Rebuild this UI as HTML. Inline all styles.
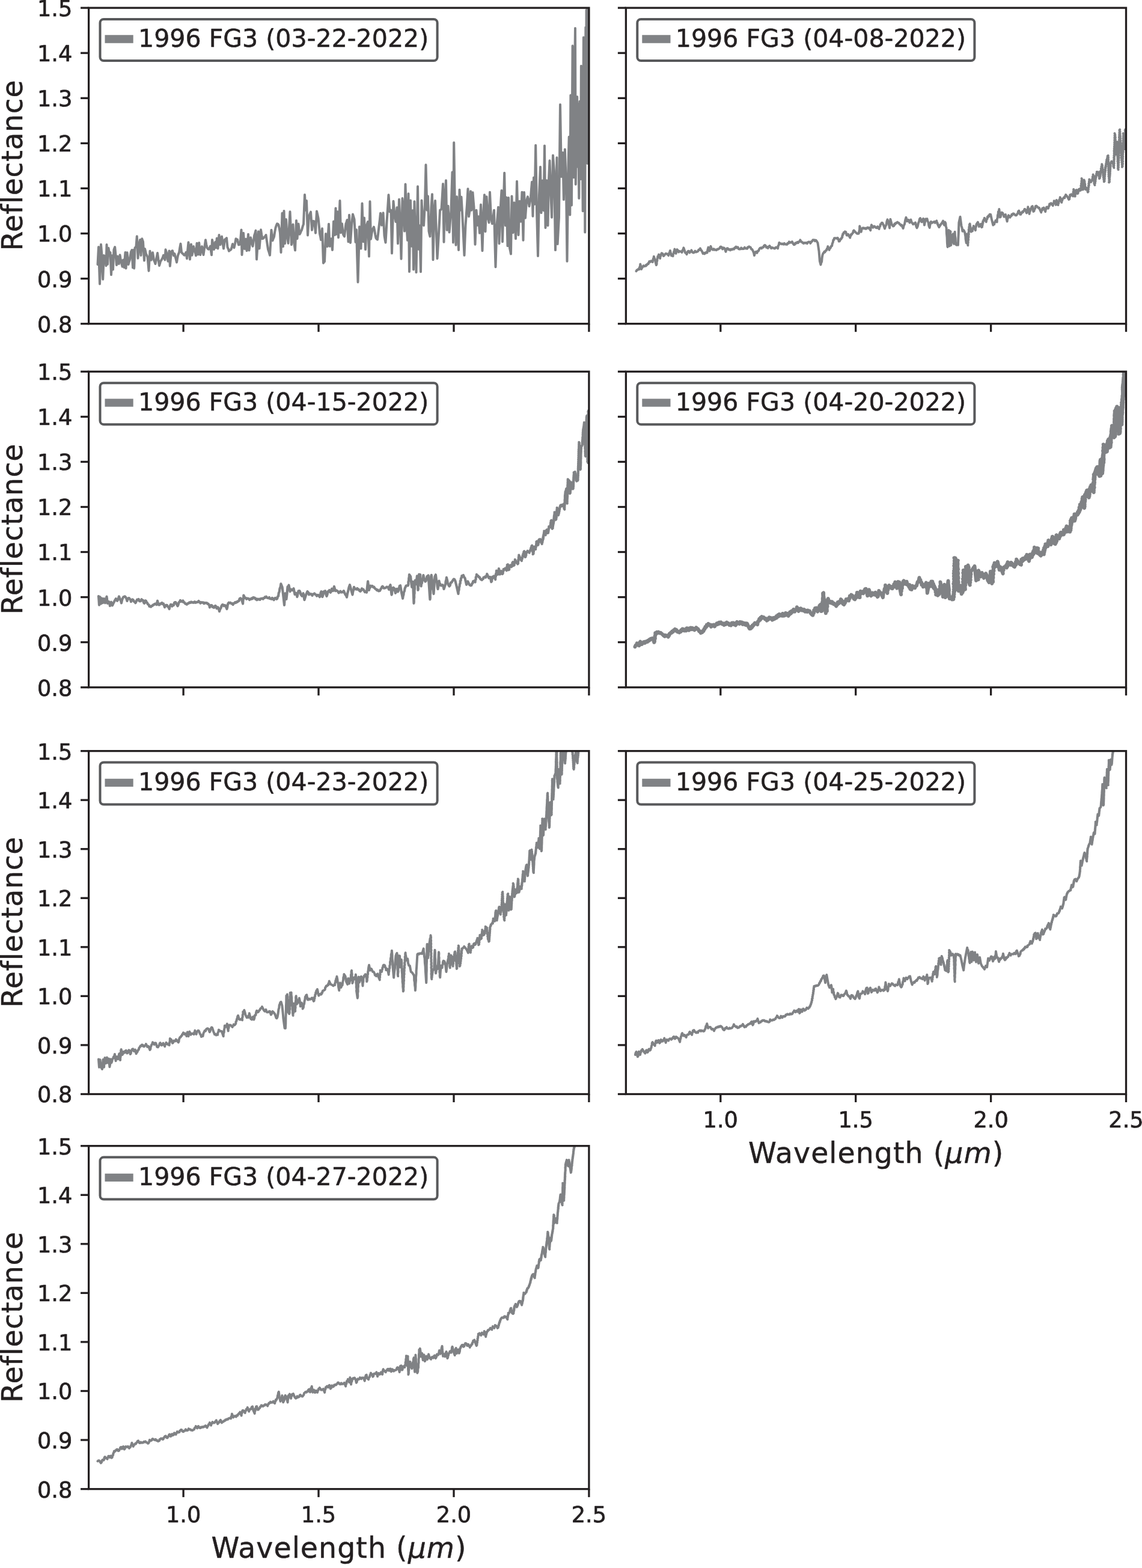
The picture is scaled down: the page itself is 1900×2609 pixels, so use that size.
<!DOCTYPE html>
<html lang="en"><head><meta charset="utf-8">
<title>1996 FG3 reflectance spectra</title>
<style>
html,body{margin:0;padding:0;background:#fff;}
body{width:1900px;height:2609px;overflow:hidden;}
svg{display:block;}
text{font-family:"DejaVu Sans","Liberation Sans",sans-serif;fill:#231f20;stroke:#231f20;stroke-width:0.7px;stroke-linejoin:round;font-variant-ligatures:none;}
.tk{font-size:36.7px;}
.lg{font-size:41.1px;stroke-width:0.5px;}
.lb{font-size:47.4px;stroke-width:0.45px;letter-spacing:0.63px;}
.xl{letter-spacing:1.05px;}
.it{font-style:italic;}
.sp{fill:none;stroke:#231f20;stroke-width:3.3;stroke-linecap:square;}
.ti{fill:none;stroke:#231f20;stroke-width:3.3;stroke-linecap:butt;}
.cv{fill:none;stroke:#808285;stroke-width:4.0;stroke-linejoin:round;stroke-linecap:round;}
.lgb{fill:#fff;stroke:#58595b;stroke-width:4;}
.lgl{stroke:#808285;stroke-width:13.3;stroke-linecap:butt;}
</style></head><body>
<svg width="1900" height="2609" viewBox="0 0 1900 2609">
<rect x="0" y="0" width="1900" height="2609" fill="#fff"/>
<defs>
<clipPath id="c0"><rect x="147.6" y="13.1" width="832.3" height="525.6"/></clipPath>
<clipPath id="c1"><rect x="1041.4" y="13.1" width="832.1" height="525.6"/></clipPath>
<clipPath id="c2"><rect x="147.6" y="618.3" width="832.3" height="525.4"/></clipPath>
<clipPath id="c3"><rect x="1041.4" y="618.3" width="832.1" height="525.4"/></clipPath>
<clipPath id="c4"><rect x="147.6" y="1249.6" width="832.3" height="570.9"/></clipPath>
<clipPath id="c5"><rect x="1041.4" y="1249.6" width="832.1" height="570.9"/></clipPath>
<clipPath id="c6"><rect x="147.6" y="1906.7" width="832.3" height="570.9"/></clipPath>
</defs>
<g>
<polyline class="cv" style="stroke-width:4.0" clip-path="url(#c0)" points="162.5,440 164,411 165,442.1 166,472.4 167,439.9 168,406.8 169.5,425.2 171.2,464.7 172.8,425.1 173.9,426 175,427.7 176.5,442.3 177.5,407.1 179,439.8 180.5,412.7 182,422.3 183.5,420.1 185,457.2 186.5,425.2 188,448.6 189.5,415.2 191.2,411.1 192.8,427.8 194,441.1 195.5,426.5 196.6,432.3 197.8,439 199.5,424.2 200.5,430.1 201.5,434.9 202.5,439.6 203.5,443.6 205,432.6 206.5,444.9 207.5,432.7 208.5,419.9 209.5,446.5 210.5,433 211.5,420.3 212.5,429.8 213.5,440.1 214.6,436.1 215.8,432.7 216.9,425.4 218,418.9 219.5,416 221,445.3 222,416 223.2,446.4 224.5,412.3 225.5,411.5 226.5,409.8 227.8,393.2 229.5,429.7 231,410.1 232,404.2 233,399 234.5,424.9 236.2,397.2 238,402.2 239,418.4 240,433.6 241,413.9 242,417.8 243,422.7 244.2,424.8 245.5,427.7 246.5,438.8 247.5,450.7 248.5,433.7 249.5,417.7 250.5,424.9 251.5,432.8 252.8,426 254,420.3 255,426 256,432.7 257.2,435.3 258.5,439 259.7,432.7 260.8,427.3 262,421 263.5,431.9 265,441.9 266,438.7 267,434.7 268.2,433.3 269.5,431.1 270.8,428.4 272,424.7 273.2,429.1 274.5,432.4 275.5,415.3 276.8,419.8 278,425.2 279.5,434.7 280.5,426.4 281.5,417.4 282.8,442.7 283.9,430.5 285,418.9 286,417.6 287,417.2 288,420.9 289,425.3 290.5,422.2 291.7,427.3 292.8,431.5 294,436.5 295,430.4 296,425.2 297,422.3 298,420.2 299.2,412.6 300.5,405.6 302,419.7 303.2,421.5 304.5,422.3 305.8,424 307,424.7 308.2,422.8 309.5,419.8 311,430.3 312.2,416.4 313.5,403.3 314.8,417 316,431.6 317,418.4 318,406.5 319.5,424.7 320.8,417.8 322,409.9 323.3,415.3 324.7,419.7 326,425.3 327.5,404.8 328.5,414.6 329.5,423.5 331.2,404 332.2,413.6 333.2,424 334.6,416.7 336,410.1 337.2,416.6 338.5,424 339.7,415.4 340.8,407.7 342,399.3 343.2,406.3 344.5,412.4 345.8,414.1 347,414.8 348.5,412.8 350,409.7 351,417.5 352,424.3 353,399 354.5,406.7 356,415.1 357.1,408.6 358.2,402.8 359.5,412.2 360.8,396.5 362.5,413.5 363.5,402.7 364.5,391.1 365.5,399.6 366.5,407.3 367.8,400.9 369,393.5 370.5,404 372,413.6 373,406.4 374,398.6 375.5,397.8 377,396.1 378.5,411.4 379.8,414.1 381,417.8 382.2,416.4 383.3,416.1 384.5,414.9 385.8,410.8 387,406 388.2,409.6 389.5,412.2 391,405.3 392.5,397.2 393.8,398.4 395,398.5 396,403.4 397,407.3 398.2,407.2 399.5,405.9 400.5,394.6 401.5,382.4 402.5,424 403.8,405.4 405,387.7 406,400.4 407,414 408,405.4 409,397.7 410.5,417.2 411.8,404 413,389.8 414.5,416.6 415.8,405.4 417,395.2 418.2,399.7 419.3,405.3 420.5,409.7 421.8,401.5 423,392.2 424.2,388.3 425.5,383.6 427,431.5 428.5,408 430,385.3 431.5,413.6 432.8,398.5 434,382.3 435.2,390.3 436.5,397.3 438,396.6 439.5,394.8 441,393.3 442.5,391 443.7,399.4 444.8,406.9 446,415.1 447.5,419.4 449,424.7 450.2,403.3 451.5,382.7 452.5,391.1 453.5,400.3 454.8,396.7 456,393.9 457.2,386 458.5,379 459.8,375.1 461,372.3 462.2,372.6 463.5,374.1 464.8,380.3 466,387.8 467.5,419.9 468.5,387.7 469.5,354.7 471,410.3 472.5,351.1 474,405.2 475,384.8 476,365.1 477.5,389.8 478.5,397.8 479.5,404.8 481,379 482.5,352.3 483.8,380.2 485,407.2 486.2,390.9 487.5,373.6 489,402.8 490,409.1 491,416.6 492,391.4 493,367.1 494.5,397.2 495.5,385.2 496.5,372.4 497.5,381.5 498.5,389.8 499.7,387.7 500.8,384.8 502,382.7 503.5,377.2 505,372.8 506,347.9 507,324 508.5,349.7 510,334 511,362.2 512,391.5 513,375.4 514,360.2 515.5,356.1 517,352.7 518,367.3 519,382.8 520,374.8 521,367.8 522,367.9 523,369 524,377.8 525,387.7 526,369.2 527,351.4 528.2,356.7 529.5,362.8 530.8,375.4 532,389.1 533,393.5 534,399.1 535,389.2 536,380.2 537,408.5 538,437.8 539,436.1 540,435.3 541,411.6 542,389.1 543.2,399.1 544.5,410.3 545.8,391 547,372.7 548.5,409.7 549.8,404 551,397.3 552,407.1 553,415.9 554,392.8 555,368.5 556,380.3 557,391.1 558.5,346.4 559.5,389.7 560.5,371.6 561.5,352.2 563,395.2 564.2,364.1 565.5,334 567,387.2 568,380.3 569,372.2 570,381.4 571,389.8 572,392 573,393.5 574.2,383.3 575.5,372.3 576.5,369.6 577.5,366 578.5,384.5 579.5,402.2 581,357.8 582,380.4 583,403.9 584,389.2 585,375.3 586,365.3 587,356.6 588.2,360.5 589.5,365.1 590.5,383.4 591.5,402.8 593,382.3 594.2,426.3 595.5,469.4 596.8,423.7 598,377.3 599.2,396 600.5,413.6 601.5,376.6 602.5,338.5 603.5,370.8 604.5,402.1 606,362.6 607,388.5 608,415.1 609,394.7 610,375.1 611,371.7 612,369 613,397.3 614,426.6 615.5,335.3 617,397.8 618.2,389.9 619.5,382.7 620.8,379.9 622,377.7 623.2,383.6 624.3,390.3 625.5,396 626.8,397.8 628,398.6 629.2,388.4 630.5,377.3 631.8,366.4 633,354.7 634,365.2 635,374.8 636.2,365 637.5,354.3 638.5,373.7 639.5,392.2 640.5,398.3 641.5,403.6 642.5,387.2 643.5,369.7 645,347.5 646.5,324.2 647.5,338.6 648.5,352.3 649.5,351.5 650.5,349.7 652,421.4 653.2,377.7 654.5,334.7 655.5,345.9 656.5,357.7 657.5,362.8 658.5,369 659.5,356.7 660.5,345.2 662,405.3 663,368.9 664,331.8 665,353.8 666,374.7 667.5,430.8 668.5,380.1 669.5,330.1 670.5,339.7 671.5,350.1 673,384.6 674.5,306.6 675.5,340.5 676.5,375.2 678,399.8 679.5,322.2 681,451.9 682,393.1 683,333.6 684,372.2 685,409.8 686.5,350.3 688,448.5 689.5,335.3 691,394.9 692.5,453.1 693.8,381.2 695,310.3 696.5,414.8 698,375.2 699,413.2 700,452.2 701.5,333.4 703,365.1 704,369.8 705,375.2 706,357.3 707,340.2 708.5,274.2 709.5,312.6 710.5,349.8 712,326.6 713.5,384.7 714.5,389.6 715.5,393.4 716.5,369.7 717.5,344.8 719,323.2 720.5,432.3 721.5,391.6 722.5,349.7 724,333.9 725.5,374.6 726.5,403.1 727.5,430.2 728.5,414.3 729.5,397.3 730.8,374 732,349.8 733.2,349.1 734.5,347.3 735.8,327 737,306 738.5,402.7 740,334.8 741,318 742,300.2 743.5,382.8 744.5,362.3 745.5,342.8 746.5,364.2 747.5,386.5 749,367.9 750.5,350.3 751.5,317.8 752.5,286.6 754,403.4 755.2,237.3 757,349.9 758.5,407.8 760,327.2 761.5,372.1 763,416 764.5,315.8 766,349.7 767.5,327.7 768.5,344.8 769.5,362.7 771,393.4 772.5,424.8 773.5,399.5 774.5,375.3 775.8,357.3 777,340.3 778.5,314.2 780,360.2 781.5,349.8 783,318.2 784.5,349.8 785.5,335.4 786.5,320.2 787.5,333.1 788.5,344.7 789.5,376.3 790.5,406.7 791.5,378.8 792.5,349.7 793.5,362.8 794.5,374.8 796,360.2 797,373.6 798,387.8 799,363.7 800,340.6 801.2,378.5 802.5,417.2 803.5,383.3 804.5,350.2 806,324.2 807.5,385.3 808.5,355.8 809.5,327.2 810.5,344.4 811.5,362.8 812.5,365.9 813.5,370.4 815,319.8 816,341.5 817,362.3 818,367.8 819,372.3 820.5,361.4 822,349.8 823.2,397.6 824.5,444.3 825.5,410 826.5,374.7 827.8,360.4 829,344.7 830.5,405.3 831.5,377.3 832.5,350.2 833.5,333.2 834.5,317.1 836,402.2 837.5,350.3 839.2,287.8 841,375.2 842.5,328.5 843.5,369.3 844.5,409.1 846,328.9 847,370.4 848,412.8 849,417.2 850,422.6 851.5,326.6 852.5,357.5 853.5,387.1 854.5,362.7 855.5,337.3 856.8,367.8 858,397.1 859,350 860,301.8 861.2,347 862.5,391 863.5,363.3 864.5,334.8 865.5,352 866.5,368.6 867.5,344.6 868.5,319.7 869.5,360.3 870.5,399.7 872,319.9 873,340.8 874,362.8 875,348.5 876,335.4 877,330.7 878,327.4 879.2,334.7 880.5,343.2 881.8,335.1 883,327.7 884,314.9 885,302.8 886.5,359.7 888,295.4 889.5,339.8 891.2,241.8 893,349.6 894,388.4 895,426 896,375.9 897,324.7 898,301.7 899,277.8 900.5,354.1 901.5,326.5 902.5,300.4 903.5,324.7 904.5,350.2 906,242.6 907.5,379 908.5,339 909.5,300.3 910.5,337.2 911.5,375.2 913,299.6 914.5,267.3 915.5,295.8 916.5,325.3 918,361.7 919,310.7 920,258.6 921,272.2 922,284.6 923,350.9 924,416.1 925.2,339.7 926.5,262.2 927.6,406.1 928.8,383.3 930,361.3 931,267 932,173.9 933,233.3 934,293.9 935.2,273.6 936.3,254.1 937.9,332.1 938.9,291.1 939.9,248.6 940.9,276.6 941.9,303.3 943.5,434.7 944.5,356 945.5,278 946.7,227.8 948.3,357.5 949.4,158.4 951,341.6 952.6,76.2 953.8,218.6 954.6,295.3 955.4,178.9 957,46.9 957.8,306.8 959,198.2 960.2,160.9 961,277.4 961.7,172.9 963.3,330 964.5,168.8 965.3,257.7 966.1,297.9 966.9,109.7 967.7,268.1 968.5,198 969.7,351.3 970.9,62.2 971.5,238.4 972.1,297.5 972.7,139.2 973.3,386.6 973.8,178.9 974.4,45.4 975,258.1 975.6,16.7 976.2,182.8 976.8,11.6 977.4,272.1 978,-12.1 978.6,99.5 979.2,-20.2"/>
<line class="ti" x1="134.1" y1="538.7" x2="147.6" y2="538.7"/>
<text class="tk" text-anchor="end" x="120.4" y="552.6">0.8</text>
<line class="ti" x1="134.1" y1="463.6" x2="147.6" y2="463.6"/>
<text class="tk" text-anchor="end" x="120.4" y="477.5">0.9</text>
<line class="ti" x1="134.1" y1="388.5" x2="147.6" y2="388.5"/>
<text class="tk" text-anchor="end" x="120.4" y="402.4">1.0</text>
<line class="ti" x1="134.1" y1="313.4" x2="147.6" y2="313.4"/>
<text class="tk" text-anchor="end" x="120.4" y="327.3">1.1</text>
<line class="ti" x1="134.1" y1="238.4" x2="147.6" y2="238.4"/>
<text class="tk" text-anchor="end" x="120.4" y="252.3">1.2</text>
<line class="ti" x1="134.1" y1="163.3" x2="147.6" y2="163.3"/>
<text class="tk" text-anchor="end" x="120.4" y="177.2">1.3</text>
<line class="ti" x1="134.1" y1="88.2" x2="147.6" y2="88.2"/>
<text class="tk" text-anchor="end" x="120.4" y="102.1">1.4</text>
<line class="ti" x1="134.1" y1="13.1" x2="147.6" y2="13.1"/>
<text class="tk" text-anchor="end" x="120.4" y="27">1.5</text>
<line class="ti" x1="305.1" y1="538.7" x2="305.1" y2="552.2"/>
<line class="ti" x1="530" y1="538.7" x2="530" y2="552.2"/>
<line class="ti" x1="755" y1="538.7" x2="755" y2="552.2"/>
<line class="ti" x1="979.9" y1="538.7" x2="979.9" y2="552.2"/>
<rect class="sp" x="147.6" y="13.1" width="832.3" height="525.6"/>
<rect class="lgb" x="166.5" y="32" width="561.1" height="69" rx="6" ry="6"/>
<line class="lgl" x1="174.5" y1="65" x2="221.7" y2="65"/>
<text class="lg" x="230" y="77.6">1996 FG3 (03-22-2022)</text>
<text class="lb" text-anchor="middle" transform="translate(37,275.2) rotate(-90)">Reflectance</text>
</g>
<g>
<polyline class="cv" style="stroke-width:4.0" clip-path="url(#c1)" points="1058.5,451.2 1059.5,449.5 1061.1,449 1062.1,447.5 1063.7,448.1 1064.1,444.7 1065,443.1 1065.3,439.4 1067.2,447.9 1067.5,445.9 1068.5,445.5 1068.8,443.4 1070.2,443.6 1070.8,442 1072.4,443 1073.3,442.5 1074.6,442.6 1074.9,440.8 1076.2,441 1077,439.2 1078.7,439.2 1079,437.4 1080,437 1080.2,435 1082,435.6 1082.9,434.3 1085.8,436 1085.8,433.4 1086.7,432.4 1086.9,430.2 1087.8,429.2 1087.8,426.7 1090.2,434.2 1091.9,441 1092.6,439.2 1092.6,435.9 1093.3,434.1 1093.5,431 1094.1,429 1094.4,426.5 1095.5,425.9 1095.9,423.5 1098.2,429.9 1098.3,427.2 1099.1,426.3 1099.2,423.7 1100.3,423 1100.8,421.4 1102.3,421.9 1103.9,425.9 1104.9,425.4 1105.5,423.7 1106.6,423.3 1107.5,421.9 1109.1,422.3 1110.4,422.9 1112.2,425.1 1112.9,421.9 1114.1,420.1 1114.9,417 1117.1,425.4 1118.2,425 1119.6,426.1 1119.9,422.8 1120.8,421.6 1121.2,418.9 1122,417.4 1122.4,414.6 1124.6,421.8 1125.5,417.5 1126.6,415.2 1127.7,416.3 1129.1,419.5 1130.2,418 1131.5,418.3 1132.9,418.4 1134.6,420 1135.4,416.6 1136.5,415.5 1137.4,412.4 1140.1,420.5 1141.2,420.7 1142.5,423.2 1143.8,419.3 1145,417.8 1146.2,418 1147.5,420.5 1148.4,418.5 1149.6,418.6 1150.4,416.4 1152,419.8 1153.5,420.5 1155,420 1156.5,417.6 1158,419.4 1159.5,418.8 1161,418.3 1162.5,415.5 1163.8,415.8 1165,413.4 1166.2,416 1167.5,417.2 1169.6,422 1170.6,420.9 1172.1,422.4 1173.2,420.5 1174.5,420.9 1175.4,419.7 1176.6,420.5 1177.5,415 1178.5,411.6 1180.5,417.7 1181.6,415 1182.4,409.8 1183.8,413.5 1185,414.9 1186.3,415.7 1187.5,414.2 1189,415.8 1190.5,415.6 1192,416.3 1193.5,414.5 1195,414.7 1196.5,413.4 1197.6,412.9 1198.4,410.7 1199.6,410.5 1200.7,411.3 1202.1,414.5 1203.2,412.3 1204.5,412.4 1206,414.2 1207.5,418.8 1208.5,414.7 1209.5,413.3 1210.8,413.2 1212,415.4 1213.5,414.7 1215,416.3 1216.5,414.6 1218,415.4 1219.5,414 1221.1,414.6 1222.2,412.3 1223.3,412.7 1224.5,410.5 1225.9,412.4 1227.6,411.3 1228.7,414 1230.1,414.6 1231.5,414.4 1233.1,412.4 1234.5,414.2 1236,413.7 1237.5,414 1239,411.7 1240.5,413.4 1242,413.4 1243.1,413.7 1243.9,411.5 1245.1,411.7 1246.2,410.3 1247.5,411 1248.7,411.5 1250,414.5 1251.5,415 1253,418.2 1254,420.4 1255,425 1256,421 1257,419.2 1258.2,418.8 1259.5,420.8 1260.7,417.8 1262,417.5 1263.2,414.4 1264.5,412.8 1265.7,412.2 1267,413.4 1268.4,411.6 1270.1,411.6 1271.2,408.7 1272.5,407.9 1273.7,408.7 1275,411.8 1276.2,411 1277.6,412.8 1278.4,410.6 1279.5,410.7 1280.4,409 1283.2,413.2 1284.3,411.8 1286.2,412.5 1288.4,413.5 1289.6,413.2 1290.4,411.8 1291.7,411.9 1292.7,411.4 1294.1,413.3 1294.7,409.2 1295.7,407.5 1296.4,403.7 1297.8,405.6 1299,405.2 1300.5,406.2 1301.9,405.5 1303.6,406.6 1304.9,404.8 1306.6,406.6 1307.9,406.5 1309.3,406.9 1310.4,404.7 1311.8,404.9 1312.9,402.4 1314.3,403.8 1315.4,403.2 1316.8,403.6 1317.9,402.1 1319.6,405.4 1321,407.2 1322.3,406.8 1323.4,404.3 1325,404.7 1326.4,402.9 1327.8,404.1 1328.9,402.3 1330.3,402 1331.4,399.3 1332.7,402.1 1334,402.4 1334.9,403.7 1336.1,403.7 1336.8,405 1338.6,403.9 1339.7,404.4 1341.6,403.8 1342.8,405.2 1344.6,402.7 1345.8,402.6 1347.4,402.7 1348.4,404.8 1349.8,402.2 1351,401.7 1352.4,399.2 1353.4,399.3 1354.8,399.3 1355.9,401.1 1357.2,399.5 1358.5,400.8 1360.5,404.2 1362.6,418.3 1363.9,434.5 1365.5,440.4 1366.2,437 1367.1,435.7 1367.7,428.8 1368.5,424.2 1369.5,421.5 1370.6,420.8 1371.4,418.8 1372.6,419.4 1373.6,416.9 1375.1,416.7 1375.7,413.9 1376.9,413.1 1377.3,409.9 1379.6,415.9 1380.4,412.9 1381.6,412.8 1382.7,409.8 1384.1,409.1 1384.8,405.1 1385.7,403.3 1386.4,399.3 1387.5,399.1 1388,396.3 1389.1,396.2 1391.2,396.3 1393.2,397.1 1393.7,395.9 1395.3,399.5 1395.7,401.6 1396.9,401.3 1397,399.4 1398.2,399.1 1398.6,397.5 1399.8,397.4 1400.2,395.7 1401.3,395.1 1401.3,392.5 1402.1,391.4 1402.2,389.1 1403.6,388.8 1403.8,386.7 1405.2,386.6 1405.8,385.4 1407.2,385.8 1408.7,391.4 1410.4,391.5 1411.2,389.9 1414.3,395.6 1414.5,393 1415.5,392.4 1415.9,390.1 1417.3,389.9 1418.3,388.1 1419.3,387.2 1419.7,384.3 1420.6,383.4 1422.9,385.9 1425.7,388.5 1427.3,388.9 1428.7,388.5 1429.3,385.7 1430.1,382.1 1430.3,376.2 1432.7,385.8 1433.7,381.4 1435.1,379.4 1436.2,379.1 1437.6,380.3 1438.7,379.5 1440.6,380.8 1441.4,379.5 1442.6,379.7 1443.4,378.5 1444.9,379.7 1445.8,378.8 1448.3,383.3 1448.6,379.5 1449.4,377.6 1449.9,374.2 1452.6,378.6 1453.6,376.8 1455.1,376.6 1457.3,378.9 1458.8,379.3 1460,377.1 1462.6,381 1463.2,377.7 1464.3,376.6 1464.9,373.1 1466.1,372.9 1466.9,370.8 1468.1,370.8 1469.9,374.4 1472,380.4 1473.2,376.4 1474.5,374.3 1475.4,368.7 1476.5,365.4 1478.4,370.9 1480.1,379.4 1480.4,373.7 1481.1,370.6 1481.4,364.7 1483.6,373.3 1485.9,376.4 1487.4,375.7 1488.4,372.3 1489.6,372.9 1490.5,371 1491.6,371.1 1493,369.6 1494.5,370.8 1495.5,370.9 1496.5,372.9 1497.6,373.2 1498.8,375.1 1500,374.4 1502.6,380 1503.7,375.4 1505,372.9 1506.2,366 1507.5,361.8 1509.4,368.1 1511.5,365.9 1513.4,370.4 1514.6,369.4 1515.4,365.5 1516.7,369.9 1518,371.3 1519.2,373.2 1520.5,371.9 1521.7,372.4 1523,370.4 1524.3,376.4 1525.5,379.3 1526.8,376.4 1528,370.9 1529.1,368.8 1529.9,364.6 1531.1,363.1 1532.2,365.2 1533.5,369.3 1536.1,363.9 1536.6,368.3 1537.4,369.8 1537.9,374.6 1540,364.2 1541.2,365.1 1542.5,364.1 1543.4,368.4 1544.5,369.9 1545.4,375.7 1546.6,378.9 1547.2,375 1548.9,368.8 1549.6,370.7 1551.2,370.7 1553.4,369.1 1555,368.8 1555.7,370.7 1558.3,367.4 1558.4,370 1559.5,370.6 1559.7,373.1 1560.8,373.5 1560.9,375.6 1562,376 1562.2,378.1 1565.3,373.3 1567.3,370.8 1569,367.6 1570,372.3 1571,374.4 1572.3,369.5 1573.3,371.7 1573.7,376.7 1574.6,379.4 1574.9,388.3 1575.6,395.1 1575.9,404.1 1576.5,410.9 1576.6,407.1 1577.2,401.6 1577.1,398 1577.6,392.5 1577.6,388.7 1578.3,383 1578,386.8 1578.5,388.5 1578.1,392.3 1578.8,393.8 1578.5,397.4 1579.1,399.1 1578.8,402.7 1579.5,404.1 1579,408.1 1579.8,409.4 1579.5,406.8 1580.2,401.9 1579.9,399.3 1580.6,394.6 1580.3,391.8 1581,387.1 1580.7,384.5 1581.5,385.4 1581.1,388.8 1581.6,390.6 1581.3,393.8 1582,395.1 1581.6,398.5 1582.2,400.1 1581.9,403.4 1582.6,404.6 1582.2,408.1 1583.4,399.4 1583.9,392.9 1585.6,389.4 1585.7,394.8 1586.4,397.2 1586.5,403 1587.1,405.8 1587.6,396.7 1588.6,385.8 1588.9,392.4 1589.6,396.1 1589.9,403 1590.6,406.9 1591.5,407.7 1592.5,405.4 1593.9,407.7 1594.8,387.7 1595.4,370.4 1597.5,360.8 1599.5,375.8 1600.5,378.8 1601.4,384.7 1602.5,382.6 1603.6,383.4 1605.2,386.8 1606.4,393.7 1606.6,397.7 1607.7,404.2 1607.4,401.2 1608.3,400.4 1607.9,397.5 1608.6,396.3 1608.3,393.5 1609.1,392.4 1608.6,389.4 1609.4,394 1609.2,396.7 1609.9,401.2 1609.9,404.1 1610.4,408.3 1610.2,405.3 1610.7,403.6 1610.4,400.5 1611.2,399.2 1610.8,396 1611.5,394.5 1611.2,391.5 1611.8,390 1611.5,386.8 1612.1,385.3 1611.7,381.9 1612.5,380.8 1612.3,377.7 1613,376.5 1613,373.6 1613.7,372.4 1613.9,375 1614.7,378.9 1614.6,381.1 1615.8,385.6 1616.3,384.1 1617.9,384.4 1617.8,382 1618.7,381.1 1618.8,379 1619.9,378.3 1619.8,376 1622.9,383.1 1623.1,379 1623.9,377.1 1624.4,373.4 1626.9,369.6 1628.9,376.9 1630,376.3 1630.5,373.5 1631.6,372.9 1633.2,378.1 1634.1,377.5 1633.8,374.9 1634.8,374.2 1634.4,371.5 1635.5,370.9 1635.2,368.3 1636.4,367.7 1636.5,365.5 1637.8,365 1637.8,362.7 1640.8,369.1 1641.2,365.6 1642.4,364.4 1642.9,360.8 1644.1,361.1 1644.4,359.1 1645.8,359.4 1646.5,356.7 1648.1,356.7 1649.8,364.4 1652.3,374.5 1652.9,372.5 1654.2,373.2 1654.7,370.2 1655.7,369.5 1656.4,367.1 1658.7,369.4 1658.8,364.5 1659.7,362.6 1659.9,358.1 1660.7,355.8 1660.9,352.2 1662,351.2 1662.3,348.1 1663.4,356.3 1663.8,361.6 1664.8,360.7 1665.2,357 1666.1,355.5 1666.8,353.6 1668.2,354.5 1670.4,360.7 1671.8,360.1 1672.9,357 1675.6,368.4 1676.2,364.1 1677.3,362.3 1677.9,358.2 1680.6,361.6 1681.3,359.6 1682.8,359.3 1683.2,356.8 1684.6,357.2 1685.4,355.5 1686.7,355.6 1689.3,358.2 1691,358.2 1692.5,355.9 1693.5,354.8 1694.1,351.7 1695.2,350.7 1697.3,356.8 1698.5,356.8 1698.9,354.1 1700.1,354.2 1700.9,352.2 1702.1,352.8 1702.9,350.9 1703.9,350.3 1704.5,348 1705.7,348.3 1707.9,354.4 1708.8,353.3 1709.1,349.4 1710,348.2 1710.3,344.3 1712.6,355.9 1713.2,351.9 1714.3,350.7 1714.9,347.1 1715.9,346.3 1716.6,343.7 1717.7,343.2 1719.3,351.9 1720.5,350.9 1721,347.8 1722.2,347 1722.8,343.2 1724.1,342.5 1726.3,344.4 1727.9,346.2 1728.9,345.9 1732.2,353.3 1732.7,350.4 1733.9,350 1734.3,346.6 1736,347.5 1736.7,345.6 1739.2,352.1 1739.7,348.8 1740.8,347.5 1741.3,344.4 1744.1,346.6 1744.6,343.6 1745.8,342.6 1746.2,339.2 1747.9,339.7 1748.8,338.2 1751.7,342.1 1752.2,338.7 1753.3,337.4 1753.7,334.2 1756.8,340.8 1756.8,337.4 1757.8,336.4 1757.7,333 1760.4,341.2 1760.2,338.3 1761.4,338 1761.3,335.4 1762.3,334.7 1762.3,332.1 1763.6,331.3 1763.7,328.2 1766.3,336.8 1766.4,334.2 1767.4,333.4 1767.5,331 1768.8,330.5 1769.5,329 1771.3,329.3 1771.5,326.9 1772.9,326.2 1773.1,323.9 1776.2,327.8 1778.2,331.9 1779.3,331.2 1779.3,328.3 1780.2,327.2 1780.2,324.3 1781.6,324.8 1782.4,323.3 1785.2,326.5 1785,323.6 1785.9,322.5 1785.6,319.3 1786.4,318 1786.2,315 1787.4,319.5 1787.4,322 1788.7,326.6 1788.6,324.1 1789.4,323 1789.2,320.4 1790.1,319.5 1789.7,316.7 1791,316.1 1792.8,322.2 1793.7,321.1 1793.6,318.4 1794.9,317.9 1794.7,315.1 1795.9,314.3 1797.5,316.9 1798.6,316 1798.2,313.2 1798.9,311.9 1798.4,308.9 1799.4,308.1 1799,305.2 1799.8,304 1799.4,301.2 1800.2,300 1799.6,296.9 1800.7,301.3 1800.5,303.4 1801.2,307.2 1801.1,309.6 1801.9,313.6 1801.6,315.6 1802.4,314.4 1802,311.6 1803.2,310.7 1802.5,307.5 1803.5,306.4 1803.1,303.4 1804,302.3 1803.6,299.4 1804.6,302.5 1804.3,303.9 1805.3,306.9 1804.9,308.3 1805.9,311.3 1805.3,312.4 1806.2,315.3 1806.6,313.2 1808.4,313.1 1809.8,319.7 1810.6,318.7 1810,316 1810.9,315 1810.5,312.5 1811.3,311.4 1811,309 1811.9,308.1 1811.3,305.4 1812.1,304.4 1811.9,302.1 1812.5,300.8 1812.3,298.5 1815.3,302.8 1815.6,300.7 1817.3,300.4 1817.2,297.9 1818.1,297 1817.8,294.1 1818.9,293.6 1818.6,290.6 1819.5,293.9 1819.3,295.5 1820.1,298.6 1819.7,300 1820.8,303.3 1820.3,304.6 1821.4,308 1820.8,305.4 1822,304.7 1821.6,302.4 1822.6,301.5 1822.1,299.1 1822.9,298.1 1822.6,295.8 1823.6,294.9 1823.2,292.3 1824.4,291.8 1824.1,289.2 1825.1,288.5 1824.8,286 1827.9,286.5 1827.6,288.2 1828.5,290.9 1828.3,292.6 1829.3,295.5 1829,297 1829.9,296.1 1829.6,294 1830.7,293.2 1830.1,290.9 1830.9,289.9 1830.5,287.7 1831.7,287 1831,284.6 1832.3,283.8 1831.8,280.7 1832.7,279.7 1832.5,276.9 1833.5,276.2 1833.2,273.3 1834,275.7 1833.4,276.9 1834.3,279.1 1833.9,280.4 1834.9,282.7 1834.3,283.8 1835,285.9 1834.7,287.3 1835.8,289.8 1835.2,291 1836,293.3 1835.7,294.8 1836.6,297.2 1836.3,298.6 1837.2,301 1836.8,302.3 1837.6,301.2 1837,298.6 1837.9,297.8 1837.2,295.1 1838,294.1 1837.6,291.8 1838.4,290.7 1837.9,288.3 1838.6,287.2 1838.4,285 1839.2,284 1838.5,281.3 1839.4,280.4 1838.9,278.1 1840,277.4 1839.6,275.2 1840.4,274.1 1840.2,272.2 1841,271.1 1840.7,269.1 1841.4,267.9 1841.1,265.9 1842.4,265.2 1842.1,263.1 1842.9,262 1842.6,259.8 1843.7,258.9 1843.4,260.3 1844,262.3 1843.3,263.5 1844,265.6 1843.4,266.7 1844.2,268.9 1843.6,270.1 1844.4,272.3 1843.8,273.5 1844.7,275.8 1844.1,276.9 1844.8,279.1 1844.2,280.2 1844.8,282.3 1844.1,283.4 1845.1,285.7 1844.3,286.7 1845.2,289 1844.4,290.1 1845.4,292.4 1844.5,293.4 1845.5,295.7 1845,296.9 1845.7,299.1 1845.2,300.3 1845.7,302.3 1845,303.4 1846,302.5 1845.3,300.1 1846.1,299.1 1845.5,296.8 1846.2,295.7 1845.7,293.5 1846.6,292.6 1846,290.3 1846.9,289.4 1846.2,287 1847,285.9 1846.5,283.8 1847.2,282.7 1846.7,280.5 1847.4,279.4 1847,277.3 1847.8,276.2 1847.1,273.8 1847.7,272.7 1847.9,271 1849,270.2 1849.1,268.4 1851.9,270.3 1851.7,272 1852.7,274.8 1852.3,276.3 1853.4,279.1 1852.6,276.5 1853.5,275.5 1852.8,272.9 1853.7,271.9 1853.1,269.5 1853.6,268.1 1853.2,265.8 1853.9,264.7 1853.2,262 1854,260.9 1853.4,258.5 1854.3,257.5 1853.6,254.9 1854.1,253.6 1853.5,251 1854.3,250 1853.7,247.5 1854.6,246.6 1853.9,244 1854.6,242.8 1854.2,240.4 1854.6,239.1 1854.2,236.7 1855,235.7 1854.3,233 1855.1,232 1854.3,229.3 1855.2,228.3 1854.5,225.8 1855.3,224.7 1854.5,222 1855.4,224.8 1855,226.2 1855.8,228.8 1855.1,230 1855.8,232.5 1855.5,234 1856.2,236.5 1855.5,237.7 1856.5,240.5 1855.9,241.7 1856.5,244.2 1856.1,245.6 1856.7,248 1856.2,249.4 1857.1,252.1 1856.4,253.3 1857.4,256.1 1856.6,257.1 1857.6,256.2 1857,254 1857.6,252.8 1857.1,250.5 1857.8,249.4 1857.3,247.2 1858.1,246.1 1857.6,243.8 1858.2,242.7 1857.9,240.6 1858.6,239.5 1858,237.2 1858.9,236.2 1858.4,237.5 1858.9,239.9 1858.5,241.4 1859.1,243.8 1858.6,245.2 1859.3,247.7 1858.8,249 1859.4,251.5 1858.9,252.8 1859.5,255.3 1859,256.7 1859.7,259.2 1859.2,260.6 1859.9,263.1 1859.4,264.5 1860,266.9 1859.4,268.2 1860.1,270.7 1859.8,272.2 1860.3,274.6 1859.9,276 1860.5,278.5 1859.9,279.7 1860.6,282.3 1860.1,279.7 1860.9,278.5 1860.4,275.9 1861,274.6 1860.4,271.7 1861.2,270.7 1860.6,267.9 1861.4,266.8 1860.9,264.1 1861.6,262.9 1861,260.2 1861.7,259 1861.1,256.2 1861.7,254.8 1861.2,252.2 1861.9,251 1861.3,248.2 1862,247 1861.6,244.4 1862.1,242.9 1861.8,240.5 1862.2,239 1861.8,236.4 1862.5,235.3 1862,232.6 1862.7,231.3 1861.9,228.3 1862.7,227.2 1862.2,224.5 1862.8,223.3 1862.4,220.6 1863.1,219.4 1862.4,216.6 1863.2,215.5 1862.6,216.6 1863.5,219.2 1863,220.5 1863.6,222.8 1863.3,224.4 1864,226.8 1863.4,228 1864.1,230.4 1863.5,231.6 1864.3,234.2 1863.8,235.4 1864.9,238.2 1864.1,239.3 1865.1,241.9 1864.3,242.9 1865.1,245.5 1864.6,246.8 1865.5,249.5 1865,250.8 1865.6,253.1 1865.3,254.7 1866,257.1 1865.5,258.4 1866.5,261.1 1865.7,262.3 1866.6,264.8 1866,266.1 1866.9,268.8 1866.3,270 1867.1,272.5 1866.7,274 1867.6,276.6 1866.9,277.8 1867.6,276.5 1867,273.6 1868,272.8 1867.2,269.7 1868.1,268.8 1867.3,265.8 1868,264.6 1867.7,262 1868.2,260.6 1867.6,257.9 1868.2,256.5 1867.7,253.8 1868.7,253 1868,250 1868.8,249 1868,245.9 1868.8,244.8 1868.4,242.2 1868.9,240.8 1868.5,238.2 1869.2,237.1 1868.6,234.1 1869.3,233 1868.6,230.1 1869.3,228.9 1868.9,226.2 1869.6,225.1 1868.8,222 1869.7,225.7 1869.2,227.4 1870.1,231.3 1869.5,232.9 1870.5,236.9 1870.1,238.7 1870.8,242.4 1870.4,244.2 1871.3,248 1870.7,244.2 1871.4,242.6 1870.8,238.4 1871.6,237.1 1871.1,233.1 1871.7,231.4 1871.3,227.7 1872,226 1871.6,222.3 1872.3,220.8 1871.7,216.7 1872.5,215.3 1871.9,216.5 1872.8,219.7 1872.5,221.4 1873.2,224.5 1873,226.3 1873.7,229.3 1873.4,231.2"/>
<line class="ti" x1="1027.9" y1="538.7" x2="1041.4" y2="538.7"/>
<line class="ti" x1="1027.9" y1="463.6" x2="1041.4" y2="463.6"/>
<line class="ti" x1="1027.9" y1="388.5" x2="1041.4" y2="388.5"/>
<line class="ti" x1="1027.9" y1="313.4" x2="1041.4" y2="313.4"/>
<line class="ti" x1="1027.9" y1="238.4" x2="1041.4" y2="238.4"/>
<line class="ti" x1="1027.9" y1="163.3" x2="1041.4" y2="163.3"/>
<line class="ti" x1="1027.9" y1="88.2" x2="1041.4" y2="88.2"/>
<line class="ti" x1="1027.9" y1="13.1" x2="1041.4" y2="13.1"/>
<line class="ti" x1="1198.8" y1="538.7" x2="1198.8" y2="552.2"/>
<line class="ti" x1="1423.7" y1="538.7" x2="1423.7" y2="552.2"/>
<line class="ti" x1="1648.6" y1="538.7" x2="1648.6" y2="552.2"/>
<line class="ti" x1="1873.5" y1="538.7" x2="1873.5" y2="552.2"/>
<rect class="sp" x="1041.4" y="13.1" width="832.1" height="525.6"/>
<rect class="lgb" x="1060.3" y="32" width="561.1" height="69" rx="6" ry="6"/>
<line class="lgl" x1="1068.3" y1="65" x2="1115.5" y2="65"/>
<text class="lg" x="1123.8" y="77.6">1996 FG3 (04-08-2022)</text>
</g>
<g>
<polyline class="cv" style="stroke-width:4.2" clip-path="url(#c2)" points="164,992 164.5,998.6 165,1006.7 166.5,993.4 167.2,999.7 168.1,1004.5 169.5,995.6 171,1003.2 172.9,996.1 174.1,998.8 175,1003.3 176.3,997.1 177.5,992.7 179,1004 181,1001.1 182.1,1003.4 182.9,1008.1 185,1001.7 186,1005.5 187,1007.4 188.9,1003.2 191.1,999.1 192.9,996.2 195,999.8 196.5,997.3 198,992.4 200,997.8 201,999.5 202,1003.4 203,998.6 204,995.8 205.3,993.4 206.5,993.1 207.7,992.3 209.1,993.7 210.2,995.7 211.5,999.9 212.5,996.5 213.5,995.3 214.7,995.1 216.1,996.9 217,997.8 218,1001.2 219.3,998 220.5,997.3 221.8,998.3 222.9,1001 224.3,1001 225.4,1003.2 228.1,997.7 229.2,998.1 230.6,996.9 231.7,1000.1 233.1,1000.5 234.2,999.9 235.6,997.3 236.7,999 238.1,998.9 238.9,1002.4 240.1,1003.8 241.9,999.3 243.1,1000.1 243.9,1002.8 245.1,1003.1 245.9,1005.4 247.4,1006.1 248.5,1009 249.8,1008.7 251,1009.8 252.3,1008.1 253.4,1008.2 254.8,1006.4 256,1006.5 257.3,1004.9 258.4,1005.1 259.6,1004.4 260.4,1006.2 262,999.7 263,1004 264,1006.5 265.2,1006.5 266.6,1004.4 268,1004.7 269.5,1003 270.7,1005.1 272,1004.4 274,1010.4 275.2,1007.8 276.6,1006.8 277.7,1006.8 279.1,1009.5 280.2,1009.9 281.6,1013.3 282.7,1008.4 284,1005.9 285.2,1006.1 286.5,1008.7 287.7,1006.5 289,1007 290,1003 291,1002 292.2,1002 293.5,1004.5 295.5,1008.4 296.5,1006.5 297.5,1002.4 298.8,1001.7 300,998.9 301.3,1000.8 302.4,1000.6 303.6,1001.2 304.4,999.4 305.8,1002.2 307,1002.6 308.3,1004.6 309.4,1004.8 310.8,1005.7 312,1004.1 313.5,1004.1 315,1002.3 316.5,1002.9 318,1001.5 319.5,1002.7 321,1002.1 322.5,1002.9 324,1001.3 325.5,1002.8 327.1,1001.9 328.7,1001.9 330.6,1000.1 331.4,1001.8 332.6,1001.9 333.4,1003.7 335.1,1002.1 336.4,1002.7 338.1,1002.4 339.4,1004.3 341,1002.9 342.5,1003.4 344,1003.2 345.5,1005 346.5,1004.7 347.4,1006.1 348.3,1007.3 348.9,1010.6 350.3,1007.4 351.4,1007 352.5,1007.3 353.5,1010 354.8,1009.6 356,1011.1 357.3,1008.5 358.5,1008 359.5,1009.3 360.5,1012.4 361.5,1010.5 362.5,1010.4 363.8,1012.7 365,1017.3 366.2,1013.7 367.5,1011.7 368.7,1008 370,1006.1 371.2,1006.4 372.5,1008.3 373.7,1007.1 375.1,1007.5 377.4,1013.3 378.2,1010.7 378.7,1006.7 379.6,1004 380.6,1002.7 382.1,1003.4 383.3,1002.7 385.2,1004.4 386.2,1004.2 387.6,1006.1 388.6,1003.8 390.1,1003.6 391.1,1002.1 392.6,1002.9 393.6,1001.4 395.1,1001.6 396.1,1000 397.6,999.9 398.6,996.3 400.1,995.3 401.9,996.9 404.1,1004.5 404.4,999.2 405.1,995.9 405.3,990.5 407.6,994.9 408.7,994.8 410.1,996.7 411.2,995.5 412.5,995.8 413.7,996.2 415.1,998.1 416.2,996.6 417.6,997 418.7,995.5 420.1,996.2 421.2,994.1 422.6,994.5 423.7,994.6 425.1,997 426.2,996.2 427.5,998.3 428.8,996.6 430,997.4 431.2,996.7 432.5,997.8 433.7,996.2 435,996.2 436.2,995.6 437.6,996.7 438.7,995.1 440.2,995 440.8,993.4 442.1,993.8 442.9,992.7 444.2,994.5 445.5,995 446.8,995.3 448,994.1 449.3,996.2 450.4,996.3 451.9,996.8 452.8,994.9 455.7,998.2 456.7,995.7 458.1,995 460.3,996.8 461.4,995.7 462,992.7 463.1,991.9 463.7,986.9 464.8,984.4 465.4,979.5 466.6,976.7 467.4,971.4 469.6,977 471.4,992 473,1006.8 473.7,996 474.5,987.4 476.4,996.9 477.5,987.7 478.5,976.4 479.5,976.2 480.5,973.7 482.6,984.3 483.4,981.2 484.6,980.6 486.4,982.2 487.6,982 488.5,979.2 490.5,989.1 491.5,986.7 492.5,986.8 493.6,988.8 494.4,993.1 496.6,983.3 498.3,983.1 499.5,985.2 500.5,989.3 502.4,991.7 503.5,990.3 504.5,987.2 506.5,998.1 509.2,989.3 511.5,984.2 512.8,985.6 514,989.4 515.3,987.7 516.4,988.7 518,988.4 519.5,990.9 520.7,988.7 522,988.3 523.2,987.5 524.6,989.3 525.7,989.5 527,991.7 528.2,990.1 529.6,990 531.9,993.3 532.9,990.8 533.6,986.3 534.6,984.3 536.4,993 537.5,989.9 538.4,984.4 539.8,985 541,983.3 542.3,988.8 543.5,992 544.5,989.3 545.5,984.2 546.7,984.1 548,982 549,985 550,985.8 551.1,983.8 552,979.6 554.1,983.1 554.5,979.7 555.4,978.9 555.9,975.8 558,983.3 559.2,982.2 560.6,982.9 561.9,983.8 563.5,986.5 564.4,985.1 565.6,985.4 566.4,983.8 568,985.6 569.5,984.9 570.8,985.4 571.9,983.1 574.6,989.5 575.7,990.3 577,993.7 578,987.8 579,984.1 580.5,977.5 582,973.2 584.4,982.1 586.5,989.5 587.3,984.3 588.2,981.6 588.9,976.8 590.3,979.5 591.5,980.2 593.1,980.6 594.4,978.9 595.8,981 596.9,980.7 598.3,983.2 599.5,983.9 600.8,982.6 602,979.3 603.3,980.9 604.4,980.7 607.1,985.2 608.5,984.1 610,985.7 612.1,967.3 614,981.9 614.7,978.6 615.8,977.8 616.4,974.5 618,975.7 619.5,975 621.1,977.2 622.4,976.7 624,979.5 625.5,980.1 627.1,982.1 628.4,981.4 629.7,983.5 631,983.2 632.2,982.7 633.5,979.9 634.5,979 635.5,976.3 636.6,975.7 638.9,978.8 641.4,978.3 643.1,976.7 644.4,976.7 645.8,977.6 647,980.9 648.2,975.8 649.5,973.2 651.5,989.6 652.1,988.1 652.1,984.3 652.8,982.8 653,979.7 653.7,978 654.6,977.7 656.2,979.2 657.9,986.9 659,984.6 660,979.8 661,983.5 662,984.5 662.8,983 663.2,979.4 664.1,978 664.8,974.9 666.1,974.3 668,985.7 670.1,995.8 670.6,992.1 671.4,989.7 671.8,985.6 672.9,983.5 673.6,979 674.6,976.9 675.6,974.5 677.2,974.2 678.9,974.3 679.4,972.2 679.4,968.1 680.1,966 680.2,962.2 680.8,959.7 680.9,956 683.1,959.1 683.9,967 685.2,976.8 686,971.1 687,968 688.5,1003.8 688.8,1001.3 688.7,996.8 689.2,994.1 689.1,989.6 689.6,987 689.5,982.6 690,979.9 689.9,975.5 690.4,972.8 690.2,968.2 690.7,965.7 692.4,971.9 693.9,958.3 694.4,965.6 695.1,974.8 695.4,981.8 695.9,980.2 695.6,976.7 696.2,974.9 696,971.4 696.7,969.7 696.5,966.4 697,964.4 696.9,961 697.5,959.4 697.2,955.7 699.2,956.1 699.6,964.6 700.6,975.4 701,971.7 701.9,970.4 702.4,966.8 703.6,963.4 704.4,957.1 705.5,962.8 706.5,965.5 707.5,967.6 708.5,967 710.4,959.1 712.6,957.5 714.1,978.2 715.4,997.4 715.8,994.8 715.7,989.7 716.2,987 716.1,982.5 716.6,979.6 716.4,974.7 716.9,972 716.8,967.2 717.2,964.2 717.1,959.5 717.7,956.9 719.5,969.5 720.5,980 721.5,988.1 723.5,959.2 724.9,956.3 725.9,964.4 727.1,969.2 727.7,975.6 728.5,980.1 729.5,974.6 730.5,966.6 731.4,970.5 732.6,971.9 733.3,974.1 734.8,974.3 736.4,973.2 737.5,975.5 738.5,980 740.5,974.1 741.2,972.2 741.6,967.5 742.4,965 742.9,960.9 744.2,966.1 744.7,969.4 746.2,973.5 747.6,975.5 748.8,973.9 749.9,969.3 751.3,969.2 752.5,967 754.8,963.6 756.2,964.1 757.5,966.7 760,976.9 762.5,988 762.8,983.7 763.6,981.6 763.8,977.4 764.6,975.5 764.8,972 765.7,970.6 765.8,966.7 766.7,965.6 766.9,962.2 768,961.4 768.3,958.1 769.8,958.5 770.9,956.9 772.3,960.6 773.5,961.7 776.1,972.8 776.8,970.7 777.8,970.1 778.3,967.3 781.1,973.1 782.9,974.3 784.3,974 785.5,970.7 786.5,970.4 787.1,967.2 788.1,966.9 789.1,966.4 790.6,968.5 790.8,965.2 791.7,963.9 791.7,960.3 792.7,959.1 792.9,955.9 794.3,958.1 795.4,958 796.8,960.6 797.9,960.4 799.3,963.5 800.5,964.4 801.9,965 802.9,963.4 804,963.1 804.5,960.8 805.7,960.5 806.6,959.7 808.1,960.8 808.7,958.5 809.8,957.5 810.3,955 813.2,961.7 814.1,960 815.7,960 817.3,968.3 818.2,967.1 818.4,964 819.2,962.7 819.4,959.6 820.9,959.7 821.9,958.4 824.2,964.3 824.2,960.6 825,958.7 825,954.9 825.8,953.3 825.9,949.7 828.2,955.9 828.1,953 829.1,952.4 829,949.5 829.8,948.4 829.9,946 831.2,951.7 831.7,955.7 832.9,954.7 833.2,951.8 834.1,950.3 835.8,955.1 836.7,954 836.8,951.1 837.7,949.8 837.7,947 839.5,947.4 840.3,945.8 842.8,949.2 842.6,946.8 843.4,945.7 843.2,943.3 844,942.3 843.8,939.9 844.9,939.3 844.9,941.7 846.2,945.9 846.2,948.4 847.3,947.5 846.9,944.8 847.9,943.8 847.8,941.4 848.8,940.5 850.6,943.3 851.8,942.5 851.4,939.8 852.6,939 852.4,936.5 853.2,935.3 854.8,941 855.7,940.1 855.3,937.5 856.4,936.7 856.2,934.4 857.1,933.4 856.8,931 859.6,936.5 861.3,938.5 862.1,937.3 861.8,934.7 862.5,933.5 862.3,930.9 863.1,929.8 862.8,927.2 863.4,925.8 863.3,923.5 864.8,927.2 865.3,929.8 867.9,933 867.7,930.5 868.9,929.8 868.7,927.5 869.8,926.6 869.5,924.2 870.7,923.6 870.4,921.3 871.5,920.4 871.4,918.3 872.2,917.2 872.4,920.2 873.6,924.3 873.7,927 874.6,926.3 874.3,924.1 875.4,923.6 875,921.3 875.9,920.5 875.7,918.5 877.2,918.1 877.7,916.7 880.7,919.7 880.7,917.6 882,916.9 882.2,915 883.4,914.2 883.2,911.9 884.4,911 884.3,908.8 885.2,907.7 885.1,909.5 885.9,912.1 885.4,913.5 886.4,916.3 886.2,918 887,920.6 886.7,922.2 887.6,921.2 887.2,919.1 888,918 887.8,916.1 888.5,914.9 888.2,912.9 888.9,911.7 888.7,909.7 891.2,914 890.9,911.7 891.7,910.6 891.5,908.6 892.4,907.6 892.1,905.3 892.7,904.1 892.3,901.7 893.2,900.7 893.3,902.5 894.6,905.4 894.6,907.2 895.6,906.2 895.4,904.3 896.2,903.2 895.9,901.3 896.6,900.2 896.4,898.2 897.4,897.3 899.3,897.4 900.4,900.2 900.4,902.2 901.7,905.1 901.5,903.3 902.5,902.3 902.1,900.4 903.1,899.3 902.8,897.4 903.9,896.6 903.3,894.5 904.3,893.7 903.8,891.8 904.6,890.9 904.4,889.2 905.3,888.2 904.9,886.4 905.5,885.3 905.3,883.6 906.4,886 906.7,887.8 907.7,890.2 907.6,888.4 908.5,887.3 908.1,885.3 909.1,884.4 908.9,882.5 909.7,881.4 910,883.2 911.3,885.8 911.2,887.2 912.2,886.4 911.6,884.5 912.7,883.5 912.2,881.7 913,880.6 912.7,878.9 913.6,877.9 913.2,876.1 915.8,877.2 915.3,875.4 916.2,874.3 915.8,872.6 916.4,871.3 916.1,869.6 917,868.6 916.6,866.8 917.4,865.7 917,867 917.7,868.9 917.5,870.2 918.3,872.1 917.9,873.5 918.7,875.4 918.1,876.6 919.1,878.5 918.7,879.8 919.7,878.8 919.3,877.1 920,875.9 919.7,874.2 920.5,873.1 920.2,871.4 921.1,870.4 920.7,868.6 921.5,867.6 921,865.8 921.8,864.9 921.3,863.1 922.1,862.2 921.6,860.4 922.6,859.5 921.9,857.7 922.7,856.7 922.4,855.1 923.1,854 922.6,852.3 923.6,854.3 923.2,855.5 924,857.3 923.7,858.6 924.5,860.5 924.1,861.6 925,863.6 924.6,864.8 925.4,863.7 925,862 925.8,860.9 925.3,859.1 925.9,858 925.6,856.3 926.2,855.1 925.9,853.4 926.5,852.2 926.1,850.5 926.8,849.4 926.4,847.7 927.1,846.6 926.7,844.8 927.5,846.7 927.2,848 928,849.8 927.7,851.1 928.6,853 928.3,854.3 929,856.1 928.7,857.3 929.4,856.2 929.1,854.5 930.1,853.5 929.7,851.7 930.6,850.7 930.1,848.8 931.1,847.8 930.8,846.2 931.6,845.1 931.4,843.5 932.6,842.7 932.2,841 933.4,840.3 934.6,842.3 935.9,841.3 936,839.8 937.4,838.9 937,840.1 937.8,841.7 937.8,843 938.6,844.7 938.4,845.9 939.3,847.6 938.8,846 939.4,844.9 938.9,843.3 939.5,842.1 939.1,840.5 939.8,839.4 939.1,837.7 940,836.6 939.5,835 940,833.9 939.5,832.2 940.2,831.1 939.8,829.6 940.2,828.3 939.8,826.7 940.3,825.6 939.9,824 940.7,822.9 940.3,821.3 940.8,820.1 940.5,818.6 941.5,817.6 941.4,816.2 942.1,815.1 942,813.7 942.7,812.6 942.4,813.8 942.9,815.4 942.5,816.6 942.9,818.1 942.5,819.4 943,820.9 942.7,822.1 943.2,823.7 942.7,824.9 943.3,826.5 942.9,827.7 943.3,829.2 942.9,830.4 943.6,832.1 943.1,833.2 943.7,834.8 943.3,836 943.7,837.6 943.3,836 943.8,834.8 943.4,833.3 943.8,832 943.5,830.5 944,829.3 943.5,827.7 944.2,826.6 943.6,825 944.2,823.8 943.8,822.2 944.5,821.1 944,819.5 944.5,818.3 944.1,816.7 944.5,815.5 944.2,814 944.8,812.8 944.2,811.2 944.7,810 944.2,808.4 944.8,807.2 944.4,805.7 945.1,804.5 944.5,802.9 945.2,801.8 944.6,800.1 945.2,799 944.7,797.4 947.3,800.1 946.9,801.4 947.5,802.9 946.9,804.1 947.7,805.8 947.3,807 947.8,808.6 947.5,809.8 948,811.4 947.7,812.7 948.2,814.2 947.8,815.5 948.4,817.1 948.1,818.3 948.6,819.9 948.2,821.2 948.9,820 948.5,818.5 949.1,817.3 948.8,815.8 949.6,814.7 949,813.1 949.7,812 949.4,810.4 950,809.3 949.7,807.7 950.3,806.6 949.8,805 950.6,803.9 950.2,802.4 952.3,803.8 951.8,805 952.6,806.7 952.3,807.9 953.2,809.6 952.9,810.8 953.6,812.4 953.2,813.6 953.8,812.5 953.3,810.9 954.1,809.8 953.6,808.2 954.2,807 953.8,805.4 954.2,804.2 953.9,802.7 954.4,801.5 954,799.9 954.5,798.7 954.1,797.1 954.8,796 954.2,794.4 954.8,793.2 954.4,791.6 955.1,790.5 954.7,788.9 955.2,787.7 954.7,786.1 956.7,785.1 956.5,786.4 957.4,788.2 957.1,789.5 957.8,791.3 957.5,792.6 958.5,794.4 958.1,795.7 959,797.5 958.6,798.8 959.4,800.5 961.2,799.4 961.6,797.9 961.3,796.2 961.7,794.7 961.3,792.9 962,791.6 961.4,789.8 962,788.4 961.5,786.6 962.1,785.2 961.7,783.4 962.3,782.1 961.7,780.2 962.4,778.9 961.8,777.1 962.4,775.7 962,773.9 962.5,772.5 962.1,770.8 962.6,769.4 962.2,767.6 962.9,766.2 962.2,764.3 963,763.1 962.4,761.2 963.1,759.9 962.5,758 963.1,756.7 962.6,754.9 963.1,753.4 962.6,751.7 963.4,750.4 962.7,748.5 963.4,747.1 963,745.4 963.5,744 963.1,742.2 963.6,740.8 963.1,739 963.7,737.6 963.3,735.9 963.9,737.5 963.3,738.6 964.1,740.3 963.4,741.5 964.1,743.1 963.6,744.3 964.1,746 963.7,747.2 964.5,748.9 963.9,750.1 964.4,751.6 964.1,752.9 964.5,754.5 964.1,755.7 964.8,757.4 964.4,758.6 964.8,760.2 964.3,761.4 965,763.1 964.5,764.2 965.2,765.9 964.6,767.1 965.2,768.7 964.9,770 965.4,771.6 965,772.8 965.6,774.4 965.1,775.7 965.7,777.3 965.2,778.5 965.7,780.1 965.4,781.3 966,780.1 965.5,778.5 966,777.3 965.6,775.7 966.2,774.5 965.7,772.9 966.3,771.7 965.8,770.1 966.4,768.9 965.7,767.2 966.3,766 965.9,764.4 966.5,763.2 965.9,761.5 966.6,760.4 966.2,758.8 966.6,757.5 966.2,755.9 966.7,754.7 966.3,753.1 966.9,751.9 966.4,750.3 966.9,749.1 966.4,747.4 967.1,746.3 966.6,744.7 967.2,743.5 967.3,742.2 968.5,741.4 968.6,740.1 969.3,738.9 968.6,737.1 969.4,736 968.8,734.2 969.5,733.1 969.1,731.5 969.6,730.2 969.2,728.5 969.9,727.4 969.6,725.8 970.2,724.6 969.6,722.8 970.2,721.6 969.7,719.9 970.6,718.9 969.9,717.1 970.5,715.9 970.2,714.2 971,713.1 970.8,711.5 971.4,710.3 971.2,708.7 972,707.6 971.5,705.8 972.2,704.6 971.9,703 972.4,704.7 972,706 972.6,707.8 972.1,709.1 972.7,710.9 972.2,712.1 972.7,713.8 972.4,715.1 973,717 972.4,718.1 973,719.9 972.6,721.2 973.2,723.1 972.7,724.2 973.3,726 972.8,727.3 973.3,729 972.8,730.2 973.5,732.1 972.8,733.2 973.5,735.1 973.1,736.4 973.6,738.1 973,739.3 973.8,741.2 973.3,742.4 973.8,744.2 973.2,745.4 974,747.3 973.5,748.5 974.1,750.3 973.4,751.4 974.1,753.3 973.6,754.5 974.3,756.4 973.7,757.5 974.3,759.3 974,757.6 974.3,756.3 973.9,754.5 974.6,753.4 973.9,751.5 974.7,750.4 974.1,748.6 974.7,747.4 974.1,745.5 974.8,744.5 974.3,742.6 974.9,741.5 974.3,739.6 974.7,738.3 974.4,736.6 975,735.4 974.2,733.5 975,732.4 974.5,730.6 975.2,729.5 974.5,727.6 975,726.3 974.6,724.5 975.3,723.4 974.7,721.6 975.4,720.5 974.7,718.5 975.4,717.5 974.7,715.5 975.4,714.4 975,712.6 975.5,711.4 974.8,709.5 975.7,708.5 974.9,706.5 975.6,705.4 975.2,703.7 975.8,702.6 975.5,701 976.1,699.9 975.6,698.2 976.2,697.1 975.7,695.4 976.5,694.4 976,692.7 976.6,691.6 976.1,693.2 976.6,695.5 976.2,697.2 976.8,699.4 976.2,701.1 976.9,703.4 976.5,705.1 977.1,707.3 976.4,708.9 977,711.2 976.4,712.8 977,715.1 976.5,716.8 977.2,719.1 976.7,720.8 977.1,722.9 976.7,724.6 977.2,726.8 976.8,728.5 977.4,730.8 976.7,732.4 977.6,734.8 976.8,736.3 977.6,738.7 976.9,740.2 977.7,742.6 977.2,744.3 977.6,746.4 977.1,748.1 977.8,750.4 977.1,752 977.9,754.3 977.4,756 977.8,758.2 977.3,759.8 977.8,762.1 977.3,763.7 977.9,766 977.3,767.6 978.2,770 977.6,767.5 978.1,765.6 977.5,763.1 978.2,761.3 977.5,758.7 978.3,757 977.6,754.4 978.2,752.6 977.7,750.1 978.3,748.2 977.8,745.8 978.3,743.8 977.8,741.4 978.6,739.6 977.9,737.1 978.5,735.2 978,732.8 978.6,730.9 978,728.4 978.5,726.5 977.9,724 978.7,722.2 978,719.7 978.8,717.9 978.1,715.4 978.7,713.5 978.3,711.1 978.8,709.2 978.3,706.8 978.9,704.9 978.2,702.3 978.8,700.5 978.4,698 979.1,696.3 978.4,693.7 978.9,691.8 978.4,689.3 979.2,687.6 978.4,685 979.2,683.2 978.7,684.4 979.4,686.2 978.8,687.3 979.4,689.1 978.7,690.2 979.4,692.1 978.8,693.2 979.6,695.1 979,696.2 979.7,698 979,699.1 979.8,701 979.2,702.1 979.7,703.9 979.2,705"/>
<line class="ti" x1="134.1" y1="1143.7" x2="147.6" y2="1143.7"/>
<text class="tk" text-anchor="end" x="120.4" y="1157.6">0.8</text>
<line class="ti" x1="134.1" y1="1068.6" x2="147.6" y2="1068.6"/>
<text class="tk" text-anchor="end" x="120.4" y="1082.5">0.9</text>
<line class="ti" x1="134.1" y1="993.6" x2="147.6" y2="993.6"/>
<text class="tk" text-anchor="end" x="120.4" y="1007.5">1.0</text>
<line class="ti" x1="134.1" y1="918.5" x2="147.6" y2="918.5"/>
<text class="tk" text-anchor="end" x="120.4" y="932.4">1.1</text>
<line class="ti" x1="134.1" y1="843.5" x2="147.6" y2="843.5"/>
<text class="tk" text-anchor="end" x="120.4" y="857.4">1.2</text>
<line class="ti" x1="134.1" y1="768.4" x2="147.6" y2="768.4"/>
<text class="tk" text-anchor="end" x="120.4" y="782.3">1.3</text>
<line class="ti" x1="134.1" y1="693.4" x2="147.6" y2="693.4"/>
<text class="tk" text-anchor="end" x="120.4" y="707.3">1.4</text>
<line class="ti" x1="134.1" y1="618.3" x2="147.6" y2="618.3"/>
<text class="tk" text-anchor="end" x="120.4" y="632.2">1.5</text>
<line class="ti" x1="305.1" y1="1143.7" x2="305.1" y2="1157.2"/>
<line class="ti" x1="530" y1="1143.7" x2="530" y2="1157.2"/>
<line class="ti" x1="755" y1="1143.7" x2="755" y2="1157.2"/>
<line class="ti" x1="979.9" y1="1143.7" x2="979.9" y2="1157.2"/>
<rect class="sp" x="147.6" y="618.3" width="832.3" height="525.4"/>
<rect class="lgb" x="166.5" y="637.2" width="561.1" height="69" rx="6" ry="6"/>
<line class="lgl" x1="174.5" y1="670.2" x2="221.7" y2="670.2"/>
<text class="lg" x="230" y="682.8">1996 FG3 (04-15-2022)</text>
<text class="lb" text-anchor="middle" transform="translate(37,880.3) rotate(-90)">Reflectance</text>
</g>
<g>
<polyline class="cv" style="stroke-width:6.0" clip-path="url(#c3)" points="1056.5,1076.2 1057.5,1073.8 1059,1073.6 1059.8,1070.3 1062,1073.8 1063.3,1074.3 1064.2,1072.7 1064.3,1069.1 1065.3,1067.7 1066.7,1071.9 1068.2,1071.9 1068.8,1069.9 1070.2,1070.1 1070.8,1068.3 1072.7,1069.8 1073.1,1067.8 1074.8,1068.6 1075.7,1067 1077.3,1067.8 1078,1065.9 1079.5,1066.2 1080.2,1064.2 1081.8,1064.6 1082.6,1062.7 1084.1,1062.9 1085.1,1062.2 1086.9,1064 1088.3,1068.8 1089,1067.4 1088.8,1063.2 1089.9,1062.6 1089.6,1058.4 1090.4,1057.1 1090.3,1053.2 1092.2,1054.1 1092.9,1051.9 1094.9,1052.9 1095.6,1051.6 1097.7,1053.5 1099.1,1052.9 1101.3,1054.7 1104.2,1057.7 1105.8,1058.9 1106.5,1056.9 1108.2,1058.1 1109.6,1057.4 1111.8,1059.7 1112.2,1057 1113.5,1057.1 1113.9,1054.2 1115.1,1054.3 1116,1052.5 1117.6,1052.8 1118.2,1050.5 1119.8,1051.1 1120.8,1048.6 1122.1,1048.8 1123,1046.9 1124.5,1049.6 1125.4,1048 1127.4,1051.5 1128.9,1051.2 1130.3,1052.4 1131.2,1050.4 1132.6,1051 1133.3,1048.3 1134.7,1049 1135.4,1046.5 1136.8,1049 1137.7,1047.1 1139.1,1049.4 1140.1,1047.4 1141.7,1049.2 1142.4,1045.3 1143.6,1045.6 1144.7,1045.5 1146.2,1048.7 1146.8,1045.9 1148.1,1047 1148.9,1044.7 1150.4,1047 1151.1,1044.7 1152.6,1047 1153.8,1045.6 1155.6,1048.3 1156.3,1045.7 1157.6,1046.4 1158.4,1044.2 1160.2,1046.9 1161.4,1046.5 1163.2,1050.4 1164.3,1050.1 1166,1053.2 1166.8,1051.6 1168.3,1052.1 1169.2,1049.7 1170.6,1050 1171.4,1046.6 1172.6,1046.6 1173.4,1043 1174.9,1043.5 1175.7,1039.8 1177.2,1040.9 1178.4,1037.9 1180.1,1039.1 1181.4,1039.4 1183.1,1042.9 1184.3,1040.1 1186.1,1041.3 1187.4,1039.6 1189.1,1042.3 1190,1039.5 1191.4,1039.7 1192.4,1037.4 1193.9,1038.7 1194.7,1036.6 1196.2,1037.8 1196.9,1035.5 1198.5,1037 1199.3,1035.3 1201.4,1038.3 1202.9,1037.3 1204.6,1039.9 1205.9,1037.3 1207.5,1038.7 1209,1035.5 1210.5,1038 1212,1037.2 1213.3,1040.1 1214.5,1039.9 1216,1040.7 1217.5,1036.6 1218.6,1038.6 1220,1036.5 1220.9,1039.1 1222.6,1037.3 1223.9,1040.4 1226.1,1034.8 1227.5,1037.6 1229,1036.7 1230.2,1038 1231.3,1034.8 1232.5,1036.5 1233.9,1035.4 1235.6,1038.9 1236.8,1036.5 1238.6,1039 1239.5,1037 1241.2,1040 1241.9,1037.2 1243.1,1037.6 1245.3,1042.8 1246.9,1046 1247.9,1044.5 1249.2,1045.7 1249.9,1042.7 1251.2,1044 1251.8,1040.6 1253.1,1041.2 1253.9,1038.9 1255.1,1039.2 1255.9,1036.6 1257.1,1037 1258.4,1036.6 1260.2,1039.2 1261.1,1033.8 1262.6,1033.4 1263.2,1029.7 1264.8,1031.5 1265.3,1027.6 1266.9,1029 1267.5,1026.1 1269.2,1027.8 1270.5,1027.1 1272.8,1030.1 1273.7,1029.1 1275.9,1032.5 1276.2,1029.8 1277.9,1031.2 1278.3,1028.9 1279.8,1029.8 1280,1027.2 1282,1029.3 1282.7,1028.2 1284.8,1031.5 1285.1,1028.4 1286.9,1030.7 1287.2,1027.9 1289.3,1029.3 1290.2,1027.1 1291.8,1028.1 1292.1,1024.9 1293.8,1026.5 1294.2,1023.3 1295.8,1025.2 1296.3,1022 1298.2,1024.3 1299.2,1022.8 1301.4,1024.6 1302.1,1021 1304.4,1024.5 1305.2,1022.6 1306.8,1023.7 1307.1,1020 1308.7,1021.5 1309.7,1020.9 1311.7,1024.9 1312.2,1021.2 1313.7,1022.3 1314.2,1018.6 1315.8,1020.9 1316.2,1017.3 1317.7,1018.8 1318.3,1016.2 1319.7,1017.4 1320.2,1013.9 1322.1,1017.7 1323.4,1015.3 1324.8,1015.1 1325.9,1010.2 1328.6,1016.9 1329.5,1012.9 1331.1,1012.7 1332.1,1012.3 1333.6,1015.5 1334.8,1014 1336.8,1016.1 1337.8,1014.2 1339.7,1017.7 1340.5,1015.7 1343,1017.9 1343.9,1015.5 1345.6,1017.2 1346.9,1016.6 1348.6,1020.3 1351.1,1023.1 1352.5,1023.6 1352.8,1019.8 1354,1019.8 1354.2,1015.5 1355.6,1016.1 1356,1012 1357.3,1011.9 1358.2,1011.6 1360.2,1017.6 1361.2,1014 1362.6,1014 1363.4,1007.8 1364.8,1006.3 1366.2,1017.1 1367.4,1016.7 1367.1,1009.7 1368.2,1008.4 1368.1,1002.2 1368.9,1000.6 1368.8,995.5 1369.4,993.2 1369.1,987.1 1370.1,986.4 1370.1,990.9 1371.4,999.8 1371.3,1004.3 1373.9,1020.3 1374.2,1015.2 1375.9,1016.7 1375.5,1010.5 1376.5,1009.4 1376.1,1003.5 1377.1,1002.7 1377,997.6 1377.8,996.1 1379.1,1000.1 1381.3,1002.9 1381.6,1001 1383.8,1003.6 1384.5,1001.4 1386.9,1005.1 1387.6,1003.8 1391.2,1008.5 1391.9,1005.8 1393.2,1006.1 1393.7,1002.1 1395.8,1003.9 1396.4,1001 1398.1,1002.4 1398.9,997.1 1400.1,998.3 1402.5,1004.9 1404.2,1006.1 1404.1,1002.8 1405.8,1003.7 1405.7,1000.5 1407.2,1000.7 1407.7,997.1 1409.4,998.6 1410.2,997 1412.2,999.4 1412.4,995.7 1413.7,995.8 1413.8,991.8 1415.2,991.9 1416.2,989.7 1418.4,991.3 1420.6,996.4 1422.3,997.3 1422.7,993.8 1424.3,994.9 1424.5,990.4 1425.8,990.5 1425.9,985.9 1427.3,986.4 1429.3,993.9 1430.5,994 1430.3,988 1431.6,988.3 1431.8,983.7 1433.8,986.9 1434.7,986.6 1436.2,987.4 1436.7,983.6 1438.1,984.4 1439.1,980.1 1440.6,979.8 1443.3,991.3 1444.3,990.7 1444.3,985.5 1445.6,985.6 1445.8,981.3 1449.2,991.3 1449.5,987.9 1451.5,989.6 1451.6,986.4 1453.7,989 1454.8,988 1456.3,989.9 1456.6,985.8 1458.4,988.9 1459.8,993.1 1460.9,992.3 1460.8,987.1 1462.1,987 1462.3,983.1 1464.2,986.7 1465.3,986.4 1468.9,994.1 1469.8,986.5 1471,984.5 1471.7,979.5 1473.1,979.4 1473.1,973.7 1476.4,987 1476.3,982.1 1477.5,981.5 1477.6,977.7 1478.7,976.9 1479.2,974 1481.4,976.2 1483.2,978.9 1484.7,979.3 1485.3,975.6 1486.9,976.7 1487.3,972.3 1488.7,972.5 1489.2,968.5 1492.2,978.6 1492.6,973.6 1493.9,974 1494.2,968 1495.8,970.9 1496.3,968.7 1497.7,977.2 1497.4,980.1 1499.1,989.2 1498.5,983.4 1499.8,983.6 1499.7,978.8 1500.9,978.7 1500.6,973.6 1502.1,973.1 1502.5,967.9 1503.7,966.3 1505.7,970.9 1507.3,972 1508.5,967.7 1509.8,973.1 1510.9,972.9 1512.5,976.8 1513.4,973.1 1514.3,980 1515.7,980.7 1516.7,981 1518.1,974.7 1519.2,977.9 1520.5,976.2 1522.1,978.3 1523.4,975.2 1524.9,974.7 1526.6,968.2 1528,968.4 1529.5,961.2 1530,965.2 1531.4,965.1 1531.7,968.4 1533.1,968.8 1533.3,972.9 1535,972.2 1535.8,976.4 1537.7,973.1 1538.6,975.2 1540.8,969.6 1541.2,977.2 1542.4,978.9 1542.8,986.7 1545.8,970.7 1546.4,975.9 1548.2,975.2 1549,974.2 1549.5,967.4 1550.7,968.1 1551.4,967.7 1551.1,972.4 1552.9,971.3 1552.4,976.8 1554.4,974.9 1553.8,979 1555.7,977.7 1555.7,980.7 1557.1,980.8 1556.5,985 1558,985.1 1557.2,989.5 1559.2,988.7 1560.3,990.7 1560.4,987.3 1562.4,988.7 1561.7,985.1 1563.6,986.1 1562.9,980.6 1564.4,980.8 1563.9,975.1 1565,974.1 1564.5,968.5 1567,983.7 1568.1,985.1 1568.9,992.9 1571.2,972.8 1571.5,983.1 1572.4,985.7 1572.9,994.1 1574,989.7 1575.7,991.7 1576.4,975.9 1577.6,966.4 1577.7,971.1 1578.9,981.4 1578.5,985.7 1579.8,996.1 1581.3,994.5 1583.8,997.4 1584.3,995.2 1586.3,997 1585.2,991.9 1587.2,993.3 1586.3,988.5 1587.5,988.5 1586.5,984.9 1588,984.7 1586.8,980.8 1588.1,980.4 1586.9,976.5 1588.1,976 1586.4,971.3 1588.4,971.9 1587.1,967.9 1588.1,967.1 1587,963.3 1588.2,962.7 1586.9,958.7 1588.2,958.3 1586.8,954.1 1588.8,954.6 1587.1,950.1 1588.8,950.2 1587.6,946.3 1588.7,945.7 1587.3,941.4 1589,941.6 1587.7,937.5 1588.8,936.8 1587.8,933.3 1589.3,933 1587.5,928.3 1589.2,928.5 1589.6,928.7 1591.5,933.7 1590.2,934.1 1591.3,937.9 1589.9,938.3 1591.8,943.3 1590.4,943.5 1591.7,947.6 1590.6,948.4 1591.6,952.1 1590.4,952.6 1592.1,957.3 1590.8,957.8 1592.1,961.9 1591.1,962.8 1592,966.3 1590.7,966.8 1592.7,971.9 1591,971.8 1592.2,975.8 1591.2,976.6 1592.5,980.8 1591.6,976.8 1593,976.6 1591.2,971.2 1593.1,971.7 1591.9,967.1 1592.7,966.1 1591.4,961.4 1593.1,961.7 1591.7,956.7 1593.1,956.6 1591.8,951.9 1593.4,952.2 1591.9,947 1593.2,946.8 1592.3,942.7 1593.3,941.8 1591.9,937 1593.5,937.2 1592.4,932.8 1593.8,932.7 1592.7,934 1593.5,939.3 1592.7,940.8 1594,947.3 1593,948.2 1594.2,954.6 1593,955.1 1594.5,962.1 1593.3,962.6 1594.6,969.1 1593.7,970.4 1594.9,976.7 1593.9,977.8 1594.8,983.2 1594.7,978.7 1596.3,979 1596,973.8 1597.7,974.3 1597.9,979.1 1599.8,988.3 1599.6,985 1601.6,985.7 1601.1,982.2 1602.8,982.5 1601.6,977.9 1603,977.7 1601.9,973.2 1603.2,972.9 1602,968.2 1603.3,967.8 1602,963.1 1603.7,963.2 1602.6,958.8 1603.8,958.3 1602.3,953.2 1604.3,953.9 1602.8,948.9 1604.4,954.7 1603.1,955 1604.8,961.4 1604,962.6 1605,967.4 1604.4,969.2 1605.7,974.5 1604.6,975.4 1605.9,980.7 1605.3,974.6 1606.3,973.6 1605.8,966.9 1606.7,965.6 1606.3,959.5 1607,957.4 1606.7,951.6 1607.7,950.5 1606.9,943.1 1609.1,949.7 1608.8,951.3 1610.5,951.8 1609.2,947.7 1611.3,948.3 1609.5,943.6 1611.5,944.2 1610.5,940.6 1611.8,944.5 1610.6,945 1612.3,949.6 1611.2,950.2 1612.2,953.9 1611.4,955 1612.8,959.1 1611.7,959.8 1612.8,963.5 1611.9,964.4 1613.1,968.2 1611.9,968.8 1613.7,973.4 1612.7,969.5 1614.2,969.2 1613.1,964.9 1614.7,965 1613.7,960.7 1614.9,960.1 1614.2,956.3 1615.4,955.7 1614.6,951.9 1616.9,948.8 1620.1,944 1620.5,946.3 1621.5,942 1624.1,966 1625.8,963.8 1627.7,964.3 1626.2,960.3 1628,960.3 1626.7,956.5 1628.9,957 1626.9,952.4 1629.1,953 1628,949.4 1629.8,953.6 1629.5,954.9 1631.5,959.4 1631.7,956.1 1633.3,956.3 1633.7,952.9 1636.9,961.8 1637.7,956.1 1639.1,957.7 1640.1,954.2 1641.7,957.3 1643.4,965.6 1645.5,969 1646.4,965.4 1647.4,960.6 1647.9,950.9 1650.3,970.9 1651.1,967.9 1652.1,968 1651.5,962.8 1652.4,961.5 1651.9,956.4 1652.9,955.5 1652,949.4 1653.5,949.9 1652.3,943 1654.2,944.5 1653.4,940 1655.2,940.9 1654.6,936.7 1658.1,942.1 1658,936.9 1659.6,938.9 1659.8,934.6 1662.8,948.3 1662.7,945.2 1664.5,946.6 1664.2,943.2 1668.7,954.4 1668,947.8 1669.6,948.6 1669.6,944.2 1670.8,943.4 1672.4,942.7 1674.9,944.5 1673.8,940.8 1676.2,942.3 1675.4,938.3 1677.6,940.2 1676.6,935.3 1678.7,937 1680.1,939.4 1681.8,939.9 1682.1,935.9 1683.8,937.5 1686.1,942 1688,943.2 1688.7,938.4 1690.4,939.5 1690,935 1691.7,935.4 1691.2,930.8 1695.2,936.8 1696.9,939 1699,939.8 1698.4,935.5 1699.7,935.1 1699.2,930.9 1701.6,933.3 1701.5,929.3 1703.6,931.6 1704.2,928.6 1706.4,929.9 1706.6,926 1708.5,928.1 1708.4,922.9 1712,933.6 1711,928.9 1713.1,930 1712.6,926.5 1714.4,927.2 1713.4,922.6 1717,926.9 1716.1,923.1 1718.2,923.9 1717.8,920.6 1719.9,921.4 1719,917.4 1721,918.5 1720.4,914.8 1722.4,915.8 1721,910.7 1725.6,920.3 1724.5,916 1726.5,916.6 1725.1,911.8 1727.2,912.4 1726.6,914 1728.2,919.4 1727.5,920.7 1731.6,924.6 1730.7,921 1733.3,923 1732.4,919.2 1734.1,919.8 1734.8,921.4 1736.8,922.4 1735.9,918.9 1737.5,919.1 1736.1,915 1738.2,916 1737,911.8 1739.1,912.4 1738.4,908.9 1740.6,909.6 1739.4,905.5 1743.4,908.8 1742.3,905 1744.4,905.7 1743.5,902.3 1745.3,902.6 1744.3,899.1 1748.4,906.1 1747.6,902.5 1749.9,903.7 1749.1,899.7 1751.1,900.8 1749.9,896.2 1751.8,897.1 1750.8,892.8 1752.8,894 1751.9,894.3 1754,899 1752.7,899.3 1754.1,903.2 1753,903.7 1755.7,905.2 1754.5,902 1757,903.1 1755.7,899.8 1758.2,900.3 1756.2,896.6 1758.6,897 1757.5,894 1759.5,894.1 1757.6,890.4 1762.2,896.1 1760.5,892.6 1763.4,893.2 1762.7,890.6 1764.9,890.9 1763.8,888.3 1765.7,888.4 1764.8,886 1766.9,886.3 1767.9,889.5 1769.7,889.4 1768.7,886.9 1770.7,887.1 1769.6,884.5 1771.4,884.4 1769.9,881.6 1774.7,884.7 1772.8,881.3 1775.4,881.8 1773.6,878.2 1776.3,878.9 1774.6,875.5 1776.8,879 1775.7,879.8 1778.3,883.5 1776.8,884.1 1780.2,884.7 1778.7,881.8 1781.4,881.9 1780.1,879.3 1781.7,878.8 1780,875.9 1781.9,875.7 1780.9,873.3 1782.6,872.9 1781,870.1 1783,870 1781,866.8 1783.8,867.2 1782,864.2 1784.3,864.1 1783.2,861.7 1786.3,862.1 1785.1,862.9 1787,865.9 1785.9,866.8 1787.9,866.6 1786.9,864.4 1788.8,864.1 1787,861.4 1789.3,861.4 1787.2,858.4 1789.5,858.4 1787.6,855.6 1790.3,855.9 1790.9,857.1 1792.7,856.6 1792,854.6 1794.3,854.3 1793.1,852 1795.6,851.8 1794.5,849.5 1796.8,849.2 1795.6,847.2 1797.6,846.8 1795.7,844.4 1798.4,844.4 1796.7,842.1 1798.9,841.9 1796.9,839.4 1799.9,839.8 1799,838 1801.6,838.2 1799.4,835.3 1801.5,835 1800.5,832.8 1802.4,832.4 1800.7,829.8 1802.5,829.4 1801.3,827.1 1803.1,829.6 1801.3,830.2 1803.3,832.7 1801.8,833.5 1803.8,836 1802.2,836.7 1804,839.2 1802,839.6 1804.2,842.3 1802.5,843 1804,845.3 1802.3,842.8 1804.7,842.7 1802.8,840.1 1804.7,839.7 1803.4,837.5 1804.6,836.7 1803.6,834.6 1805.2,834 1803.5,831.6 1805.6,831.3 1804,828.9 1805.3,828.2 1803.7,825.8 1806.2,825.7 1805,823.2 1807.7,822.9 1806.5,820.8 1808.7,820.4 1807.3,818.4 1809.8,818 1808.3,816 1809.8,818.1 1808.6,819 1810.4,821.3 1809.2,822.3 1810.9,824.5 1809.9,825.5 1811.6,827.8 1810,825.5 1812.5,825.2 1810.6,822.8 1812.8,822.4 1811,820 1813,819.5 1812.1,817.5 1813.6,816.8 1812,814.5 1814,814 1813.4,812.2 1815.2,811.6 1814.2,809.6 1816.2,809 1815.5,807.1 1817.6,806.5 1816,807.2 1818.5,809.8 1816.8,810.5 1818.9,812.9 1817.2,813.6 1819,815.9 1817.6,816.6 1819.7,819.1 1818.5,817.1 1819.9,816.3 1818.3,814.2 1819.9,813.5 1818.3,811.4 1820.7,811 1818.7,808.7 1820.2,808 1818.7,805.9 1820.7,805.4 1818.9,803.2 1821.1,802.8 1819.7,800.7 1820.8,799.8 1819.3,797.7 1821.4,797.2 1819.6,795 1821.5,794.5 1819.9,792.4 1821.6,791.7 1819.8,789.5 1822.4,789.2 1821.2,787.3 1823.1,786.6 1822.2,784.8 1824.1,784.2 1823,782.2 1824.9,781.5 1823.8,779.5 1826.8,779.3 1825.3,777 1828.1,776.8 1826.1,777.4 1827.8,779.4 1826.8,780.5 1828.1,782.4 1827.3,783.6 1828.9,785.6 1827.1,786.4 1828.8,788.5 1827.6,789.5 1829.1,791.5 1829.2,792.2 1831.2,791.6 1829.1,789.3 1831.2,788.7 1829.8,786.8 1831.3,786 1829.5,783.9 1831.5,783.2 1829.5,781.1 1831.5,780.4 1830,778.5 1831.3,777.6 1829.8,775.6 1831.8,774.9 1830.4,773 1831.6,772.1 1830.4,770.2 1832.3,769.5 1830.5,767.4 1832.4,766.7 1831,764.8 1832.2,766.8 1830.6,767.5 1833.1,770 1831,770.6 1833.3,773 1831.1,773.5 1832.9,775.7 1831.9,776.7 1833.5,778.8 1831.6,779.5 1834.2,782 1832,782.6 1833.8,784.7 1832.2,785.5 1834,787.7 1832.8,785.8 1834.3,785.1 1832.9,783 1834.7,782.5 1833.5,780.5 1834.7,779.7 1833.8,777.8 1834.9,777 1833.7,775 1835.3,774.4 1833.9,772.3 1835.5,771.6 1833.8,769.4 1836.3,769.2 1834.1,766.8 1836.4,766.4 1834.9,764.3 1836.6,763.7 1834.4,761.3 1836.3,760.7 1834.7,758.6 1836.4,758 1835.1,756 1836.6,755.3 1835.5,753.4 1837,752.7 1835.1,750.4 1836.9,749.8 1835.6,747.8 1837,747 1835.5,744.9 1837.6,744.5 1836,742.4 1837.4,741.6 1835.8,739.5 1838.3,741.9 1837.5,743 1840,745.4 1838.5,746.2 1840.3,748.2 1839.8,749.4 1841.1,751.2 1840.1,752.2 1841.8,751.3 1840.9,749.6 1842.2,748.6 1841.3,746.9 1843,746 1841.2,744 1843.1,743.2 1841.8,741.4 1843.1,740.4 1841.9,738.6 1844,737.8 1842.7,736.1 1844.6,735.3 1843,733.5 1844.7,732.6 1844.1,731.1 1845.4,730.1 1844.4,731.1 1846.2,733 1844.7,733.9 1846.7,735.7 1845.2,736.6 1846.9,738.4 1845.5,739.3 1847.1,741.1 1846.1,742.1 1847.6,743.8 1846.1,744.7 1847.5,743.8 1846.8,742.2 1847.9,741.2 1847,739.6 1848.1,738.5 1846.7,736.8 1848.7,736 1847.3,734.2 1848.5,733.2 1847.3,731.5 1848.7,730.6 1848,729 1849.3,728 1847.7,726.2 1849.6,725.4 1848.3,723.7 1849.5,722.6 1848.8,721.1 1849.8,720.1 1848.8,718.5 1850.2,717.6 1849.1,716 1850.5,715.1 1849.4,713.5 1851.2,712.7 1849.9,711 1851.8,710.3 1850,708.4 1851.7,710.4 1850.6,711.4 1852.4,713.4 1851,714.3 1852.4,716.2 1851.4,717.2 1852.8,719.1 1851.3,720 1852.9,721.9 1851.8,722.9 1853.2,724.8 1852.1,725.8 1853.7,727.7 1853.7,727.2 1855.1,726.3 1853.7,724.5 1855.7,723.8 1854.1,721.9 1855.3,720.9 1853.8,719 1855.8,718.3 1854.2,716.5 1855.7,715.6 1853.7,713.5 1855.9,712.9 1854.4,711.1 1855.7,710.1 1853.7,708.1 1855.4,707.3 1854.3,705.6 1856,704.8 1854,702.7 1855.4,701.9 1854.2,700.1 1855.9,699.3 1854.1,697.3 1856,696.6 1854.5,694.7 1856,693.9 1854.3,691.9 1855.8,691.1 1854.5,689.3 1855.9,688.4 1854.7,686.6 1855.8,685.6 1854.7,683.9 1856.9,683.2 1856.1,681.6 1858,680.8 1857.1,679.1 1859,678.2 1858.3,676.5 1860,678.5 1858.1,679.2 1859.7,681.2 1858.8,682.2 1860.2,684.1 1858.8,685 1860.1,686.9 1858.7,687.8 1860.7,689.8 1859.4,690.8 1860.6,692.6 1859.7,693.7 1861,695.5 1859.7,696.4 1861.2,698.4 1859.8,699.3 1861.8,701.3 1860.5,702.3 1861.6,704 1860.8,705.1 1862.2,706.9 1860.4,707.7 1862.1,709.7 1861.1,710.7 1862.4,712.5 1861.2,713.5 1862.5,715.3 1861.4,716.3 1863,718.2 1861.3,719 1863,721 1861.4,721.8 1862.9,721 1861.9,719.3 1863.6,718.5 1862,716.6 1863.5,715.7 1862.2,713.9 1863.8,713.1 1862.1,711.2 1863.6,710.3 1862.5,708.6 1863.7,707.6 1862.4,705.8 1864,705 1862.5,703.1 1864.2,702.3 1862.2,700.3 1864.4,699.7 1862.6,697.7 1864.2,696.9 1862.8,695 1864,694.1 1862.6,692.2 1864.3,691.4 1863.2,689.7 1864.3,688.7 1863.1,686.9 1864.3,686 1863.3,684.3 1864.8,683.5 1863,681.5 1864.4,680.6 1863.1,678.8 1865,678 1863,678.7 1865.2,681 1863.8,681.8 1865.1,683.7 1863.6,684.5 1865.6,686.6 1863.4,687.2 1865,689.2 1864.1,690.2 1865.3,692.1 1863.7,692.8 1865.3,694.9 1864.2,695.8 1865.5,697.7 1864.4,698.6 1865.5,700.5 1864.4,701.4 1866.4,703.6 1864.8,704.4 1866.3,706.3 1864.7,707.1 1865.9,706.1 1864.5,704.1 1866.4,703.4 1864.8,701.4 1866.6,700.7 1865.2,698.7 1866.6,697.8 1864.7,695.6 1866.7,694.9 1864.9,692.8 1866.6,692.1 1865,690 1867,689.4 1865.7,687.4 1867.3,686.6 1865.8,684.5 1867.2,683.7 1865.9,681.7 1867.5,680.9 1865.8,678.8 1867.9,678.2 1866,676 1867.9,675.4 1866.1,673.2 1868,672.5 1866.1,670.2 1868.3,669.6 1866.8,667.6 1868.2,666.6 1866.9,664.7 1868.8,664 1867.4,661.9 1868.8,661 1867.5,659.1 1869.3,658.4 1868,656.5 1869.7,655.7 1868,653.7 1869.7,652.9 1868,650.9 1870,650.3 1867.8,648 1869.9,647.4 1867.8,645.2 1869.9,644.6 1868,642.5 1869.7,641.7 1868.3,639.8 1870.4,639.2 1868.8,637.2 1870.3,636.4 1868.9,634.4 1870.1,633.5 1869.1,631.7 1870.8,631 1869.3,629 1871,628.3 1869.8,626.5 1871.6,625.8 1869.6,623.6 1871.8,623.2 1869.8,621 1871.4,620.3 1870.4,618.5 1871.9,617.7 1870.6,615.8 1872.7,615.3 1871.1,613.3 1872.5,612.5 1871.1,610.5 1873.1,610 1871.4,607.9 1873.7,607.5 1872,605.4"/>
<line class="ti" x1="1027.9" y1="1143.7" x2="1041.4" y2="1143.7"/>
<line class="ti" x1="1027.9" y1="1068.6" x2="1041.4" y2="1068.6"/>
<line class="ti" x1="1027.9" y1="993.6" x2="1041.4" y2="993.6"/>
<line class="ti" x1="1027.9" y1="918.5" x2="1041.4" y2="918.5"/>
<line class="ti" x1="1027.9" y1="843.5" x2="1041.4" y2="843.5"/>
<line class="ti" x1="1027.9" y1="768.4" x2="1041.4" y2="768.4"/>
<line class="ti" x1="1027.9" y1="693.4" x2="1041.4" y2="693.4"/>
<line class="ti" x1="1027.9" y1="618.3" x2="1041.4" y2="618.3"/>
<line class="ti" x1="1198.8" y1="1143.7" x2="1198.8" y2="1157.2"/>
<line class="ti" x1="1423.7" y1="1143.7" x2="1423.7" y2="1157.2"/>
<line class="ti" x1="1648.6" y1="1143.7" x2="1648.6" y2="1157.2"/>
<line class="ti" x1="1873.5" y1="1143.7" x2="1873.5" y2="1157.2"/>
<rect class="sp" x="1041.4" y="618.3" width="832.1" height="525.4"/>
<rect class="lgb" x="1060.3" y="637.2" width="561.1" height="69" rx="6" ry="6"/>
<line class="lgl" x1="1068.3" y1="670.2" x2="1115.5" y2="670.2"/>
<text class="lg" x="1123.8" y="682.8">1996 FG3 (04-20-2022)</text>
</g>
<g>
<polyline class="cv" style="stroke-width:4.0" clip-path="url(#c4)" points="164,1762.5 165,1775.8 165.8,1770.8 166.5,1763.2 168,1775.6 170,1779 170.8,1772 171.5,1763.1 173.1,1775.7 173.4,1769.8 174.1,1765.9 174.4,1759.9 176.1,1769.3 176.5,1765.2 177.5,1763.6 177.9,1759.6 179.6,1768.5 180.1,1764.1 181.1,1761.6 182.4,1775.2 183.1,1771.3 183.4,1765.9 184.1,1762.4 185.4,1768.4 186.3,1765.9 186.9,1762.2 188.1,1761.3 188.9,1758.5 190.2,1757.3 190.9,1754 192.6,1765.3 192.9,1762.9 193.7,1761.8 193.8,1759 194.7,1758.1 196.4,1762.3 197.1,1761 197.1,1758 197.9,1757 197.9,1754.1 198.7,1753 199.1,1757.7 200.1,1764.1 200.1,1760.4 200.7,1758.1 200.5,1754.1 201.1,1751.8 201.1,1748.3 201.7,1746.1 203.3,1755.1 204.4,1753.9 204.6,1751 205.6,1749.8 207.3,1751.6 208.3,1750.9 208.6,1748.5 209.7,1747.9 211.3,1752.5 212.4,1751.9 212.7,1749.3 213.7,1748.5 214.3,1747.3 215.8,1748.1 216.8,1754.1 217.8,1752.5 218.1,1749.2 219.2,1748.1 219.9,1745.9 221.1,1745.4 222.9,1749.1 224.1,1748.5 224.9,1746.7 226.6,1753.3 227.4,1751.2 228.6,1750.3 229.3,1747.5 230.7,1746.8 231.4,1743.7 232.6,1742.4 233.6,1740.3 235.1,1740.6 235.9,1738.5 237.1,1738.4 238.8,1741.3 240.1,1741.3 240.9,1739.4 242.1,1739.3 242.9,1737.1 245.1,1741.8 245.9,1740.5 247.1,1741.1 249.4,1746.9 250.3,1745.6 250.7,1742 251.5,1740.3 252.3,1738.1 253.3,1737.3 253.9,1734.3 256.7,1738 257.6,1735.6 259.2,1735.6 261.4,1742 262.8,1742.4 263.9,1740.5 264.9,1739.3 265.6,1736.4 266.6,1735.2 268.9,1739.3 270.3,1738.4 271.4,1735.7 274.2,1741.2 274.6,1738.1 275.9,1737.4 276.4,1734.7 279.2,1737.9 280.1,1737.6 281.6,1739.1 281.9,1735 282.7,1732.7 282.8,1728.1 285.1,1730 286.9,1735.7 287.9,1735.2 288.3,1732.7 289.1,1731.6 290.9,1732.6 292.2,1732.1 292.8,1729.4 295.1,1732.5 296.8,1734.4 297.6,1732.7 297.8,1729.5 298.6,1727.9 299.3,1726 300.6,1725.8 301.4,1723.9 302.6,1723.3 303.2,1721.1 304.3,1720.5 304.9,1718.3 307.1,1721 307.9,1719.5 309.2,1720.2 310.4,1724.1 311.3,1721.5 311.8,1717.3 313.6,1724.3 314,1720.9 315,1719.7 315.3,1716.5 317.6,1721.6 318.6,1719.8 320.2,1720 321.1,1719.5 322.6,1721 323,1718.2 323.9,1717.1 324.4,1714.6 326.6,1720.9 327.4,1717.3 328.6,1716 329.5,1714.7 330.5,1714.9 331.5,1716.7 332.5,1719.9 333.8,1721.4 335,1725 336.2,1723.6 337.5,1724.1 338.4,1719.5 339.6,1717 340.7,1714.9 342,1715.6 343.3,1712.3 344.5,1711.6 345.7,1711.2 347.1,1712.6 348.8,1717.3 349.7,1715.8 350.2,1712.4 351.1,1711.1 351.9,1709.5 353,1709.9 354.9,1715.7 357.1,1721.2 358.2,1720.5 359.6,1722.4 360.6,1721.1 362.1,1721.8 362.5,1718.2 363.5,1716.6 363.9,1713.4 366.6,1715.7 368.9,1716 371.7,1724.3 371.8,1719.8 372.7,1717.7 372.9,1713.4 373.6,1710.7 373.9,1706.5 376.1,1708.3 376.4,1706.2 377.6,1705.6 377.8,1703.4 378.7,1707.9 378.8,1710.9 379.7,1715.4 379.8,1711.9 380.6,1710.4 380.8,1707.1 381.7,1705.6 383.8,1705.8 386.6,1709 387.2,1707.3 388.3,1706.5 388.7,1704.5 390.5,1705.6 391.3,1704.6 392.3,1703.2 392.5,1700 393.5,1698.8 393.9,1695.9 394.8,1694.3 395.2,1691.4 396.1,1689.8 397.8,1695.9 399.5,1696.6 400.2,1695.8 403.1,1697.3 403,1693.8 403.7,1692 403.7,1688.6 404.5,1687 404.3,1683.4 405.7,1683 406.3,1680.8 407.7,1685.3 408.3,1688.4 410.6,1693.2 411.5,1692.2 413.2,1693.1 413.4,1689.8 414.6,1688.9 414.8,1685.9 417.1,1695.2 418.8,1696.5 419.8,1695.5 420.1,1692.5 421.2,1691.8 422.4,1696.5 423.3,1694 423.9,1689.5 425.5,1689 426.1,1684.5 427.1,1681.7 428.9,1684.3 430,1683.8 431,1681.5 432.2,1680.7 433.5,1677.9 434.8,1677.6 436,1675.1 438.7,1680.5 440.4,1682.7 441.6,1682.1 442.4,1679.9 443.4,1683.2 444.5,1684.2 446.4,1684.1 447.6,1682.8 449.1,1682.8 450.8,1688.4 451.9,1687 452.6,1683.9 453.5,1682.8 455.2,1684.5 457.6,1687.8 459.5,1693.7 460.5,1694.3 461.5,1692.3 462.5,1687.2 463.5,1679.4 464.3,1677.2 464.7,1672.6 465.6,1670.7 466.4,1667.8 467.6,1667 469.4,1673.4 470.6,1684.8 471.4,1694.5 473.6,1710.7 474.9,1710.9 475.3,1702.8 475.4,1692.6 475.8,1684.9 475.9,1674.9 476.3,1667 476.4,1656.8 477.4,1657 477.9,1654.4 478.4,1659.6 478.3,1662.8 478.8,1667.7 478.6,1670.9 479.2,1676 479,1679 479.7,1684.3 481.2,1687 481.8,1685 481.6,1681.3 482.1,1679.2 481.8,1675.3 482.3,1673.3 482.1,1669.6 482.6,1667.7 482.2,1663.6 482.7,1661.5 482.6,1658 483,1655.6 482.7,1651.9 484.6,1651.6 484.6,1655.1 485.3,1660.3 485.2,1663.6 485.8,1668.5 485.9,1672.2 486.5,1676.3 486.5,1679 487.1,1683.1 487,1685.7 487.6,1689.8 487.4,1686.8 488.2,1685.6 487.9,1682.5 488.5,1681.1 488.4,1678.2 489.1,1676.9 488.9,1674.1 489.5,1672.6 489.3,1669.7 490.2,1674.6 490.3,1677.9 491.2,1682.8 491.1,1679 491.6,1676.7 491.4,1672.6 491.9,1670.3 491.8,1666.2 492.3,1664 492.1,1659.7 492.6,1657.3 493.9,1670.8 495.1,1668.8 495.9,1664.3 497.2,1663.6 497.8,1660.8 498.8,1665.1 498.8,1667.8 499.7,1671.8 499.7,1674.6 500.7,1673.7 500.8,1671.7 501.9,1670.7 501.8,1668.6 502.9,1671.6 502.8,1673.5 503.7,1676.5 503.6,1678.4 504.8,1676.5 505.2,1672.4 506.1,1670.3 506.6,1665.9 507.4,1663 507.9,1658.4 509,1658 509.2,1656 510.2,1655.4 511.9,1663.4 513.3,1663.5 514.3,1661.8 516,1662.9 516.7,1662.2 518.2,1662.2 518.5,1660.5 519.8,1660.4 521.8,1665.9 522.7,1665 522.6,1662.3 523.5,1661.5 523.3,1658.8 524.2,1657.9 524.3,1655.1 525.2,1654.3 525.3,1651.3 526.2,1650.5 526.4,1648.3 527.6,1648.1 527.9,1646 528.8,1649.8 529.1,1652.5 530.3,1656.7 530.8,1654.8 532.2,1654.1 533.8,1654.8 534.9,1654.2 535.1,1651.9 536.2,1651.8 536.8,1648.8 538.2,1648.1 539.8,1647.4 540.8,1646.2 541.1,1643.4 542.1,1642.2 542.7,1640.5 544.3,1640.5 544.8,1639.1 546.2,1639 546.4,1636.3 547.5,1635.2 547.7,1632.5 550.2,1637.9 551.8,1638.4 554.6,1640.3 555.6,1639.1 557.1,1639.1 557.3,1636 558.1,1634.7 558.3,1631.7 559.1,1630.4 559.4,1628.1 560.3,1627.3 560.4,1624.8 561.4,1629.7 561.7,1633 562.7,1637.9 563.1,1642.1 564.2,1648 565,1640.4 566,1635.4 566.8,1638.2 567.5,1643 568.4,1640.2 569.6,1639.2 570.2,1634 571.1,1630.5 571.3,1626.4 572.1,1624.7 572.4,1621 574.6,1624.5 576,1633.1 578.1,1637.8 578.4,1634.2 579.1,1632 579.3,1628 581.1,1636.6 581.9,1632.6 583.1,1630.6 583.2,1627 583.9,1625.5 583.9,1622 584.6,1620.3 584.5,1616.6 585.1,1614.8 585,1617.1 585.7,1621.3 585.4,1623.4 586,1627.3 585.8,1629.5 586.6,1633.7 586.3,1635.9 587.2,1633.5 587.3,1628.9 588.2,1626.9 589.8,1629.3 590.7,1628.5 590.8,1625.4 591.7,1624.5 591.8,1621.6 592.4,1625.9 592.2,1628.4 592.6,1632.4 592.4,1635.1 593,1639.2 592.8,1641.9 593.4,1646.3 593,1648.5 593.7,1653 594.8,1660.7 595.3,1657.7 595.1,1652.5 595.7,1649.8 595.5,1644.8 596,1641.6 595.9,1636.7 596.4,1633.7 596.2,1628.6 596.6,1625.5 597.9,1634.6 598.7,1632 599.2,1627.8 600.1,1625.6 601,1624.8 602,1627 602.8,1632.7 603.5,1640.4 603.7,1635.6 604.4,1633.2 604.5,1628.3 605.2,1625.7 605.9,1623.4 607.2,1623 607.8,1621.2 609.2,1621.8 609.2,1624.8 610.2,1629.9 610.2,1633.2 610.9,1631.3 610.9,1628 611.5,1626.1 611.4,1622.5 612.1,1620.9 612.1,1617.4 612.6,1615.3 613.2,1609.9 614,1605.8 615.9,1614.6 617,1614 617.9,1612 620.1,1616.8 621.8,1617.2 623.4,1620.3 623.8,1622.3 626.2,1624.1 626.9,1621.5 628.1,1620.3 629.9,1625.9 631.8,1630.4 631.4,1627.3 632.2,1626.1 631.8,1623 632.6,1621.9 632.3,1618.9 633,1617.4 632.7,1614.6 635.1,1616.9 635.3,1614.1 636.2,1612.9 636.3,1610.3 637.2,1609 637.6,1606.4 638.7,1605.5 640.3,1606.4 641,1609.7 642.1,1610.9 642.3,1614.1 644.7,1612.4 646.7,1621.8 646.8,1618.1 647.4,1616.2 647.5,1612.5 648.3,1610.8 648.3,1607 649.1,1604.9 649,1600.7 649.8,1598.5 649.9,1594.6 650.7,1592.3 650.8,1587.9 651.6,1585.8 651.9,1581.7 652.5,1589 652.6,1594.3 653.2,1601.4 653.4,1607.1 655.1,1626.7 656,1617.5 657,1610.4 657.7,1599.2 658.5,1590.4 659.5,1587.4 660.5,1585.9 660.8,1589.4 660.7,1594.7 661.2,1598.1 661,1603.6 661.5,1606.8 661.4,1612.2 661.8,1615.7 661.7,1621 662.2,1624.3 661.9,1621.7 662.6,1616.6 662.3,1613.7 662.9,1608.9 662.6,1606 663.1,1601.4 663,1598.2 663.6,1593.3 663.4,1590.3 665,1590.4 665.8,1600.9 666.4,1609.4 667.1,1607.6 667.1,1603.3 667.8,1601.1 667.8,1596.8 668.4,1602.8 668.2,1606.2 668.7,1611.7 668.6,1615.4 669.2,1621.1 669.2,1625.1 669.7,1630.7 669.6,1633.5 670.3,1638.4 670.2,1641.4 670.8,1646.3 670.8,1649.6 671.4,1647.9 671.1,1644.3 671.5,1642.2 671.4,1639 671.7,1636.8 671.6,1633.6 672.1,1631.7 671.7,1628.1 672.2,1626.2 672,1622.7 672.6,1621 672.2,1617.4 672.7,1615.5 672.5,1612.2 673.1,1610.4 672.7,1606.9 673.5,1605.5 673.1,1602.1 673.7,1600.3 673.4,1597.1 674.1,1595.5 673.7,1592 674.5,1590.5 674.2,1587.3 674.6,1585.3 674.6,1587.7 675.5,1591.7 675.4,1593.9 676.2,1597.8 676.9,1596 678.1,1595.4 678.6,1597.9 678.9,1602.4 679.6,1604.3 680.3,1606.6 681.8,1607 683.7,1616.8 685.8,1618.4 688.7,1622.8 689.1,1625.9 689.2,1631.4 689.9,1634.4 690.1,1639.5 690.7,1642.8 690.9,1648 691.4,1641.7 691.4,1637.5 692,1631 691.9,1626.7 692.6,1620.1 692.6,1615.7 693.1,1609.6 694.4,1587.9 695.8,1586.8 697,1587.7 698.1,1586.3 699.7,1586.8 700.6,1586 702.3,1586.9 704.7,1578.4 704.9,1583.2 705.6,1586.4 705.9,1591.3 706.6,1594.6 706.9,1602.3 707.6,1607.9 707.9,1615.6 709.2,1635.2 709.5,1628.8 709.5,1620.7 709.8,1614.4 709.7,1605.9 710,1599.9 710,1591.9 710.3,1585.4 710.3,1577.3 710.6,1570.9 710.9,1578.1 711.6,1587.3 711.9,1594.3 712.6,1589.9 712.9,1583 713.6,1577.9 714.2,1570.6 715.1,1565.6 715.5,1562 716.4,1560.3 716.5,1556.3 717.1,1560.1 716.6,1561.9 717.2,1565.5 716.7,1567.2 717.3,1570.8 716.8,1572.5 717.3,1576 716.8,1577.8 717.5,1581.4 716.9,1583 717.5,1586.6 717.2,1588.7 717.6,1592 717.1,1593.7 717.6,1597.2 717.3,1599.3 717.8,1602.7 717.4,1604.5 717.9,1607.9 717.4,1609.7 718,1613.3 717.6,1615.2 718,1618.4 717.5,1620.2 718,1623.6 717.8,1625.8 718.3,1629.2 718,1626.8 718.8,1625.7 718.4,1623.2 719.2,1622.2 719,1619.9 719.7,1618.7 719.5,1616.5 720.2,1615.2 720.8,1613.1 722.2,1613.1 722.7,1596 723.5,1580.7 723.9,1585 723.8,1592.1 724.2,1596.6 724.2,1603.5 724.7,1608 724.7,1614.9 725.1,1619.5 726.9,1608.1 728.5,1612 730,1584.2 730.4,1586.4 730.1,1591.1 730.6,1593.4 730.4,1597.6 730.9,1600.1 730.7,1604.2 731.3,1606.4 731.1,1610.7 731.5,1613.4 731.3,1617.6 731.9,1619.9 731.7,1624.1 732.2,1626.4 732.7,1617.7 733.7,1606.8 735.6,1610.3 735.8,1606.3 736.7,1604.7 736.9,1600.7 737.7,1598.7 739.4,1599.5 741.1,1605.4 742.5,1617 743.9,1604.4 745.6,1595.6 746.2,1594.5 746.1,1591.3 746.9,1589.8 746.9,1586.8 747.3,1589.8 747,1591.7 747.6,1594.9 747.4,1596.8 748.1,1600.2 747.8,1602.1 748.5,1605.3 748.2,1607.2 748.8,1610.4 748.5,1607.5 749.2,1606.1 749,1603.1 749.5,1601.4 749.4,1598.4 750,1596.9 749.9,1594.1 750.4,1592.5 750.3,1589.6 752.2,1592.9 752.1,1595.6 752.9,1600.3 753,1603.4 753.6,1607.8 753.5,1604.8 754.2,1603.5 753.9,1600.4 754.8,1599.2 754.6,1596.2 755.3,1594.8 754.9,1591.6 755.8,1590.4 755.8,1588 756.4,1586.7 756.4,1584.3 757.2,1583.4 757.6,1588.6 758.6,1595.4 758.7,1598.2 759.3,1602.4 759.3,1605.2 759.8,1609.2 759.8,1612 760.4,1611 760.1,1608.5 760.6,1607.1 760.2,1604.7 760.9,1603.5 760.6,1601.1 761.1,1599.7 760.8,1597.2 761.5,1596.1 760.9,1593.4 761.6,1592.1 761.3,1589.8 762,1588.4 761.6,1585.6 762.2,1584.2 762,1581.5 762.6,1580.1 762.3,1577.3 763.2,1576.3 762.8,1573.5 763.3,1576.4 763.1,1578.3 763.8,1581.6 763.4,1583.3 763.9,1586.3 763.6,1588.1 764.2,1591.2 763.9,1592.9 764.5,1596.1 764.2,1597.8 764.8,1601 764.6,1602.9 765.1,1605.9 764.8,1607.8 765.5,1606.5 765.4,1603.9 766.2,1602.9 766,1600.3 766.7,1599.1 766.4,1596.3 767.2,1595.3 766.9,1592.2 767.7,1590.9 767.4,1587.6 768.1,1586.2 767.8,1582.9 768.5,1581.4 768.3,1578.4 769.6,1578.3 770.2,1577.2 771.9,1576.7 772.2,1574.7 774.8,1577.9 776.3,1579.7 778.9,1585.4 778.5,1582.9 779.3,1581.7 779.1,1579.4 779.8,1578.1 779.4,1575.5 780.4,1574.6 779.9,1571.9 780.7,1570.7 780.6,1572.6 781.4,1575.4 781.1,1577.1 782.2,1580.2 781.9,1581.9 782.9,1584.9 782.7,1582.5 783.4,1581.4 783.3,1578.8 784.1,1577.8 784,1575.2 784.8,1574.2 786.3,1577 787.3,1576.2 787.1,1574.1 788,1573 787.9,1570.9 788.9,1569.9 790.3,1571.8 791.5,1570.9 791.5,1568.6 792.9,1568 792.6,1566 793.5,1565.2 793.5,1563.6 794.5,1562.8 794.3,1561.1 795.2,1563.4 794.9,1564.8 795.7,1567 795.5,1568.5 796.4,1570.8 796.2,1572.3 797.1,1571.2 796.8,1569.1 797.5,1568 796.9,1565.6 797.8,1564.6 797.5,1562.5 798.2,1561.5 797.9,1559.3 798.5,1558 798.3,1556.1 799.7,1559.6 800.3,1562.3 801.1,1561.3 800.5,1559.1 801.5,1558.3 801.1,1556.3 801.7,1555.2 801.5,1553.3 802.2,1552.3 801.9,1550.3 802.6,1549.3 802.2,1547.2 803.2,1549.9 803.3,1551.7 804.3,1554.4 804.2,1556 805.5,1555.3 805.6,1553.6 806.9,1552.8 806.5,1550.9 807.1,1549.6 806.8,1547.8 807.8,1546.8 807.4,1544.9 808,1543.6 807.7,1541.8 810.4,1544.1 810.1,1545.7 810.6,1548.1 810.3,1549.7 811.3,1552.5 810.8,1553.9 811.7,1556.6 811.2,1558 812,1560.6 811.7,1562.2 813.1,1565.1 813.2,1566.7 814,1565.7 813.6,1563.6 814.3,1562.5 813.7,1560.2 814.5,1559.1 813.9,1556.9 814.8,1555.9 814.2,1553.6 815,1552.6 814.7,1550.5 815.2,1549.3 814.9,1547.2 815.5,1546 815,1543.8 815.7,1542.6 815.7,1541 816.8,1540.2 816.6,1538.4 817.8,1537.7 818.3,1536.7 819.9,1536.6 819.5,1534.5 820.5,1533.6 820.2,1531.6 820.9,1530.4 820.6,1528.4 823.2,1532.7 823,1530.9 823.7,1529.8 823.3,1528 824,1526.9 823.7,1525.1 824.3,1523.9 824,1522.2 824.6,1521 824.1,1519.1 825,1518.1 824.6,1516.3 825.3,1515.2 824.9,1516.5 825.5,1518.4 825.1,1519.6 825.8,1521.6 825.6,1523 826.1,1524.8 825.6,1526.1 826.5,1528.2 826,1529.4 826.8,1531.5 826.6,1529.7 827.3,1528.7 827.1,1526.9 827.7,1525.8 827.6,1524.1 828.3,1523.1 827.9,1521.1 828.9,1520.3 828.5,1518.4 829.2,1517.3 829,1515.6 829.7,1514.5 829.6,1512.8 830.4,1511.8 830,1509.9 830.7,1508.9 830.5,1510.5 831.5,1513.2 831.3,1514.8 832.2,1517.4 831.9,1518.9 832.9,1521.6 832.5,1519.7 833.3,1518.6 833.1,1516.9 833.9,1515.9 833.5,1514.1 834.2,1512.9 834,1511.3 834.7,1510.1 834.3,1508.1 835.1,1507 834.5,1504.8 835.2,1503.7 834.8,1501.7 835.5,1500.5 834.8,1498.2 835.7,1497.2 835.1,1495.1 835.6,1493.7 835.3,1491.8 836,1490.6 835.3,1488.4 836.1,1487.2 835.6,1485.2 836.3,1484 835.9,1485.4 836.6,1487.7 836,1488.9 836.8,1491.3 836.3,1492.6 836.9,1494.8 836.3,1496 836.9,1498.3 836.5,1499.6 837.4,1502.1 836.8,1503.3 837.5,1505.7 836.9,1506.8 837.5,1509.1 837.2,1510.5 837.9,1512.8 837.4,1514.2 838.2,1516.6 837.8,1518 838.4,1520.3 838,1521.6 838.8,1524.1 838.1,1525.3 839,1527.7 838.6,1529.1 839.3,1531.5 838.8,1529.5 839.5,1528.3 839,1526.4 839.7,1525.3 839.2,1523.4 840,1522.3 839.2,1520.2 839.9,1519.1 839.4,1517.1 840.1,1516 839.8,1514.2 840.3,1512.9 839.9,1511 840.5,1509.8 840,1507.9 840.6,1506.7 840.2,1504.8 840.9,1506.7 840.4,1508 841.2,1509.9 840.7,1511.2 841.5,1513.1 841,1514.4 841.6,1516.2 841.3,1517.5 841.9,1519.4 841.6,1520.7 842.2,1522.6 841.8,1520.9 842.4,1519.8 842.1,1518.1 842.7,1517 842.2,1515.2 843,1514.1 842.4,1512.3 843.2,1511.2 842.8,1509.5 843.4,1508.4 843,1506.7 843.5,1505.5 843,1503.7 843.9,1502.7 843.4,1500.8 844,1499.5 843.8,1497.7 844.3,1496.4 844,1494.6 844.6,1493.3 844.3,1491.5 844.9,1490.2 844.5,1488.3 845.3,1487.2 844.9,1488.5 845.6,1490.5 845.1,1491.8 845.7,1493.8 845.2,1495.1 845.8,1497.1 845.4,1498.4 845.9,1500.3 845.4,1501.6 846.2,1503.7 845.7,1504.9 846.5,1507 845.8,1508.2 846.6,1510.3 846.1,1511.6 846.7,1513.5 846.3,1514.8 846.8,1513.7 846.6,1512.1 847,1510.9 846.6,1509.2 847.5,1508.2 846.9,1506.4 847.7,1505.4 847.3,1503.6 847.9,1502.5 847.4,1500.7 848.2,1499.7 847.6,1497.9 848.3,1496.8 848,1495.2 848.7,1494.1 848.2,1492.3 848.9,1494.5 848.6,1495.9 849.4,1498.1 849,1499.4 849.6,1501.5 849.2,1502.9 850,1505.2 849.6,1506.5 850.4,1508.7 849.9,1510 850.6,1512.2 850.1,1513.4 850.9,1512.4 850.4,1510.6 851.1,1509.5 850.7,1507.7 851.2,1506.5 850.8,1504.7 851.4,1503.5 851.1,1501.8 851.5,1500.5 851.1,1498.7 851.9,1497.7 851.4,1495.8 852.1,1494.7 851.5,1492.8 852.1,1491.6 851.8,1489.9 852.5,1488.8 852,1487 852.7,1485.9 852.3,1484.1 853.1,1483.1 852.5,1481.2 853.2,1480.1 852.9,1478.4 853.5,1477.2 853.2,1475.6 853.9,1474.5 853.6,1472.8 854.2,1471.6 853.6,1469.8 854.4,1471.8 854.1,1473.1 854.8,1475 854.2,1476.2 855.1,1478.3 854.6,1479.5 855.3,1481.4 854.8,1482.7 855.7,1484.7 855.2,1485.9 855.8,1487.8 855.5,1489.2 856.1,1491 855.8,1492.4 856.4,1491.2 856.1,1489.5 857,1488.6 856.7,1486.8 857.4,1485.7 857.2,1484.1 857.8,1482.9 857.5,1481.2 858.4,1480.2 858.4,1481.9 859.6,1484.4 859.6,1485.9 860.5,1485 860.1,1483.2 860.7,1482 860.2,1480.2 860.9,1479 860.4,1477.1 861.3,1476.1 860.8,1474.3 861.5,1473.1 860.9,1471.2 861.8,1470.2 861.2,1468.3 861.8,1467.1 861.5,1465.3 862.2,1464.2 861.8,1462.4 862.5,1464.4 862,1465.6 862.6,1467.5 862.2,1468.8 862.8,1470.7 862.2,1471.9 863,1473.9 862.5,1475.1 863.3,1477.2 862.7,1478.3 863.4,1480.3 863.1,1481.7 863.6,1483.5 863.1,1484.8 863.9,1483.7 863.9,1482 864.6,1480.9 864.4,1479.1 865.2,1478 865,1476.3 865.7,1475.1 866.2,1476.7 867.8,1478.9 867.3,1477.2 868,1476 867.8,1474.5 868.5,1473.3 868,1471.6 868.7,1470.5 868.3,1468.9 869.2,1467.8 868.7,1466.1 869.3,1465 868.9,1463.4 869.5,1462.3 869.2,1460.7 869.9,1459.6 869.4,1457.9 870.1,1456.9 869.6,1455.2 870.4,1454.2 870.1,1452.6 870.6,1451.4 870.2,1449.8 871,1451.6 870.6,1452.8 871.3,1454.6 871.1,1455.8 871.8,1457.6 871.3,1458.7 872,1460.5 871.7,1461.7 872.3,1463.4 872.1,1464.7 872.9,1466.4 872.3,1464.6 873.2,1463.6 872.6,1461.7 873.4,1460.7 872.9,1458.8 873.6,1457.7 873.2,1456 874,1454.9 873.7,1453.2 874.3,1452 873.9,1450.2 874.5,1449 874.2,1447.4 875,1446.4 874.6,1444.9 875.3,1443.8 875,1442.3 875.7,1441.3 875.5,1439.9 876.3,1438.9 875.9,1440.1 876.6,1441.8 876.3,1443 876.9,1444.6 876.5,1445.8 877.3,1447.6 876.9,1448.8 877.4,1450.4 877.1,1451.6 877.7,1453.2 877.5,1454.5 878,1456.1 877.9,1457.4 878.3,1456.3 877.9,1454.7 878.5,1453.6 878.2,1452 878.9,1450.9 878.6,1449.4 879.2,1448.3 878.8,1446.7 879.4,1445.6 879.2,1444.1 879.8,1443 879.3,1441.4 880,1440.3 879.6,1438.7 880.3,1437.6 879.8,1436 880.4,1434.8 880.1,1433.2 880.6,1431.9 880.3,1430.4 880.9,1429.2 880.4,1427.5 881.1,1426.4 880.6,1424.7 881.1,1423.5 880.8,1421.9 881.3,1420.7 880.9,1419.1 881.6,1417.9 881,1416.2 881.8,1415.1 881.5,1416.4 882,1418.1 881.6,1419.4 882.4,1421.1 881.9,1422.4 882.6,1424.1 882.2,1425.4 883,1427.1 882.6,1428.4 883.2,1430.1 882.9,1428.5 883.4,1427.4 883,1425.8 883.7,1424.7 883.4,1423.1 884.1,1422 883.5,1420.4 884.3,1419.3 883.9,1417.7 884.5,1416.6 884.1,1415 884.6,1413.8 884.4,1415.1 885.1,1416.9 884.5,1418 885.3,1419.8 884.9,1421 885.7,1422.8 885.2,1424 885.8,1425.7 885.4,1426.9 886,1428.6 885.8,1429.9 886.3,1431.6 885.9,1432.8 886.5,1434.5 886.3,1435.8 886.7,1437.4 886.4,1438.7 886.9,1440.4 886.6,1441.6 887.3,1443.4 886.8,1444.6 887.4,1446.3 887,1447.5 887.4,1449.1 887.2,1450.5 887.9,1452.2 887.4,1450.6 888,1449.4 887.5,1447.8 888.1,1446.7 887.7,1445.1 888.3,1444 887.7,1442.4 888.4,1441.2 887.9,1439.7 888.6,1438.6 888.2,1437 888.7,1435.8 888.2,1434.3 888.7,1433.1 888.5,1431.6 889,1430.4 888.7,1428.9 889.3,1427.8 888.8,1426.2 889.7,1425.1 889.7,1423.7 890.5,1422.6 890.4,1421.2 891.3,1420.1 890.9,1418.5 891.6,1417.4 891.2,1415.9 891.8,1414.7 891.6,1413.2 892.1,1412 891.8,1410.5 892.4,1409.3 892.2,1407.8 892.8,1406.6 892.4,1405.1 893.1,1403.9 892.8,1402.4 893.5,1404 893.6,1405.4 894.5,1407.1 894.4,1408.4 895.2,1410.1 895,1408.6 895.4,1407.3 895.2,1405.9 895.8,1404.6 895.5,1403.1 896.1,1401.9 895.7,1400.4 896.2,1399.1 896.1,1397.7 896.7,1396.5 896.3,1394.9 896.9,1396.4 896.5,1397.6 897.1,1399.1 896.9,1400.4 897.2,1401.8 897,1403 897.5,1404.5 897.3,1405.7 897.7,1407.2 897.5,1408.4 898,1409.9 897.6,1411.1 898.1,1412.5 897.8,1411.1 898.4,1409.9 897.9,1408.4 898.4,1407.2 898,1405.7 898.6,1404.6 898.2,1403.1 898.6,1401.9 898.2,1400.4 898.7,1399.2 898.3,1397.7 899,1396.6 898.5,1395.1 899,1393.9 898.6,1392.4 899,1391.2 898.6,1389.7 899.1,1388.5 898.8,1387 899.2,1385.8 898.8,1384.3 899.4,1383.2 899,1381.7 899.4,1380.5 899.1,1379 899.5,1377.8 899.1,1376.3 899.7,1375.2 899.2,1373.7 899.9,1375.3 899.5,1376.5 899.8,1378.1 899.6,1379.4 900,1380.9 899.5,1382.2 900,1383.7 899.7,1385 900.1,1386.6 899.8,1387.8 900.2,1389.4 899.9,1390.7 900.4,1392.2 900,1393.5 900.5,1395.1 900,1396.3 900.6,1397.9 900.1,1399.1 900.6,1400.7 900.3,1402 900.8,1403.6 900.4,1404.9 901,1406.5 900.4,1407.6 901.1,1409.3 900.6,1410.5 901.1,1412.1 900.7,1413.3 901.2,1414.9 900.8,1416.2 901.2,1415 900.8,1413.5 901.3,1412.3 901,1410.8 901.4,1409.6 901,1408.1 901.4,1406.9 901.1,1405.4 901.6,1404.2 901,1402.7 901.7,1401.6 901.2,1400.1 901.7,1398.9 901.2,1397.3 901.8,1396.2 901.4,1394.7 901.9,1393.5 901.5,1392 902,1390.8 901.5,1389.3 902.1,1388.1 901.5,1386.6 902.1,1385.4 901.7,1383.9 902.2,1382.7 901.8,1381.2 902.2,1380 901.9,1378.6 902.3,1377.4 901.8,1375.8 902.3,1374.6 902,1373.2 902.4,1372 902.1,1370.5 902.4,1369.3 902.2,1367.8 902.6,1366.6 902.2,1365.1 902.7,1363.9 902.2,1362.4 902.8,1364 902.4,1365.2 903,1366.7 902.6,1367.9 903.1,1369.5 902.7,1370.7 903.3,1372.2 902.9,1373.4 903.4,1375 903.1,1376.2 903.5,1377.7 903.1,1378.9 903.8,1380.5 903.4,1381.7 903.8,1383.2 903.4,1384.4 904,1386 903.7,1387.2 904.1,1388.7 903.8,1389.9 904.3,1388.8 903.8,1387.3 904.4,1386.1 904,1384.7 904.5,1383.5 904.2,1382.1 904.6,1380.9 904.3,1379.4 904.9,1378.3 904.6,1376.9 905,1375.6 904.5,1374.2 905.2,1373.1 904.9,1371.6 905.3,1370.4 904.8,1368.9 905.5,1367.8 905.1,1366.4 905.5,1365.2 905.2,1363.7 905.7,1362.6 905.5,1363.9 906,1365.5 905.8,1366.8 906.3,1368.4 906.2,1369.7 906.6,1371.3 906.5,1372.6 907,1374.2 906.7,1375.5 907.3,1377.1 907.1,1378.5 907.8,1380.1 907.4,1378.6 907.8,1377.4 907.5,1376 908.1,1374.9 907.8,1373.4 908.3,1372.3 908,1370.8 908.4,1369.6 908.1,1368.2 908.6,1367 908.2,1365.6 908.8,1364.4 908.5,1363 909,1361.8 908.7,1360.4 909.1,1359.2 908.8,1357.8 909.3,1356.6 909,1355.2 909.5,1354 909.1,1352.5 909.7,1351.4 909.2,1349.9 909.8,1348.8 909.4,1347.3 909.9,1346.1 909.4,1344.6 910,1343.4 909.6,1342 910.1,1340.8 909.8,1339.3 910.3,1338.1 910,1336.7 910.4,1335.5 910.1,1334 910.5,1332.8 910.1,1331.3 910.7,1330.2 910.4,1328.7 910.8,1327.5 910.5,1326.1 911,1324.9 910.5,1323.4 911.2,1322.3 910.8,1320.8 911.2,1319.6 910.7,1320.8 911.3,1322.4 910.8,1323.6 911.6,1325.3 911,1326.5 911.6,1328.1 911.3,1329.4 911.7,1330.9 911.3,1332.2 911.8,1333.8 911.5,1335.1 912,1336.6 911.5,1337.8 912.1,1339.5 911.7,1340.7 912.3,1342.3 911.7,1343.5 912.2,1345.1 911.8,1346.4 912.5,1348 912,1349.2 912.6,1350.8 912.2,1352.1 912.6,1353.6 912.4,1355 912.8,1356.5 912.4,1357.7 913.1,1359.2 912.7,1360.4 913.3,1362 912.9,1363.2 913.3,1364.7 912.9,1365.9 913.5,1367.4 913.2,1368.7 913.7,1370.2 913.5,1371.4 914,1373 913.5,1374.2 914.2,1375.7 913.7,1376.9 914.2,1375.7 913.8,1374.2 914.4,1373 913.9,1371.5 914.4,1370.3 914,1368.8 914.5,1367.5 914.2,1366.1 914.5,1364.8 914.2,1363.4 914.7,1362.1 914.4,1360.7 914.8,1359.4 914.4,1358 914.9,1356.7 914.5,1355.2 915,1354 914.6,1352.5 915.1,1351.3 914.7,1349.8 915.3,1348.6 914.9,1347.1 915.4,1345.9 914.9,1344.4 915.5,1343.2 915.1,1341.7 915.5,1340.5 915.2,1339 915.7,1337.8 915.3,1336.3 915.6,1335 915.3,1336.3 916,1337.9 915.8,1339.2 916.2,1340.7 916,1342 916.4,1343.5 916.3,1344.9 916.7,1346.4 916.5,1347.7 917.1,1349.2 916.7,1350.5 917.2,1352 917,1353.4 917.6,1354.9 917.3,1356.2 917.8,1354.8 917.3,1353.2 917.8,1351.8 917.3,1350.2 917.8,1348.8 917.6,1347.2 918,1345.8 917.6,1344.2 918,1342.8 917.6,1341.2 918.1,1339.8 917.8,1338.2 918.2,1336.8 917.7,1335.2 918.3,1333.8 917.9,1332.2 918.3,1330.8 917.9,1329.2 918.3,1327.8 918,1326.2 918.4,1324.8 918.1,1323.2 918.5,1321.8 918.2,1320.2 918.6,1318.8 918.4,1317.2 918.7,1315.8 918.3,1314.2 918.9,1312.8 918.5,1311.2 918.9,1309.8 918.5,1308.2 918.9,1306.8 918.7,1305.2 919,1303.8 918.7,1302.2 919.2,1300.8 918.6,1299.2 919.3,1297.8 918.9,1296.2 919.2,1297.6 918.8,1298.9 919.3,1300.3 919,1301.6 919.6,1303.1 919.1,1304.3 919.6,1305.8 919.2,1307 919.8,1308.5 919.4,1309.7 919.8,1311.1 919.5,1312.4 920,1313.9 919.7,1315.1 920.1,1316.6 919.7,1317.8 920.3,1319.3 919.8,1320.5 920.4,1322 920,1323.2 920.5,1324.7 920.2,1325.9 920.6,1327.3 920.3,1328.6 920.6,1330 920.4,1328.6 920.8,1327.4 920.5,1325.9 921,1324.7 920.6,1323.2 921.2,1322.1 920.9,1320.6 921.2,1319.4 920.9,1317.9 921.4,1316.7 921.1,1315.3 921.6,1314.1 921.1,1312.5 921.6,1311.3 921.4,1309.9 921.8,1308.7 921.5,1307.2 922,1306 921.6,1304.5 922.1,1303.3 921.8,1301.9 922.3,1300.7 921.8,1299.2 922.3,1298 922,1296.5 922.6,1295.3 922.2,1293.9 922.7,1292.7 922.3,1291.2 923.3,1290.1 923.3,1288.7 924.2,1287.6 924.2,1286.1 924.8,1285 924.3,1283.3 924.8,1282.1 924.4,1280.5 924.9,1279.3 924.6,1277.8 925.1,1276.6 924.7,1275 925.3,1273.8 924.8,1272.2 925.3,1271 924.8,1269.3 925.2,1268.1 924.8,1266.5 925.5,1265.4 924.9,1263.7 925.4,1262.5 925.1,1260.9 925.7,1259.8 925.2,1258.1 925.8,1257 925.2,1255.3 925.9,1254.2 925.3,1252.5 925.8,1251.3 925.5,1249.8 925.9,1248.5 925.5,1246.9 926.1,1245.7 925.5,1244.1 926.3,1243 925.8,1241.3 926.3,1240.1 925.9,1241.4 926.4,1243.1 925.9,1244.3 926.3,1245.9 925.9,1247.1 926.5,1248.8 925.9,1250 926.6,1251.7 926,1252.9 926.5,1254.6 926.1,1255.8 926.5,1257.5 926,1258.7 926.5,1260.3 926.2,1261.6 926.7,1263.3 926.2,1264.5 926.7,1266.1 926.3,1267.4 926.9,1269.1 926.2,1270.3 926.8,1271.9 926.2,1273.1 927,1274.9 926.4,1276.1 927,1277.8 926.5,1279 927,1280.7 926.5,1281.9 927,1283.5 926.5,1284.7 927.1,1286.4 926.5,1287.6 927.1,1289.3 926.7,1290.6 927.2,1292.2 926.7,1293.4 927.1,1295.1 927,1296.5 927.7,1298.3 927.2,1299.5 927.8,1301.3 927.4,1302.6 928.1,1304.4 927.8,1305.7 928.3,1307.5 928.2,1308.9 928.8,1310.6 928.4,1309.1 928.9,1307.8 928.6,1306.3 929,1305 928.7,1303.5 929.2,1302.3 928.7,1300.7 929.2,1299.5 929,1298 929.5,1296.8 929,1295.1 929.7,1294 929.1,1292.4 929.6,1291.1 929.3,1289.6 929.8,1288.4 929.5,1286.9 929.9,1285.6 929.6,1284.1 930.1,1282.9 929.7,1281.3 930.2,1280.1 929.8,1281.3 930.5,1283.1 929.9,1284.3 930.6,1286 930.3,1287.3 930.9,1289.1 930.3,1290.2 931.1,1292 930.6,1293.2 931.1,1294.9 930.9,1296.3 931.5,1298 931,1299.2 931.6,1300.9 931.2,1302.2 931.7,1303.8 931.2,1302.2 931.8,1301 931.3,1299.3 932,1298.3 931.4,1296.6 931.9,1295.3 931.6,1293.8 932.1,1292.6 931.6,1290.9 932.1,1289.7 931.8,1288.1 932.2,1286.9 931.9,1285.3 932.2,1284 931.9,1282.4 932.3,1281.2 932,1279.6 932.6,1278.5 932.1,1276.8 932.6,1275.6 932.2,1274 932.6,1272.7 932,1271 932.8,1270 932.1,1268.2 932.9,1267.1 932.4,1265.5 933,1264.3 932.5,1262.7 932.8,1261.4 932.5,1259.8 933,1258.6 932.5,1256.9 933.1,1255.8 932.5,1254.1 933.2,1253 932.7,1251.3 933.3,1250.1 932.9,1251.4 933.3,1253 932.8,1254.1 933.4,1255.8 932.9,1257 933.6,1258.7 933.2,1260 933.8,1261.7 933.1,1262.7 933.8,1264.5 933.2,1265.6 933.9,1267.3 933.5,1268.6 933.9,1270.2 933.5,1271.4 934.1,1273.1 933.7,1274.3 934.2,1275.9 933.8,1277.2 934.3,1278.8 933.9,1280 934.4,1281.7 934,1282.9 934.7,1284.6 934,1285.7 934.6,1287.4 934.4,1288.7 934.9,1287.5 934.4,1285.9 934.9,1284.7 934.4,1283 935.1,1281.9 934.7,1280.3 935.1,1279.1 934.7,1277.5 935.2,1276.3 934.8,1274.7 935.3,1273.5 934.9,1271.9 935.6,1270.8 935.2,1269.2 935.6,1267.9 935.1,1266.3 935.8,1265.2 935.4,1263.6 935.9,1262.4 935.4,1260.8 935.9,1259.6 935.4,1257.9 936.2,1256.8 935.5,1255.2 936.2,1254 935.7,1252.4 936.7,1251.3 936.7,1249.9 937.8,1248.8 937.7,1247.4 938.4,1249.1 937.9,1250.3 938.7,1252.1 938.2,1253.4 939,1255.1 938.6,1256.4 939.1,1258.1 938.9,1259.4 939.5,1261.1 939.1,1262.4 939.7,1264.1 939.3,1265.4 939.9,1267.1 939.7,1268.4 940.2,1270.1 939.8,1268.6 940.4,1267.4 940,1266 940.7,1264.8 940.4,1263.4 941,1262.2 940.5,1260.7 941.1,1259.6 940.8,1258.1 941.2,1256.9 940.9,1255.4 941.4,1254.3 941.1,1252.8 941.7,1251.7 941.4,1250.2 941.9,1249 941.5,1247.5 942.1,1246.4 941.8,1244.9 942.3,1243.8 942,1242.3 942.5,1241.1 942.3,1239.7 942.8,1238.5 942.3,1237 943.1,1235.9 942.7,1234.4 943.1,1233.2 942.9,1231.8 943.4,1230.6 943.1,1229.2 943.5,1227.9 943.2,1226.5 943.9,1225.4 943.5,1223.9 944,1222.7 943.6,1221.2 944.2,1220.1 944,1221.3 945,1223 944.8,1224.2 945.7,1225.8 945.5,1227 946.4,1228.7 946.3,1229.9 946.9,1228.8 946.5,1227.2 947.2,1226.1 946.9,1224.5 947.7,1223.5 947.3,1221.9 948,1220.8 947.7,1219.3 948.3,1218.2 947.9,1216.5 948.7,1215.5 948.1,1213.8 948.8,1212.7 948.5,1211.2 949.1,1210.1 949,1211.4 949.7,1213.1 949.3,1214.4 950,1216.1 949.7,1217.4 950.5,1219.1 950.1,1220.4 950.9,1222.1 950.7,1223.4 951.2,1225.1 950.9,1226.5 951.4,1228.2 951,1229.5 951.6,1231.4 951.2,1232.7 951.7,1234.5 951.3,1235.7 952,1237.6 951.6,1238.9 952.2,1240.8 951.7,1242 952.4,1243.9 952,1245.2 952.5,1247 952.2,1248.3 952.7,1250.1 952.2,1251.4 952.9,1253.5 952.4,1254.7 953.1,1256.8 952.9,1258.2 953.3,1260.1 953,1261.4 953.7,1263.5 953.3,1264.9 953.8,1266.8 953.5,1268.1 954,1270.1 953.7,1271.5 954.3,1273.5 953.8,1274.8 954.6,1276.9 954,1278 954.7,1280.2 954.5,1278.5 955.2,1277.4 954.8,1275.6 955.2,1274.4 954.9,1272.6 955.7,1271.6 955.3,1269.9 955.8,1268.7 955.5,1266.9 956.3,1266 955.7,1264.1 956.6,1263.1 956.2,1261.3 956.7,1260.1 956.4,1258.5 957.2,1257.6 956.9,1256.1 957.8,1255.2 957.6,1253.6 958.3,1252.7 958,1251.1 958.8,1250.2 958.5,1251.5 959.2,1253.5 958.6,1254.7 959.4,1256.6 959,1258 959.7,1259.9 959.3,1261.1 960.2,1263.2 959.7,1264.4 960.4,1266.4 960,1267.7 960.8,1269.7 960.5,1267.8 961,1266.5 960.7,1264.6 961.2,1263.3 960.8,1261.3 961.6,1260.2 961.3,1258.3 962,1257.2 961.4,1255.1 962.3,1254.1 961.8,1252 962.6,1250.9 962.1,1248.9 962.7,1247.7 962.3,1245.8 963.1,1244.7 962.7,1242.8 963.2,1241.5 962.7,1239.6 963.3,1238.4 962.9,1236.5 963.6,1235.4 963.3,1233.6 963.9,1232.4 963.6,1230.6 964.3,1229.5 963.7,1227.5 964.5,1226.4 963.9,1224.4 964.7,1223.4 964.2,1221.4 964.8,1220.2 964.4,1218.1 965.1,1217 964.7,1214.9 965.5,1213.9 965.3,1211.9 966,1210.9 965.6,1208.8 966.4,1207.7 965.9,1205.6 966.7,1204.5 966.3,1202.4 967,1201.3 966.6,1199.2 967.3,1198.1 966.9,1196 967.8,1195.1 967.3,1192.8 968.2,1191.9 967.7,1189.7"/>
<line class="ti" x1="134.1" y1="1820.5" x2="147.6" y2="1820.5"/>
<text class="tk" text-anchor="end" x="120.4" y="1834.4">0.8</text>
<line class="ti" x1="134.1" y1="1738.9" x2="147.6" y2="1738.9"/>
<text class="tk" text-anchor="end" x="120.4" y="1752.8">0.9</text>
<line class="ti" x1="134.1" y1="1657.4" x2="147.6" y2="1657.4"/>
<text class="tk" text-anchor="end" x="120.4" y="1671.3">1.0</text>
<line class="ti" x1="134.1" y1="1575.8" x2="147.6" y2="1575.8"/>
<text class="tk" text-anchor="end" x="120.4" y="1589.7">1.1</text>
<line class="ti" x1="134.1" y1="1494.3" x2="147.6" y2="1494.3"/>
<text class="tk" text-anchor="end" x="120.4" y="1508.2">1.2</text>
<line class="ti" x1="134.1" y1="1412.7" x2="147.6" y2="1412.7"/>
<text class="tk" text-anchor="end" x="120.4" y="1426.6">1.3</text>
<line class="ti" x1="134.1" y1="1331.2" x2="147.6" y2="1331.2"/>
<text class="tk" text-anchor="end" x="120.4" y="1345.1">1.4</text>
<line class="ti" x1="134.1" y1="1249.6" x2="147.6" y2="1249.6"/>
<text class="tk" text-anchor="end" x="120.4" y="1263.5">1.5</text>
<line class="ti" x1="305.1" y1="1820.5" x2="305.1" y2="1834"/>
<line class="ti" x1="530" y1="1820.5" x2="530" y2="1834"/>
<line class="ti" x1="755" y1="1820.5" x2="755" y2="1834"/>
<line class="ti" x1="979.9" y1="1820.5" x2="979.9" y2="1834"/>
<rect class="sp" x="147.6" y="1249.6" width="832.3" height="570.9"/>
<rect class="lgb" x="166.5" y="1268.5" width="561.1" height="70" rx="6" ry="6"/>
<line class="lgl" x1="174.5" y1="1302.3" x2="221.7" y2="1302.3"/>
<text class="lg" x="230" y="1314.9">1996 FG3 (04-23-2022)</text>
<text class="lb" text-anchor="middle" transform="translate(37,1534.3) rotate(-90)">Reflectance</text>
</g>
<g>
<polyline class="cv" style="stroke-width:4.0" clip-path="url(#c5)" points="1057,1755 1057.6,1751.9 1058.7,1750 1060.9,1758.3 1061.7,1757.1 1061.9,1754 1062.7,1752.8 1062.9,1749.7 1065.2,1754.9 1065.5,1752 1066.5,1750.6 1066.9,1747.7 1068.2,1747.6 1068.8,1745.8 1071.2,1749.9 1073.3,1752.6 1074.3,1751.2 1074.6,1748.5 1075.6,1747.3 1077.4,1751 1078.3,1749.6 1078.7,1747.1 1079.6,1745.7 1081.4,1747.6 1082.4,1746.8 1082.7,1744.3 1083.6,1743.3 1083.9,1740.4 1084.7,1738.9 1084.8,1735.6 1085.7,1734.1 1087.4,1737.2 1089.7,1740 1089.8,1737 1090.7,1735.8 1090.9,1733 1091.7,1731.6 1093.3,1734.7 1094.3,1733.8 1094.6,1731.5 1095.7,1730.9 1097.3,1735.7 1098.4,1734.5 1098.8,1731.5 1099.7,1729.9 1101.4,1732.7 1102.7,1732.6 1103.3,1730.7 1104.6,1729.9 1105.3,1727.5 1107.7,1734.9 1108,1732.5 1109,1731.9 1109.4,1729.8 1112.2,1731.6 1113.2,1729.2 1114.6,1728.2 1115.7,1728.5 1117.1,1729.7 1117.8,1728 1119.1,1727.9 1119.9,1725.7 1121.1,1724.9 1122.9,1728.4 1124.1,1727.5 1124.9,1725.1 1127.1,1726.6 1128.9,1728.3 1131.2,1733.6 1131.6,1730.1 1132.4,1728.1 1132.9,1724.7 1133.8,1723.5 1134.2,1720.5 1135.1,1719.1 1136.8,1723.2 1138.1,1723.4 1138.9,1722 1141.6,1726 1142.4,1722.8 1143.6,1721.6 1145.4,1721.5 1146.3,1720.4 1146.8,1718 1147.7,1716.8 1149.3,1719.5 1151.2,1721.8 1151.6,1718.9 1152.5,1717.6 1152.9,1714.8 1154.6,1714 1156.4,1717 1158.6,1718.5 1159.6,1717.3 1161.2,1718.1 1162.2,1715.6 1163.6,1715 1164.6,1714.4 1166.1,1715.9 1167.2,1714.6 1168.6,1715.1 1170.4,1715.9 1171.6,1715.5 1172.4,1713.5 1173.6,1711.4 1174.4,1707.4 1175.4,1706.3 1176.2,1703.2 1178.1,1710.7 1178.9,1708.9 1180,1709 1181.9,1709 1184,1712.7 1185.9,1712 1188,1715.3 1188.9,1712.6 1190,1711.6 1191.2,1709.7 1192.5,1709.8 1193.7,1708.5 1195.1,1709.1 1196.2,1707.8 1197.6,1708.5 1198.5,1707.2 1199.5,1707.4 1201.5,1709.4 1203,1712.8 1204.5,1714 1205.5,1713.3 1206.5,1710.7 1207.8,1711 1209,1709.2 1210.3,1711.3 1211.5,1711.6 1212.8,1711.8 1214,1710.3 1215.3,1711.3 1216.4,1710.8 1217.8,1710.3 1219,1708.5 1220.1,1707.3 1220.9,1704.5 1222.3,1706.9 1223.4,1707.5 1224.8,1708.9 1225.9,1708.2 1227.3,1710.3 1228.4,1709.9 1229.8,1709.5 1230.9,1707.5 1232.3,1707.8 1233.3,1706.4 1234.9,1706.4 1235.9,1704 1238.6,1709.1 1239.6,1707.9 1241.1,1708.5 1242.1,1706.2 1243.6,1705.8 1244.7,1704.2 1246.1,1704.2 1247.2,1703.1 1248.6,1703.4 1249.5,1700.8 1250.5,1699.9 1252.4,1705.6 1253.4,1703.7 1253.9,1699.3 1255.4,1700.4 1256.4,1699.1 1257.6,1699.7 1258.4,1698.4 1259.6,1697.5 1260.4,1695 1262.6,1702.3 1263.7,1701 1265.1,1701.1 1266.2,1699.3 1267.6,1699.2 1268.6,1697.7 1270.1,1698 1271.1,1697.5 1272.6,1699.3 1273.7,1698.8 1275.1,1699.7 1276.2,1699.3 1277.6,1700.5 1279.4,1700.7 1280.6,1699.7 1281.3,1696.4 1282.8,1697.9 1283.9,1697.6 1285.3,1697.8 1286.4,1696.5 1287.8,1696.9 1288.9,1695.9 1290.1,1695.4 1290.9,1693.5 1292.1,1692.4 1292.9,1690.1 1295.6,1693.5 1297.4,1694 1298.6,1693.3 1299.3,1690.6 1301.6,1693.2 1302.4,1691.3 1303.6,1690.8 1305.3,1691.4 1306.6,1690.7 1307.4,1688.4 1308.9,1688.6 1309.9,1687.3 1311.3,1688 1312.4,1687.7 1313.9,1688 1314.8,1686.5 1316.4,1687.6 1317.4,1687.3 1318.6,1686.4 1319.4,1684.2 1320.6,1683.6 1321.3,1681.5 1323.7,1684.1 1324.2,1682.1 1325.8,1681.6 1327.2,1683.4 1328.3,1682.4 1328.2,1680 1329.2,1679 1329.2,1680.9 1330.2,1683.9 1330.2,1685.9 1331.2,1684.9 1331.2,1682.7 1332.3,1681.9 1332.3,1679.7 1334.7,1683.3 1334.9,1681.3 1336,1680.4 1336.2,1678.4 1338.7,1681.4 1339.2,1680.3 1340.7,1680.2 1341,1678.9 1342,1678.1 1342.2,1676.7 1344.8,1678.3 1345.2,1676.9 1346.7,1676.4 1346.9,1674.8 1348.1,1674 1348.3,1672.3 1349.2,1671.2 1349.4,1669.2 1350.2,1668.1 1350.3,1666 1351.1,1664.7 1350.9,1662.1 1351.8,1661.1 1351.6,1658.4 1352.3,1657.1 1352.3,1654.7 1353,1653.6 1352.8,1651.3 1353.5,1650.1 1353.2,1647.8 1354,1646.8 1353.7,1644.2 1354.4,1643.2 1354.3,1641 1355.7,1641.2 1356.3,1640.3 1357.9,1640.5 1358.8,1639.6 1360.4,1640 1361.4,1639.3 1362.5,1638.2 1363.1,1635.9 1364.2,1635.1 1364.7,1632.7 1365.9,1632.1 1366.3,1629.6 1367.4,1628.7 1368.1,1626.8 1369.1,1625.8 1369.5,1623.7 1370.6,1623.3 1371.9,1628.5 1373.1,1635.2 1373.1,1631.1 1373.9,1628.9 1373.8,1624.4 1374.9,1624.3 1375.3,1621.9 1377.1,1632.2 1378.4,1639 1380.1,1643.3 1381.5,1640.1 1382.9,1639.2 1383.5,1641.6 1383.6,1645.4 1384.2,1647.8 1384.4,1651.5 1386.2,1645.7 1386.3,1649.6 1387.2,1651.2 1387.3,1655.1 1388.4,1656.1 1388.9,1659.2 1389.9,1660 1390.4,1662.3 1392.6,1657.2 1393.8,1652.4 1394.7,1653.5 1394.8,1656 1395.6,1657.3 1396.3,1659.2 1397.7,1659.6 1399.3,1655.4 1401.2,1655.8 1401.9,1657.1 1403.2,1657.2 1404.8,1654.2 1406.7,1652 1407.9,1648.5 1408.8,1651 1409.5,1655.3 1410.6,1655.7 1411.4,1657.5 1412.5,1657.5 1413.5,1659.1 1415,1661.8 1416.5,1656 1418.4,1656.4 1420.7,1660.5 1422.5,1662.1 1423.6,1660.4 1424.4,1657.1 1425.6,1655.1 1426.4,1651.3 1427.4,1649.3 1428.4,1658.5 1430,1661.5 1430.7,1656.6 1431.6,1653.5 1433.4,1653.3 1434.6,1652.2 1435.4,1649.4 1436.5,1651 1437.5,1650.9 1439.1,1654.2 1439.7,1649.5 1440.6,1646.7 1441.4,1644.1 1442.6,1643.5 1443.8,1653.2 1444.9,1652.3 1445.1,1649 1446.1,1647.7 1446.9,1644.9 1448.1,1643.6 1449.9,1651 1450.8,1650 1451.2,1647.5 1452.2,1646.8 1454.4,1648.3 1455.5,1648 1456.1,1645.5 1457.2,1645.1 1459.8,1651.4 1460.7,1650 1461.1,1647 1462,1645.9 1462.3,1642.3 1465.1,1649 1466.1,1647.3 1467.6,1647.5 1468.7,1647.1 1470.1,1648.5 1471,1646.4 1472,1646.9 1472.3,1641.9 1473.1,1639.1 1473.4,1634.5 1475.1,1644 1476.9,1649.1 1477.6,1646.7 1477.8,1643 1478.7,1641.1 1478.9,1637.1 1481.2,1640.5 1481.9,1638.4 1483.2,1638.1 1483.8,1636.3 1485.2,1636.9 1486.8,1638.9 1489.1,1640.5 1489.9,1638.5 1491.1,1638.6 1493,1639.2 1493.8,1637.5 1494.2,1634.4 1495.1,1632.9 1495.8,1629.3 1497.7,1640.1 1499.4,1642.6 1500.3,1641.7 1500.7,1638.9 1501.7,1638.1 1502.1,1633.8 1503,1631.7 1503.4,1627.6 1505.6,1632.3 1506,1629.9 1507,1629.2 1507.4,1626.7 1509.6,1629.2 1510.4,1626.9 1511.6,1626.8 1512.7,1624.7 1514.1,1624.4 1516,1633.4 1517.6,1638.5 1518.4,1636.1 1519.6,1635.4 1520.4,1634.2 1521.6,1634.9 1522.5,1632.9 1523.6,1632.4 1524.4,1631 1525.6,1631.6 1526.2,1629.5 1527.3,1628.8 1527.8,1626.6 1529.2,1627 1529.8,1625.8 1531.4,1627.7 1532.4,1627.5 1534.7,1629.1 1535,1627.2 1536.1,1626.7 1536.3,1624.7 1538.6,1631.4 1539,1629.3 1540.1,1628.3 1540.3,1625.9 1541.7,1624.9 1542.3,1621.9 1543.1,1630.3 1543.4,1637.1 1544.2,1635.1 1544.3,1631.2 1545.1,1629.1 1545.8,1626.9 1547.2,1626.8 1548.9,1626.8 1550.7,1632.9 1550.5,1630.6 1551.4,1629.6 1551,1627.1 1551.8,1626.2 1551.5,1623.9 1552.3,1622.9 1552.1,1620.6 1552.9,1619.6 1552.8,1617.4 1553.8,1616.6 1554.8,1621 1555.5,1619.6 1555.4,1617.1 1556.1,1615.7 1556,1613.2 1556.7,1611.9 1556.5,1609.1 1557.2,1607.8 1557.1,1609.8 1557.9,1613.3 1557.6,1615.1 1558.4,1618.7 1558.1,1620.4 1558.8,1623.8 1558.8,1625.9 1559.6,1622.2 1559.9,1616.2 1560.6,1612.5 1561,1607.2 1561.4,1605.7 1561.2,1602.9 1561.9,1601.4 1561.7,1598.7 1562.5,1597.4 1562.2,1594.6 1564.1,1594 1564.2,1596.3 1565,1599.7 1564.8,1601.7 1565.6,1605.2 1565.5,1602.7 1566.2,1601.5 1565.9,1598.7 1566.7,1597.6 1566.3,1594.7 1567.1,1593.6 1566.7,1590.9 1568,1594.7 1568.2,1597 1569.8,1601.7 1570.4,1604.8 1571.6,1610 1572.4,1614.3 1574.7,1615.6 1574.6,1611.5 1575.3,1609.7 1575.4,1605.9 1576,1603.9 1576,1599.8 1576.6,1597.8 1576.5,1600 1577.1,1603.7 1576.9,1605.9 1577.6,1609.6 1577.3,1611.6 1578,1615.5 1577.7,1617.5 1578.3,1616.2 1578,1613.7 1578.5,1612.2 1578,1609.4 1578.7,1608.1 1578.3,1605.5 1578.8,1604 1578.3,1601.2 1579,1600 1578.5,1597.1 1579.2,1596 1578.8,1593.2 1579.4,1591.9 1579,1589.2 1579.6,1587.8 1579.1,1585 1579.6,1583.5 1579.2,1580.9 1581.2,1584.1 1582.8,1589.7 1584.1,1589.1 1584.9,1587.2 1587.1,1590.2 1586.9,1592.6 1587.5,1596.7 1587.2,1598.9 1587.6,1602.6 1587.4,1605 1587.9,1609 1587.5,1610.9 1588,1614.9 1587.9,1617.4 1588.3,1621.2 1587.9,1623.3 1588.4,1627.1 1588.2,1629.6 1588.7,1633.4 1588.4,1628.9 1588.8,1626.2 1588.7,1622.1 1589.1,1619.5 1589,1615.2 1589.3,1612.3 1589.2,1608.1 1589.6,1605.5 1589.3,1600.9 1589.8,1598.4 1589.6,1593.9 1590.1,1591.6 1589.9,1587.2 1591.3,1588.4 1592.5,1587.3 1593.9,1589 1594.9,1588.1 1596.2,1590 1597.5,1589.5 1599.6,1598 1601.3,1606.8 1603.2,1614.4 1604,1606.3 1605,1600.3 1606,1593.3 1607,1588.1 1609.2,1576.9 1609.6,1579.7 1610.7,1580.8 1610.7,1584.6 1611.4,1586.5 1611.5,1589.9 1612.1,1592.1 1612.3,1595.3 1612.9,1597 1613,1600.4 1613.6,1602.3 1614.2,1593.7 1615.2,1583.9 1616.5,1600.3 1616.6,1596.2 1617.3,1594.1 1617.2,1589.7 1617.8,1587.5 1617.9,1583.5 1618.6,1588.9 1619.4,1592.6 1620,1597.8 1622,1584.6 1622.6,1590.4 1623.4,1594.7 1623.9,1600.7 1626,1588.2 1628,1602.9 1628.3,1599.4 1629.1,1597.7 1629.3,1594.4 1630.1,1593 1631.9,1603.3 1634,1608 1635,1608.3 1636,1610.4 1637.1,1610.9 1637.9,1612.8 1640.1,1607 1642.1,1609.3 1644.1,1594.5 1645,1597.4 1646,1598.2 1647.9,1593.8 1649,1591.4 1650,1591.6 1652,1599.5 1653.1,1596.9 1654,1592.2 1655.6,1595.2 1655.9,1590.6 1656.6,1587.9 1656.9,1583.1 1658.6,1593.2 1659.9,1593.2 1662.1,1600.3 1662.5,1598.1 1663.6,1597.2 1663.9,1594.7 1665.2,1595.3 1665.8,1594.1 1666.9,1593.8 1667.3,1592.1 1668.4,1590.2 1668.9,1586.7 1670.8,1595.6 1671.8,1597.4 1673.1,1596.4 1673.8,1593.1 1675.2,1593.9 1675.8,1592.5 1677.2,1592.1 1677.8,1589.3 1678.9,1588.7 1679.4,1585.8 1681.6,1589.7 1682.3,1587.7 1683.7,1587.5 1685.3,1587.6 1686.6,1587.5 1687.3,1585.7 1689.7,1587.4 1689.7,1585.1 1690.8,1584.6 1690.9,1582.5 1691.8,1581.7 1692.7,1584.6 1694.3,1588.5 1694.8,1591 1696.2,1590.3 1696.8,1588.3 1697.7,1587 1697.8,1584.3 1698.7,1582.9 1700.2,1581.5 1701.6,1581.2 1702.2,1579.6 1703.8,1579.5 1704.2,1577.5 1705.4,1577.3 1705.5,1575.6 1706.8,1575.5 1708.3,1576 1709.5,1575.4 1709.5,1573.3 1710.8,1572.9 1712.2,1571.6 1713.3,1570.9 1713.2,1568.8 1714.1,1567.9 1714.3,1566.1 1716.9,1569.9 1716.9,1567.6 1718.2,1566.9 1718.2,1564.6 1719.1,1563.7 1719,1561.6 1719.8,1560.7 1719.7,1558.5 1720.4,1557.4 1720.2,1555.1 1721.3,1554.5 1721.5,1552.8 1722.8,1552.3 1722.7,1553.9 1723.6,1556.4 1723.3,1558 1724.4,1560.7 1724.1,1562.2 1725.1,1561.4 1724.9,1559.5 1725.7,1558.5 1725.4,1556.6 1726.1,1555.5 1726,1553.8 1726.8,1552.8 1726.9,1554.8 1728.2,1557.8 1728.3,1559.8 1730.2,1564 1730,1561.8 1730.7,1560.7 1730.6,1558.7 1731.3,1557.5 1731.2,1555.5 1732,1554.4 1731.7,1552.2 1732.9,1551.5 1732.7,1549.5 1733.8,1548.6 1733.8,1546.8 1734.5,1549.2 1734.4,1550.7 1735.4,1553.3 1735.1,1554.7 1736.3,1554 1736.3,1552.3 1737.2,1551.4 1737.3,1549.8 1738.2,1549.1 1738.3,1547.5 1739.2,1546.8 1739.1,1545.2 1740.9,1545.3 1741.2,1544.3 1742.2,1543.3 1742.1,1541.3 1743.2,1540.4 1743.3,1538.6 1744.6,1537.8 1744.6,1535.9 1745.7,1538.4 1745.7,1540.1 1746.5,1542.5 1746.2,1544 1747.4,1546.5 1747.1,1544.6 1748,1543.6 1747.8,1541.8 1748.6,1540.6 1748.4,1538.8 1749.2,1537.7 1749.1,1535.7 1750,1534.7 1749.9,1532.7 1750.8,1531.6 1750.7,1529.8 1751.7,1529 1751.5,1527.3 1752.4,1526.5 1752.1,1524.9 1752.9,1523.9 1752.7,1522.2 1755.4,1524 1756.6,1524.7 1757.7,1523.9 1757.8,1522.4 1758.7,1521.4 1758.8,1519.9 1761.2,1519.6 1761.3,1518.3 1762.4,1517.5 1762.2,1515.9 1763.3,1515.2 1763.1,1513.6 1764,1512.7 1764,1511.2 1764.8,1510.1 1764.7,1508.6 1767.2,1511.4 1767.1,1509.8 1768.1,1509 1768,1507.4 1768.8,1506.3 1768.6,1504.8 1769.5,1503.8 1769.3,1502.1 1769.8,1500.9 1769.6,1499.3 1770.3,1498.1 1770,1496.5 1770.8,1495.4 1770.4,1493.7 1771.2,1492.6 1771.5,1494.1 1772.5,1495.9 1772.7,1497.3 1773.5,1496.4 1773.2,1494.8 1773.9,1493.8 1773.7,1492.4 1774.4,1491.3 1774.3,1489.9 1774.9,1488.8 1774.9,1487.4 1775.9,1486.3 1776,1484.8 1777.3,1483.9 1777.7,1483 1779.2,1482.6 1779.7,1481.7 1781.3,1481.4 1781,1479.8 1781.9,1478.9 1781.7,1477.4 1782.4,1476.4 1782.3,1474.9 1782.9,1473.8 1782.9,1472.4 1784.3,1474.5 1784.7,1476.1 1785.5,1475.1 1785.3,1473.7 1785.9,1472.6 1785.6,1471.1 1786.4,1470.1 1786.1,1468.6 1786.9,1467.7 1786.5,1466.1 1787.3,1465.1 1787.6,1463.6 1789.3,1462.7 1789.7,1464.2 1791.3,1466.4 1791.2,1465.1 1792.3,1464.2 1792.2,1462.9 1793.3,1462.1 1793.7,1460.9 1795.1,1460.1 1795.1,1458.7 1795.8,1457.6 1795.6,1456.2 1796.2,1455.1 1796.1,1453.7 1796.6,1452.5 1796.4,1451.1 1797,1449.9 1796.7,1448.4 1797.1,1447.2 1796.9,1445.8 1797.4,1444.6 1796.9,1443 1797.5,1441.9 1797.2,1440.4 1797.7,1439.2 1797.4,1437.8 1797.9,1436.6 1797.5,1435.1 1798.2,1433.9 1797.8,1432.4 1798.5,1434.1 1798.3,1435.4 1799.1,1437.1 1799,1438.4 1799.8,1440.1 1799.5,1438.7 1800.3,1437.6 1800.1,1436.2 1800.8,1435.1 1800.6,1433.7 1801.2,1432.6 1801.2,1431.2 1801.9,1430.1 1801.7,1428.7 1802.5,1427.6 1802.3,1426.2 1803.2,1425.1 1803,1423.7 1803.7,1422.6 1803.5,1421.1 1804.3,1420 1804.3,1418.7 1805.2,1420.4 1805.2,1421.8 1806.3,1423.5 1806.3,1424.9 1807.1,1426.7 1806.8,1428.1 1807.7,1429.9 1807.5,1431.3 1808.2,1433.1 1807.8,1431.6 1808.3,1430.3 1808.1,1428.8 1808.6,1427.6 1808.4,1426.1 1808.9,1424.9 1808.5,1423.4 1809,1422.1 1808.6,1420.6 1809.3,1419.4 1808.8,1417.9 1809.4,1416.7 1809.1,1415.2 1809.7,1414 1809.3,1412.5 1810.1,1411.3 1810.2,1410 1811,1408.8 1810.9,1407.4 1811.7,1406.3 1811.9,1404.9 1813,1403.8 1813.2,1402.4 1814,1401.3 1813.6,1399.9 1814.3,1398.8 1814,1397.4 1814.6,1396.3 1814.4,1394.9 1815.1,1393.8 1814.8,1392.4 1815.4,1394 1815.2,1395.2 1815.7,1396.7 1815.4,1398 1816.1,1399.5 1815.7,1400.8 1816.4,1402.3 1816.2,1403.6 1816.6,1405 1816.4,1403.7 1817.1,1402.6 1816.9,1401.2 1817.4,1400 1817.2,1398.7 1817.9,1397.6 1817.6,1396.2 1818.2,1395.1 1818,1393.7 1818.7,1392.6 1818.5,1391.2 1819.2,1390 1819.1,1388.7 1819.7,1387.6 1819.5,1386.2 1820.2,1385.1 1820.5,1386.2 1821.6,1387.5 1821.5,1386.1 1821.8,1384.9 1821.5,1383.4 1822.1,1382.2 1821.7,1380.8 1822.3,1379.5 1821.9,1378.1 1822.5,1376.9 1822.2,1375.5 1822.7,1374.2 1822.4,1372.8 1823,1371.6 1822.6,1370.1 1823.1,1368.9 1822.7,1367.4 1823.8,1369.2 1823.9,1370.8 1824.7,1372.6 1824.4,1371.1 1824.9,1369.8 1824.8,1368.4 1825.3,1367.2 1825.2,1365.7 1825.6,1364.5 1825.4,1363 1825.9,1361.8 1825.6,1360.3 1826.3,1359.1 1825.9,1357.6 1826.5,1356.4 1826.3,1355 1827.4,1356.3 1827.9,1357.5 1828.4,1356.3 1828.2,1355 1828.7,1353.8 1828.4,1352.4 1828.9,1351.3 1828.7,1350 1829.3,1348.8 1829,1347.5 1829.5,1346.3 1829.3,1345 1830.7,1343.8 1831.4,1342.5 1831.7,1341.2 1831.6,1339.8 1832,1338.5 1831.8,1337 1832.3,1335.8 1832,1334.3 1832.6,1333.1 1832.3,1331.6 1832.7,1330.3 1832.5,1328.9 1833.1,1327.7 1832.8,1326.2 1833.2,1325 1833,1323.5 1833.4,1322.3 1833.2,1320.9 1833.7,1319.7 1833.3,1318.2 1833.9,1317 1833.5,1315.6 1834,1314.3 1833.8,1312.9 1834.3,1311.7 1833.9,1310.3 1834.4,1309 1834,1307.6 1834.5,1306.4 1834.2,1304.9 1834.7,1306.4 1834.4,1307.6 1834.9,1309.1 1834.5,1310.3 1834.9,1311.8 1834.6,1313 1835.1,1314.5 1834.8,1315.7 1835.2,1317.2 1834.9,1318.4 1835.3,1319.8 1835,1321.1 1835.5,1322.6 1835.2,1323.8 1835.6,1325.2 1835.2,1326.5 1835.7,1327.9 1835.3,1329.2 1835.7,1330.6 1835.5,1331.9 1835.9,1333.3 1835.6,1334.6 1836.1,1336 1835.7,1337.3 1836.1,1338.7 1835.7,1339.9 1836.2,1338.7 1836,1337.3 1836.3,1336.1 1836,1334.7 1836.4,1333.4 1836.1,1332 1836.5,1330.8 1836.1,1329.4 1836.6,1328.2 1836.1,1326.7 1836.6,1325.5 1836.3,1324.1 1836.8,1322.9 1836.4,1321.5 1836.8,1320.2 1836.4,1318.8 1837,1317.6 1836.7,1316.2 1837,1314.9 1836.7,1313.5 1837,1312.3 1836.7,1310.9 1837.1,1309.6 1836.8,1308.2 1837.3,1307 1836.9,1305.6 1837.3,1304.4 1837,1302.9 1837.5,1301.7 1837.1,1300.3 1837.6,1299.1 1837.1,1297.6 1837.6,1296.4 1837.3,1295 1837.6,1293.8 1837.7,1295.3 1838.4,1296.9 1838.3,1298.4 1839.3,1300.1 1839,1301.3 1839.7,1302.9 1839.4,1304.2 1839.9,1305.7 1839.7,1307 1840.3,1308.5 1840.2,1309.8 1840.8,1311.3 1840.3,1309.8 1840.8,1308.6 1840.6,1307.1 1840.9,1305.9 1840.7,1304.4 1841.1,1303.2 1840.7,1301.7 1841.2,1300.4 1840.8,1298.9 1841.4,1297.7 1841,1296.2 1841.4,1295 1841.2,1293.5 1841.7,1292.3 1841.3,1290.8 1841.7,1289.6 1841.5,1288.1 1841.8,1286.8 1841.5,1285.4 1842.1,1284.2 1841.7,1282.7 1842.1,1281.4 1841.8,1279.9 1842.3,1281.4 1842,1282.7 1842.4,1284.2 1842.2,1285.5 1842.5,1287 1842.4,1288.3 1842.7,1289.7 1842.5,1291 1842.9,1292.5 1842.7,1293.8 1843,1295.2 1842.7,1296.5 1843.2,1298 1842.9,1299.3 1843.3,1300.8 1843,1302 1843.6,1303.6 1843.3,1304.8 1843.8,1306.3 1843.4,1304.9 1843.7,1303.6 1843.4,1302.2 1843.9,1301 1843.6,1299.5 1844.1,1298.3 1843.6,1296.9 1844.1,1295.7 1843.8,1294.2 1844.1,1293 1843.8,1291.5 1844.3,1290.3 1844,1288.9 1844.4,1287.7 1844.1,1286.3 1844.4,1285 1844.1,1283.6 1844.5,1282.3 1844.3,1280.9 1844.6,1279.7 1844.4,1278.3 1844.8,1277 1844.4,1275.6 1844.8,1274.4 1844.6,1272.9 1844.9,1271.7 1844.7,1270.3 1845.1,1269.1 1844.7,1267.6 1845.1,1266.4 1844.7,1264.9 1845.4,1266.4 1845.1,1267.7 1845.5,1269.1 1845.3,1270.4 1845.9,1271.9 1845.6,1273.1 1846.1,1274.6 1845.8,1275.8 1846.2,1277.2 1846,1278.5 1846.5,1279.9 1846.3,1281.2 1846.9,1280 1846.5,1278.5 1847.1,1277.3 1846.8,1275.8 1847.3,1274.6 1847.1,1273.1 1847.6,1271.9 1847.2,1270.4 1847.7,1269.2 1847.5,1267.7 1848,1266.5 1847.7,1265 1848.2,1263.8 1847.9,1265.1 1848.8,1266.8 1848.5,1268 1849.2,1269.6 1849,1271 1849.6,1272.5 1849.4,1271.1 1850,1269.9 1849.7,1268.4 1850.2,1267.2 1849.8,1265.7 1850.4,1264.5 1850.1,1263 1850.6,1261.8 1850.4,1260.3 1850.8,1259.1 1850.6,1257.6 1851.1,1256.4 1850.7,1254.9 1851.5,1253.8 1851.3,1252.4 1851.9,1251.3 1851.7,1249.9 1852.6,1248.9 1852.3,1247.4 1852.8,1246.2 1852.7,1244.8 1853.1,1243.5 1852.8,1242 1853.5,1240.8 1853.2,1239.4 1853.7,1238.1 1853.6,1236.7 1854.2,1235.5 1853.9,1234 1854.5,1232.8 1854.1,1231.3 1854.8,1230.1 1854.5,1228.6 1854.9,1227.4 1854.6,1225.9 1855.3,1224.8 1854.8,1223.2 1855.5,1222.1 1855.2,1220.6 1855.7,1219.4 1855.4,1217.9 1856,1216.7 1855.8,1215.3 1856.3,1214.1 1855.9,1212.5 1856.6,1211.4 1856.2,1209.9"/>
<line class="ti" x1="1027.9" y1="1820.5" x2="1041.4" y2="1820.5"/>
<line class="ti" x1="1027.9" y1="1738.9" x2="1041.4" y2="1738.9"/>
<line class="ti" x1="1027.9" y1="1657.4" x2="1041.4" y2="1657.4"/>
<line class="ti" x1="1027.9" y1="1575.8" x2="1041.4" y2="1575.8"/>
<line class="ti" x1="1027.9" y1="1494.3" x2="1041.4" y2="1494.3"/>
<line class="ti" x1="1027.9" y1="1412.7" x2="1041.4" y2="1412.7"/>
<line class="ti" x1="1027.9" y1="1331.2" x2="1041.4" y2="1331.2"/>
<line class="ti" x1="1027.9" y1="1249.6" x2="1041.4" y2="1249.6"/>
<line class="ti" x1="1198.8" y1="1820.5" x2="1198.8" y2="1834"/>
<text class="tk" text-anchor="middle" x="1198.8" y="1875.5">1.0</text>
<line class="ti" x1="1423.7" y1="1820.5" x2="1423.7" y2="1834"/>
<text class="tk" text-anchor="middle" x="1423.7" y="1875.5">1.5</text>
<line class="ti" x1="1648.6" y1="1820.5" x2="1648.6" y2="1834"/>
<text class="tk" text-anchor="middle" x="1648.6" y="1875.5">2.0</text>
<line class="ti" x1="1873.5" y1="1820.5" x2="1873.5" y2="1834"/>
<text class="tk" text-anchor="middle" x="1873.5" y="1875.5">2.5</text>
<rect class="sp" x="1041.4" y="1249.6" width="832.1" height="570.9"/>
<rect class="lgb" x="1060.3" y="1268.5" width="561.1" height="70" rx="6" ry="6"/>
<line class="lgl" x1="1068.3" y1="1302.3" x2="1115.5" y2="1302.3"/>
<text class="lg" x="1123.8" y="1314.9">1996 FG3 (04-25-2022)</text>
<text class="lb xl" text-anchor="middle" x="1457.7" y="1935">Wavelength (<tspan class="it">μm</tspan>)</text>
</g>
<g>
<polyline class="cv" style="stroke-width:4.0" clip-path="url(#c6)" points="162.5,2431.2 163.6,2430.3 165.1,2430.3 167.9,2434.3 169,2433.2 169.6,2430.3 170.6,2429 172.4,2429.7 173.3,2428.3 173.6,2425.3 174.6,2424.1 176.4,2426 178.6,2427.7 179,2425.5 180,2424.8 180.4,2422.7 182.7,2425.1 183.3,2422.8 184.7,2422.5 185.8,2425.8 186.8,2424.6 187.1,2421.9 188.2,2421.1 188.4,2418.1 189.4,2417.1 189.8,2414.6 191.5,2414.9 192.3,2413.3 193.5,2413.3 194,2411.8 195.2,2411.6 196.8,2414.1 198.2,2413.6 198.8,2411.6 199.9,2410.9 200.1,2408.6 201.2,2407.8 202.7,2410.7 203.8,2410 204.2,2407.5 205.2,2406.8 206.8,2411.5 207.8,2410.5 208.2,2407.8 209.2,2406.8 210.9,2407.7 212.1,2407.8 212.9,2406.7 215.1,2409.7 215.6,2407.9 216.9,2407.9 217.4,2406 218.6,2404 219.4,2400.8 221.7,2406.8 222.4,2404.5 223.6,2404 224.6,2402.3 226.1,2402.4 226.9,2400.5 228.1,2399.9 228.9,2397.8 230.1,2397.3 231.9,2400.9 233.3,2401 234.4,2399.6 235.8,2400.7 236.9,2400.2 238.3,2400.4 239.4,2398.9 240.8,2399.5 241.9,2398.3 243.3,2399.9 244.4,2400.1 245.9,2401.7 246.9,2401.6 248.1,2399.4 248.9,2395.9 250.4,2397.3 251.4,2397 252.4,2396.5 253.1,2394.7 254.1,2394 256.4,2395.7 257.8,2396.2 258.9,2394.8 260.4,2396.9 261.4,2396.6 262.9,2398.1 263.9,2397.7 265,2397.3 265.5,2395.1 266.6,2395 267.7,2393.5 269.2,2393.5 270.9,2395 271.8,2394.4 272.2,2392.4 273.2,2391.8 274.2,2389.8 275.7,2389.3 277.4,2392.2 278.7,2392.4 279.3,2390.7 280.4,2389.9 281.1,2387.5 282.1,2386.6 283.9,2390 284.8,2389.4 285.2,2386.8 286.2,2386.1 287.8,2388.2 289.2,2387.2 289.9,2384.2 292.7,2386.9 293.2,2384.6 294.3,2384 294.8,2382 296.4,2383.5 297.3,2383.2 298.5,2383.1 299,2380.8 300.1,2380.3 300.9,2379 302.1,2379.1 303.8,2381.9 305.3,2382.2 306.3,2380.7 307.9,2380.6 308.9,2378.3 310.3,2380 311.4,2380.2 312.9,2379.4 313.9,2377.2 315.3,2378.4 316.4,2378.2 317.8,2379.7 318.9,2379.6 320.3,2380.1 321.4,2379.1 322.9,2378.5 323.9,2375.8 325.1,2375.4 325.8,2373.1 328.1,2376.5 328.9,2373.9 330.1,2373 331.9,2375.8 333.4,2376.1 334.4,2374.5 335.8,2375 336.9,2374 338.4,2374.7 339.4,2373.5 340.9,2373.7 341.9,2372.1 344.6,2375.5 345.2,2373 346.3,2372.6 346.9,2370.2 348.1,2369.4 348.9,2367.1 351.1,2371.7 351.7,2369 352.8,2368.3 353.4,2366 354.8,2367.5 355.9,2367.6 357.1,2367.1 357.9,2365.3 359.1,2364.9 359.8,2363.2 362.2,2369.3 363.1,2367.1 364.7,2366.9 365.2,2364.7 366.3,2364.4 366.9,2362.7 369.1,2367.3 370.1,2365.5 371.7,2365.5 372.7,2364.1 374.1,2364.1 375,2362.3 376.7,2362.5 377.6,2361.3 379.2,2361.8 380.2,2360.2 381.6,2359.8 382.7,2359.5 384.1,2360.3 384.6,2357.4 385.5,2355.9 385.9,2352.6 388.2,2358.5 388.8,2356.6 390.2,2356.8 391,2356 392.7,2357.4 393.6,2355.3 395.2,2355.6 395.7,2353.6 396.8,2353.3 397.4,2351.7 398.7,2351.4 399.3,2349.6 401.7,2355.5 401.8,2352.2 402.7,2351.2 402.9,2348.2 403.7,2346.8 405.4,2347.2 407.7,2351 408.1,2348.1 409.3,2347.1 409.8,2344.6 411.1,2344.1 411.8,2341.9 414.2,2348.5 414.8,2345.9 416.1,2345.4 416.9,2344 418.2,2344.2 418.8,2341.2 420.1,2340.3 421.4,2346.8 423.7,2351.9 423.8,2348.5 424.7,2347.5 424.8,2344.1 425.7,2343 426.1,2340.5 427.2,2340.1 428.8,2345.7 430.1,2345.4 430.9,2343.5 432.2,2343 432.8,2340.7 434.2,2340.4 434.8,2338.4 437.7,2339.9 438.7,2338.4 440.2,2338.6 441.1,2336.9 442.6,2337.4 443.6,2337.3 445.2,2339.4 445.7,2337.1 446.8,2336.5 447.3,2334.4 448.9,2334.6 449.9,2332.5 451.4,2333.8 452.3,2333.3 454,2333.4 454.8,2331.5 457.2,2335 457.5,2332.3 458.5,2331.6 458.8,2329.1 460.2,2329 460.8,2327 461.6,2325.3 461.9,2322.2 462.6,2320.5 463,2317.4 463.8,2315.8 464.9,2324.7 466.6,2331.7 467.9,2329.2 468.8,2326.3 469.3,2321.9 471.1,2333.3 472.4,2330.7 473.3,2328.3 473.7,2324.1 474.7,2321.8 476.4,2324.4 478.6,2333.4 478.9,2329.2 479.7,2326.6 479.8,2321.9 481.1,2321.6 481.9,2319.6 484.2,2326.9 484.5,2324 485.4,2322.7 485.9,2320.1 487.1,2320.3 487.9,2319 490.1,2324.2 492,2326.7 493.4,2326.1 494.4,2323.2 495.9,2324.9 496.9,2324.6 497.9,2324 498.6,2321.6 499.6,2320.9 501.8,2323.2 503.4,2323.6 504.4,2321.9 505.4,2320.9 506,2318.2 507.1,2317.4 508.1,2316.1 509.6,2316.8 510.7,2315.2 512.1,2315.5 512.9,2312.7 514.1,2311.6 515.9,2316.4 516.9,2314.1 517.4,2309.7 518.3,2309 518.7,2306.7 520.2,2316.8 520.8,2313.6 522.2,2312.6 523.8,2317 525.2,2316.5 525.8,2313.9 528.2,2316.8 528.5,2314 529.5,2313.3 529.9,2311 531.1,2310.8 531.8,2309 534.2,2312.7 535.8,2312.3 537.1,2312.6 537.9,2311 540.2,2316.9 540.5,2313 541.4,2311.8 541.9,2308.2 543.1,2308.6 543.9,2306.6 546,2308.3 546.9,2305.6 548,2304.8 549.8,2310.6 550.8,2309.8 551.1,2306.4 552.1,2305.4 553.9,2307.6 555.1,2306.9 555.9,2304.6 557.1,2305 557.8,2303.9 559.4,2304.4 560.4,2302.6 561.4,2302.3 562,2300.5 563.1,2300.4 565.4,2303.3 566.9,2303.3 567.8,2301.3 569.4,2303 570.3,2302.5 571.9,2302.6 572.9,2300.8 575.1,2306.6 575.6,2303.3 576.5,2302 576.9,2298.2 578.1,2297.7 578.9,2294.9 581.1,2299.9 581.4,2296.8 582.2,2295.4 582.3,2291.9 584.1,2303.6 584.5,2299.6 585.5,2298.4 585.9,2294.3 587.1,2294.7 587.8,2293.1 589.1,2293.7 589.9,2292.5 591.6,2295.3 592.9,2300.8 593.8,2299.3 594.2,2295.8 595.2,2294.3 596.9,2295.2 598.1,2294.4 598.9,2292.1 601.2,2294.3 601.9,2292.4 603.2,2292.6 604.8,2292.4 606.7,2297.7 607.2,2293.1 608.1,2290.4 608.7,2288.2 609.7,2287.6 610.9,2293.3 613.1,2295.3 613.8,2292.1 615.1,2290.9 615.5,2288.2 616.4,2287.2 616.9,2284.5 619.2,2287.7 620.3,2290.7 621.3,2289.6 621.6,2286.5 622.7,2285.5 624.4,2285.9 625.6,2285.6 626.3,2283.2 628.1,2290.3 628.9,2286.7 630.1,2284.9 631.8,2286.8 633.1,2285.9 633.9,2283.4 636.2,2286.8 636.7,2281.7 637.6,2278.3 639.4,2280.8 641.7,2283.2 642.3,2280.8 643.7,2280.6 644.4,2278.3 645.6,2277.8 647.3,2280.7 648.3,2280.1 648.6,2277.8 649.7,2277.5 650.9,2282.2 652.1,2281 652.9,2278.3 655.1,2281.5 655.9,2279.9 657.1,2280.1 658.9,2279.5 659.8,2278.7 660.2,2276.4 661.1,2275.3 662.8,2275.6 664.7,2283 666,2273.1 667.5,2272.3 668.9,2279.6 669.7,2278.8 669.7,2276.4 670.7,2275.6 670.9,2273.5 673.3,2275.1 673.6,2271.8 674.6,2270.3 674.6,2266.7 675.3,2265 675.3,2261.5 675.9,2259.6 675.9,2256 676.7,2262.1 676.8,2266.6 677.6,2272.8 677.7,2268.2 678.2,2264.9 678,2259.6 678.6,2256.6 678.5,2260.1 679,2265.7 678.8,2269.2 679.2,2274.5 679,2277.9 679.5,2283.5 679.4,2287.1 679.9,2285.1 679.9,2281.3 680.4,2279.2 680.3,2275.3 681,2273.5 680.9,2269.8 681.9,2268.5 682.3,2265.7 684.2,2275.4 685.3,2277.1 686,2275.3 686.2,2272.2 686.7,2270.3 686.9,2267.1 687.7,2265.2 687.9,2261.2 688.6,2259.1 688.8,2264.4 689.4,2271 689.5,2276 690.1,2282.8 690,2278 690.6,2275.1 690.4,2270 691,2267.1 690.9,2262.2 691.5,2259.6 691.4,2254.6 691.9,2260.3 691.9,2264.4 692.6,2270.6 692.5,2274.5 693.2,2280.6 694.3,2284.5 695.2,2282.3 695.3,2277.8 696.1,2275.4 696.1,2270.5 696.6,2267.3 696.5,2262 697,2258.9 696.9,2253.9 697.4,2250.8 697.4,2245.8 698.4,2245.7 698.8,2243.9 700,2251.7 700.4,2257.2 701.2,2255.9 701.3,2252.8 702.2,2251.8 702.7,2256.6 703.7,2263.1 704,2259.3 704.9,2258.1 705.4,2254.2 706.4,2260.7 706.8,2265.1 707.5,2263.9 707.7,2261.5 708.5,2260.6 708.3,2257.6 709.2,2256.7 710.9,2262 711.8,2259.7 712.3,2255.9 713.1,2253.4 714.8,2259.4 717,2261.7 717.8,2258.7 719.1,2257.9 720.9,2259.6 721.9,2258.7 722.1,2256.2 723.2,2255.4 724.8,2260.2 726,2257.8 727,2253.4 728,2254.9 729,2254.6 730.1,2251.6 730.9,2247 732.6,2252.8 733.2,2250.3 734.1,2249.3 734.6,2243.5 735.6,2239.9 736.1,2247.5 737.1,2256.7 737.6,2253.9 738.6,2253 740.4,2257.2 741.3,2255.2 741.7,2251.3 742.6,2249.1 744.4,2260.1 745.1,2258.8 745.4,2256.2 746.1,2254.8 746.4,2252.2 747.7,2251.2 748.4,2248.5 750.7,2250.6 750.9,2247.2 751.7,2245.9 751.9,2242.5 752.6,2240.8 754.3,2248.1 756.7,2255 756.8,2250.9 757.6,2248.9 757.8,2244.8 758.7,2243.1 759.8,2252 760.8,2250.4 761.1,2246.9 762.2,2245.5 763.9,2251.6 764.9,2248.6 765.4,2243.3 766.4,2242.8 766.7,2240.6 767.8,2240.1 768.3,2238.3 769.8,2237.9 771.2,2240.8 772.4,2240 772.6,2237.6 773.8,2236.7 774.2,2235.1 775.8,2235.5 777.2,2239 778.7,2238.9 779.2,2236.9 781.8,2241.9 782.3,2239.7 783.8,2239.2 784.2,2237.1 785.7,2236.6 785.9,2234.1 787,2233.2 787.2,2230.8 788.8,2231.1 789.2,2229.5 791.8,2236.7 792.7,2239.1 793.5,2237.9 793.4,2235.3 794.1,2234.1 793.9,2231.4 794.7,2230.2 794.5,2227.5 795.2,2226.2 795.2,2223.6 795.9,2222.3 795.8,2219.6 797.1,2219.6 797.8,2218.4 800.3,2221.8 800.5,2219.9 801.6,2219.5 801.7,2217.5 804.2,2220.3 804.5,2218.3 805.7,2217.5 805.7,2215.1 806.9,2218.5 807,2220.6 808.3,2224.2 808.1,2221.9 809,2221 809,2219.1 809.8,2218 809.8,2216 811.2,2215.2 811.7,2213.3 813.2,2213.4 813.8,2212.3 815.2,2211.5 815.8,2209.7 818.4,2212.5 818.5,2210.3 819.5,2209.2 819.7,2207.1 822.4,2209.9 822.5,2207.9 823.5,2207 823.6,2205 826.2,2206.5 827.8,2209.8 828.9,2208.9 828.8,2206.7 829.9,2205.8 829.8,2203.5 830.7,2202.4 830.7,2200.2 831.9,2199.5 831.8,2197.2 832.8,2196.4 833,2194.6 834.1,2193.9 834.6,2192.5 836.2,2192.3 837.7,2192.7 838.8,2192.2 839,2190.5 840.1,2190.2 841.8,2191 844.4,2195.4 844.1,2193.4 844.8,2192.4 844.5,2190.4 845.3,2189.5 845.1,2187.6 846,2186.7 845.7,2184.7 847.2,2184.5 847.6,2183.4 848.8,2182.6 848.4,2180.4 849.5,2179.5 849.3,2177.4 850.3,2176.5 850.3,2178.2 851.4,2180.9 851.1,2182.5 852.2,2185.1 853.7,2186 854.5,2185 854.2,2183.3 854.9,2182.3 854.7,2180.6 855.5,2179.6 855,2177.7 855.8,2176.7 855.4,2174.8 856.4,2174 856.3,2172.3 857.7,2171.5 857.7,2169.8 859.3,2172.7 859.7,2174.8 860.6,2173.9 860.4,2172.2 861.6,2171.5 861.4,2169.9 862.2,2168.9 862.3,2167.5 863.3,2166.8 863.2,2165.4 864.4,2164.8 865.9,2164.9 866.9,2167.3 867.2,2169.1 868.2,2171.4 868.1,2169.9 868.9,2169 868.5,2167.3 869.4,2166.4 869.2,2164.8 870.1,2164 869.8,2162.4 870.5,2161.3 870,2159.5 870.7,2158.4 870.4,2156.7 871.1,2155.6 870.9,2153.9 871.5,2152.8 871.3,2151.1 873.8,2152.7 874.2,2151.1 875.8,2150.1 875.6,2148.6 876.6,2147.7 876.3,2146 877.4,2145.2 877.3,2143.6 878.9,2143.1 879.2,2141.8 880.1,2141 880,2139.6 880.9,2138.6 880.9,2137.3 881.6,2136.3 881.7,2134.9 882.5,2133.9 882.3,2132.4 883,2131.3 882.9,2129.9 883.8,2128.9 883.4,2127.3 884.5,2126.4 884.2,2124.9 885.1,2123.9 885,2122.4 885.7,2121.4 886.3,2120.5 887.8,2120.1 887.7,2121.4 888.9,2123.3 888.6,2124.5 889.8,2126.4 889.3,2124.7 890.1,2123.6 890,2122.1 890.5,2120.9 890.1,2119.2 890.9,2118.1 890.7,2116.5 891.4,2115.4 891.1,2113.8 891.7,2112.6 891.7,2111.2 892.5,2110.1 892.4,2108.6 893.4,2107.6 893.2,2106.1 894.8,2108.2 895.3,2109.9 895.8,2108.7 895.6,2107.2 896.2,2106 895.9,2104.4 896.6,2103.3 896.4,2101.7 897,2100.6 896.6,2099 897.3,2097.8 897.1,2096.3 897.7,2095.1 899.2,2097.4 900,2096.4 899.6,2094.9 900.5,2093.9 900.1,2092.4 900.9,2091.4 900.5,2089.9 901.2,2088.8 901,2087.4 901.8,2086.4 901.6,2085 902.2,2083.9 902,2082.4 902.5,2081.3 902.4,2079.9 903.1,2078.9 902.9,2077.4 903.5,2076.3 903.3,2074.9 904,2076.5 904,2077.8 904.8,2079.5 904.5,2080.7 905.5,2082.4 905.3,2083.7 906.2,2085.4 905.8,2086.6 906.7,2088.4 906.4,2089.6 907.3,2091.4 907,2089.8 907.5,2088.6 907.1,2087.1 907.6,2085.9 907.4,2084.4 908.1,2083.2 907.6,2081.7 908.2,2080.5 908,2079 908.4,2077.8 908.2,2076.3 908.8,2075.1 908.5,2073.7 909.2,2072.6 908.8,2071.2 909.5,2070.1 909.2,2068.6 909.8,2067.6 909.5,2066.2 910.3,2065.1 910,2063.6 910.5,2062.4 910.1,2060.8 910.9,2059.7 910.5,2058.1 911.1,2056.9 910.8,2055.4 911.3,2054.2 910.9,2052.6 911.6,2051.5 911.2,2049.9 911.9,2051.5 911.6,2052.7 912.1,2054.2 911.9,2055.5 912.6,2057 912.3,2058.3 912.8,2059.8 912.6,2061 913.3,2062.6 912.8,2063.8 913.4,2065.3 913,2066.5 913.6,2068 913.1,2069.2 913.7,2070.7 913.4,2071.9 913.9,2073.4 913.6,2074.6 914,2076.1 913.8,2077.4 914.3,2078.8 913.9,2077.3 914.4,2076.1 914,2074.6 914.7,2073.5 914.3,2072 914.8,2070.8 914.5,2069.3 915.1,2068.1 914.7,2066.6 915.2,2065.4 914.9,2063.9 915.4,2062.7 915.1,2061.3 915.7,2060.1 915.8,2061.6 916.8,2063.4 916.8,2064.9 917.3,2063.8 917.2,2062.5 917.7,2061.3 917.3,2059.9 918,2058.8 917.6,2057.4 918.3,2056.3 917.9,2054.9 918.6,2053.8 918.4,2052.5 919.1,2051.4 918.8,2049.9 919.6,2048.9 919.3,2047.4 919.9,2046.3 919.8,2044.9 920.4,2043.8 920,2042.3 920.5,2041.1 920,2039.6 920.7,2038.5 920.3,2037 920.8,2035.8 920.4,2034.3 920.9,2033.2 920.5,2031.7 921.1,2030.6 920.8,2029.1 921.2,2027.9 921,2026.5 921.4,2025.3 921,2023.8 921.8,2022.7 921.3,2021.2 922,2022.7 921.6,2023.9 922.2,2025.5 922,2026.7 922.6,2028.2 922.1,2029.4 922.9,2031 922.4,2032.2 923.1,2033.7 922.7,2034.9 923.5,2033.8 923.4,2032.4 924.3,2031.4 924.2,2030 924.8,2028.8 924.8,2027.4 925.5,2029.1 925.5,2030.5 926.2,2032.1 925.9,2033.4 926.8,2035.1 926.4,2033.6 926.9,2032.4 926.5,2030.9 927.2,2029.7 926.9,2028.2 927.5,2027 927.1,2025.5 927.6,2024.3 927.4,2022.8 927.9,2021.6 927.6,2020.1 928,2018.9 927.8,2017.4 928.4,2016.2 928.1,2014.7 928.6,2013.5 928.4,2012 929,2010.8 928.5,2009.2 929.2,2008 928.8,2006.5 929.5,2005.3 929.2,2003.8 929.6,2002.5 930.1,2001.2 931.3,2000.1 930.9,1998.7 931.4,1997.5 931.3,1996.2 931.9,1995.1 931.6,1993.7 932.1,1992.5 931.9,1991.2 932.4,1990.1 932.2,1988.7 932.7,1987.5 932.6,1988.9 933.3,1990.6 933.2,1992 933.9,1993.5 933.8,1994.9 934.4,1996.5 934.2,1997.8 934.8,1999.3 934.7,2000.7 935.2,2002.2 935,2003.5 935.7,2005.1 935.2,2003.6 935.8,2002.4 935.4,2000.9 935.8,1999.7 935.4,1998.2 935.8,1997 935.5,1995.5 935.9,1994.3 935.6,1992.9 936.1,1991.6 935.7,1990.2 936,1988.9 935.8,1987.5 936.1,1986.2 935.8,1984.8 936.4,1983.6 936,1982.1 936.3,1980.9 936,1979.4 936.4,1978.2 936,1976.7 936.4,1975.5 936.2,1974.1 936.7,1972.9 936.2,1971.4 936.7,1970.2 936.2,1968.7 936.7,1970.2 936.4,1971.4 936.9,1972.9 936.5,1974.1 937,1975.6 936.7,1976.9 937.1,1978.4 936.9,1979.6 937.3,1981.1 936.9,1982.4 937.4,1983.8 937.2,1985.1 937.6,1986.6 937.3,1987.9 937.8,1989.4 937.4,1990.6 937.9,1992.1 937.5,1993.3 938.1,1994.8 937.8,1996.1 938.3,1997.6 937.9,1996.1 938.4,1995 938,1993.5 938.6,1992.4 938.2,1990.9 938.6,1989.7 938.4,1988.3 938.9,1987.1 938.4,1985.7 939,1984.5 938.6,1983 939.1,1981.9 938.7,1980.4 939.3,1979.3 938.8,1977.8 939.5,1976.6 939.1,1975.2 939.4,1974 939.2,1972.6 939.6,1971.4 939.2,1969.9 939.8,1968.7 939.5,1967.2 939.8,1966 939.4,1964.5 940.1,1963.3 939.6,1961.8 940.2,1960.6 939.7,1959.1 940.4,1957.9 939.8,1956.4 940.3,1955.2 939.9,1953.6 940.5,1952.4 940.1,1950.9 940.6,1949.7 940.4,1948.3 940.9,1947.1 940.5,1945.6 940.8,1944.3 940.4,1942.8 941.1,1941.6 940.7,1940.1 941.2,1938.9 940.8,1937.4 941.6,1936.3 941.4,1934.9 942.2,1933.8 942.1,1932.4 942.9,1931.3 942.8,1930 943.5,1931.5 943.4,1932.8 944.1,1934.4 943.9,1935.6 944.6,1937.2 944.6,1938.5 945.3,1940.1 944.9,1938.7 945.7,1937.6 945.3,1936.2 946,1935.1 945.7,1933.7 946.3,1932.6 946.1,1931.2 946.6,1930 946.5,1931.3 947.2,1932.9 947,1934.1 947.5,1935.6 947.4,1936.9 948.1,1938.4 947.8,1939.6 948.4,1941.2 948.2,1942.4 948.9,1944 948.8,1945.3 949.5,1946.9 949.2,1948.2 950.1,1949.9 949.7,1951.1 950.3,1949.9 950,1948.4 950.7,1947.2 950.4,1945.7 951,1944.5 950.6,1942.9 951.2,1941.7 951.1,1940.2 951.7,1939 951.3,1937.4 951.9,1936.2 951.5,1934.6 952.2,1933.4 951.9,1931.8 952.5,1930.6 952.2,1929.1 952.9,1927.8 952.6,1926.3 953.3,1925.1 953,1923.6 953.6,1922.4 953.4,1920.9 954,1919.6 953.8,1918.1 954.2,1916.9 954,1915.4 954.6,1914.2 954.3,1912.6 955.1,1911.4 954.8,1909.9 955.7,1908.8 955.8,1907.4 956.7,1906.3 956.8,1904.9 957.4,1903.8 957.2,1902.2 957.7,1901.1 957.4,1899.5 958.1,1898.4 957.7,1896.8 958.4,1895.7 958,1894.1 958.6,1893 958.2,1891.4 959,1890.3 958.7,1888.8 959.2,1887.6 959,1886.1 959.7,1885 959.2,1883.3 959.8,1882.2 959.4,1880.6 960.2,1879.5 959.9,1878 960.6,1876.9 960.2,1875.3 960.8,1874.2 960.5,1872.6 961.2,1871.5 960.7,1869.9"/>
<line class="ti" x1="134.1" y1="2477.6" x2="147.6" y2="2477.6"/>
<text class="tk" text-anchor="end" x="120.4" y="2491.5">0.8</text>
<line class="ti" x1="134.1" y1="2396" x2="147.6" y2="2396"/>
<text class="tk" text-anchor="end" x="120.4" y="2409.9">0.9</text>
<line class="ti" x1="134.1" y1="2314.5" x2="147.6" y2="2314.5"/>
<text class="tk" text-anchor="end" x="120.4" y="2328.4">1.0</text>
<line class="ti" x1="134.1" y1="2232.9" x2="147.6" y2="2232.9"/>
<text class="tk" text-anchor="end" x="120.4" y="2246.8">1.1</text>
<line class="ti" x1="134.1" y1="2151.4" x2="147.6" y2="2151.4"/>
<text class="tk" text-anchor="end" x="120.4" y="2165.3">1.2</text>
<line class="ti" x1="134.1" y1="2069.8" x2="147.6" y2="2069.8"/>
<text class="tk" text-anchor="end" x="120.4" y="2083.7">1.3</text>
<line class="ti" x1="134.1" y1="1988.3" x2="147.6" y2="1988.3"/>
<text class="tk" text-anchor="end" x="120.4" y="2002.2">1.4</text>
<line class="ti" x1="134.1" y1="1906.7" x2="147.6" y2="1906.7"/>
<text class="tk" text-anchor="end" x="120.4" y="1920.6">1.5</text>
<line class="ti" x1="305.1" y1="2477.6" x2="305.1" y2="2491.1"/>
<text class="tk" text-anchor="middle" x="305.1" y="2532.6">1.0</text>
<line class="ti" x1="530" y1="2477.6" x2="530" y2="2491.1"/>
<text class="tk" text-anchor="middle" x="530" y="2532.6">1.5</text>
<line class="ti" x1="755" y1="2477.6" x2="755" y2="2491.1"/>
<text class="tk" text-anchor="middle" x="755" y="2532.6">2.0</text>
<line class="ti" x1="979.9" y1="2477.6" x2="979.9" y2="2491.1"/>
<text class="tk" text-anchor="middle" x="979.9" y="2532.6">2.5</text>
<rect class="sp" x="147.6" y="1906.7" width="832.3" height="570.9"/>
<rect class="lgb" x="166.5" y="1925.6" width="561.1" height="70" rx="6" ry="6"/>
<line class="lgl" x1="174.5" y1="1959.4" x2="221.7" y2="1959.4"/>
<text class="lg" x="230" y="1972">1996 FG3 (04-27-2022)</text>
<text class="lb" text-anchor="middle" transform="translate(37,2191.5) rotate(-90)">Reflectance</text>
<text class="lb xl" text-anchor="middle" x="564" y="2592.1">Wavelength (<tspan class="it">μm</tspan>)</text>
</g>
</svg>
</body></html>
